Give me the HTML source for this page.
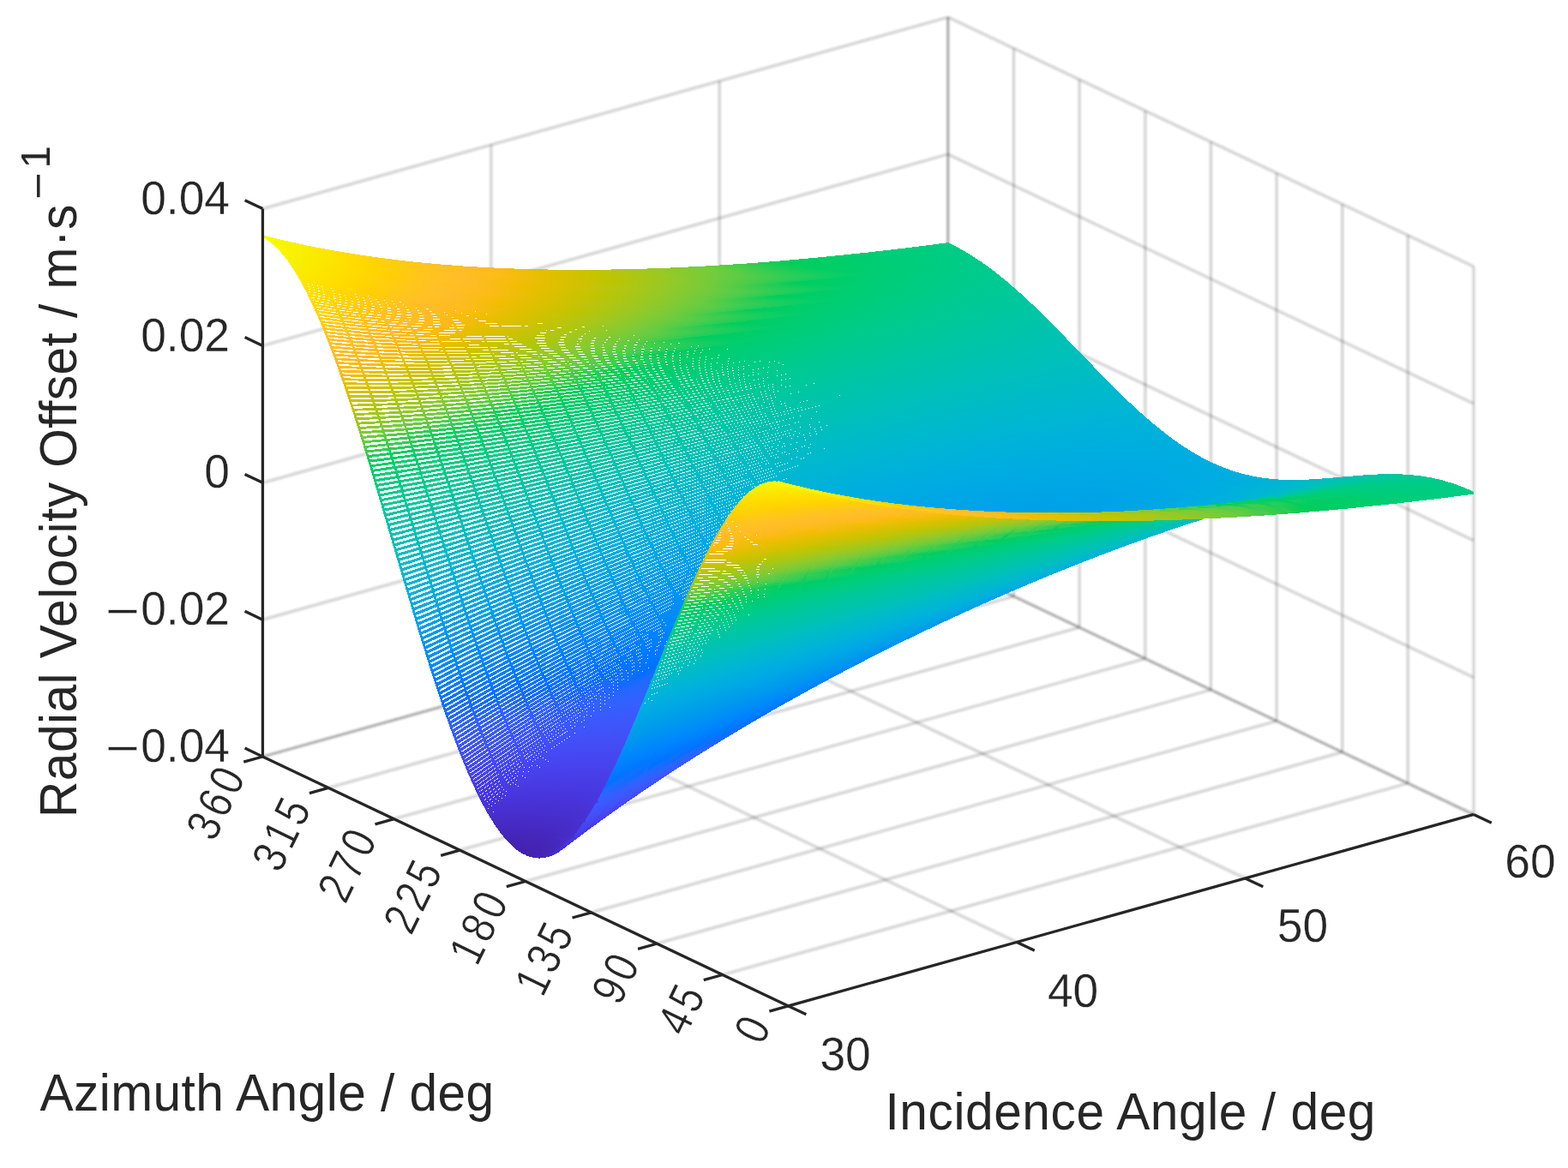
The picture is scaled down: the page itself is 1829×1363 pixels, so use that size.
<!DOCTYPE html>
<html lang="en"><head><meta charset="utf-8"><title>Radial Velocity Offset</title>
<style>
html,body{margin:0;padding:0;background:#fff}
body{width:1829px;height:1363px;overflow:hidden}
svg{display:block}
text{font-family:"Liberation Sans",Arial,Helvetica,sans-serif;fill:#262626}
</style></head><body>
<svg width="1829" height="1363" viewBox="0 0 1829 1363">
<defs>
<filter id="bl" x="0" y="0" width="1829" height="1363" filterUnits="userSpaceOnUse"><feGaussianBlur stdDeviation="0.8"/></filter>
<linearGradient id="a0" gradientUnits="userSpaceOnUse" x1="0" x2="799.4"><stop offset="0" stop-color="#f9fb00"/><stop offset=".043" stop-color="#f8f000"/><stop offset=".09" stop-color="#fce400"/><stop offset=".142" stop-color="#ffd700"/><stop offset=".197" stop-color="#ffca12"/><stop offset=".257" stop-color="#ffbf28"/><stop offset=".322" stop-color="#ffbb1d"/><stop offset=".393" stop-color="#e8be00"/><stop offset=".471" stop-color="#c9c300"/><stop offset=".557" stop-color="#a2c81e"/><stop offset=".653" stop-color="#70cc3e"/><stop offset=".761" stop-color="#00ce5a"/><stop offset=".886" stop-color="#00ce74"/><stop offset="1" stop-color="#00cc86"/></linearGradient>
<linearGradient id="a1" gradientUnits="userSpaceOnUse" x1="0" x2="799.4"><stop offset="0" stop-color="#f9fb00"/><stop offset=".043" stop-color="#f8f000"/><stop offset=".09" stop-color="#fce400"/><stop offset=".142" stop-color="#ffd700"/><stop offset=".197" stop-color="#ffca12"/><stop offset=".257" stop-color="#ffbf28"/><stop offset=".322" stop-color="#ffbb1d"/><stop offset=".393" stop-color="#e8be00"/><stop offset=".471" stop-color="#c9c300"/><stop offset=".557" stop-color="#a2c81e"/><stop offset=".653" stop-color="#70cc3e"/><stop offset=".761" stop-color="#00ce5a"/><stop offset=".886" stop-color="#00ce74"/><stop offset="1" stop-color="#00cc86"/></linearGradient>
<linearGradient id="a2" gradientUnits="userSpaceOnUse" x1="0" x2="799.4"><stop offset="0" stop-color="#f9fb00"/><stop offset=".043" stop-color="#f8f000"/><stop offset=".09" stop-color="#fce300"/><stop offset=".142" stop-color="#ffd700"/><stop offset=".197" stop-color="#ffca12"/><stop offset=".257" stop-color="#ffbf29"/><stop offset=".322" stop-color="#ffbb1d"/><stop offset=".393" stop-color="#e8be00"/><stop offset=".471" stop-color="#c9c300"/><stop offset=".557" stop-color="#a2c81e"/><stop offset=".653" stop-color="#70cc3e"/><stop offset=".761" stop-color="#00ce5a"/><stop offset=".886" stop-color="#00ce74"/><stop offset="1" stop-color="#00cc86"/></linearGradient>
<linearGradient id="a3" gradientUnits="userSpaceOnUse" x1="0" x2="799.4"><stop offset="0" stop-color="#f9fb00"/><stop offset=".043" stop-color="#f8ef00"/><stop offset=".09" stop-color="#fce300"/><stop offset=".142" stop-color="#ffd700"/><stop offset=".197" stop-color="#ffca12"/><stop offset=".257" stop-color="#ffbf29"/><stop offset=".322" stop-color="#ffbb1c"/><stop offset=".393" stop-color="#e8be00"/><stop offset=".471" stop-color="#c8c300"/><stop offset=".557" stop-color="#a1c81e"/><stop offset=".653" stop-color="#6fcc3e"/><stop offset=".761" stop-color="#00ce5a"/><stop offset=".886" stop-color="#00ce74"/><stop offset="1" stop-color="#00cc86"/></linearGradient>
<linearGradient id="a4" gradientUnits="userSpaceOnUse" x1="0" x2="799.4"><stop offset="0" stop-color="#f9fb00"/><stop offset=".043" stop-color="#f8ef00"/><stop offset=".09" stop-color="#fce300"/><stop offset=".142" stop-color="#ffd700"/><stop offset=".197" stop-color="#ffca12"/><stop offset=".257" stop-color="#ffbf29"/><stop offset=".322" stop-color="#ffbb1c"/><stop offset=".393" stop-color="#e8be00"/><stop offset=".471" stop-color="#c8c300"/><stop offset=".557" stop-color="#a1c81e"/><stop offset=".654" stop-color="#6ecc3f"/><stop offset=".764" stop-color="#00ce5b"/><stop offset=".889" stop-color="#00cd75"/><stop offset="1" stop-color="#00cc86"/></linearGradient>
<linearGradient id="a5" gradientUnits="userSpaceOnUse" x1="0" x2="799.4"><stop offset="0" stop-color="#f9fa00"/><stop offset=".044" stop-color="#f8ef00"/><stop offset=".092" stop-color="#fde300"/><stop offset=".143" stop-color="#ffd600"/><stop offset=".199" stop-color="#ffca14"/><stop offset=".258" stop-color="#ffbf29"/><stop offset=".324" stop-color="#ffbb1b"/><stop offset=".396" stop-color="#e6bf00"/><stop offset=".475" stop-color="#c6c300"/><stop offset=".562" stop-color="#9ec821"/><stop offset=".66" stop-color="#6acc41"/><stop offset=".769" stop-color="#00ce5c"/><stop offset=".896" stop-color="#00cd76"/><stop offset="1" stop-color="#00cc86"/></linearGradient>
<linearGradient id="a6" gradientUnits="userSpaceOnUse" x1="0" x2="799.4"><stop offset="0" stop-color="#f9fa00"/><stop offset=".044" stop-color="#f9ee00"/><stop offset=".092" stop-color="#fde200"/><stop offset=".143" stop-color="#ffd600"/><stop offset=".199" stop-color="#ffc914"/><stop offset=".258" stop-color="#ffbe29"/><stop offset=".324" stop-color="#ffbb1a"/><stop offset=".396" stop-color="#e6bf00"/><stop offset=".475" stop-color="#c5c300"/><stop offset=".562" stop-color="#9dc821"/><stop offset=".66" stop-color="#6acc41"/><stop offset=".769" stop-color="#00ce5c"/><stop offset=".896" stop-color="#00cd76"/><stop offset="1" stop-color="#00cc86"/></linearGradient>
<linearGradient id="a7" gradientUnits="userSpaceOnUse" x1="0" x2="799.4"><stop offset="0" stop-color="#f9fa00"/><stop offset=".044" stop-color="#f9ee00"/><stop offset=".092" stop-color="#fde200"/><stop offset=".143" stop-color="#ffd500"/><stop offset=".199" stop-color="#ffc915"/><stop offset=".258" stop-color="#ffbe29"/><stop offset=".324" stop-color="#ffbc1a"/><stop offset=".396" stop-color="#e5bf00"/><stop offset=".475" stop-color="#c5c400"/><stop offset=".562" stop-color="#9dc822"/><stop offset=".66" stop-color="#69cc41"/><stop offset=".771" stop-color="#00ce5d"/><stop offset=".897" stop-color="#00cd77"/><stop offset="1" stop-color="#00cc86"/></linearGradient>
<linearGradient id="a8" gradientUnits="userSpaceOnUse" x1="0" x2="799.4"><stop offset="0" stop-color="#f8f900"/><stop offset=".044" stop-color="#f9ee00"/><stop offset=".092" stop-color="#fde200"/><stop offset=".143" stop-color="#ffd500"/><stop offset=".199" stop-color="#ffc916"/><stop offset=".26" stop-color="#ffbe29"/><stop offset=".326" stop-color="#febc17"/><stop offset=".399" stop-color="#e3bf00"/><stop offset=".478" stop-color="#c3c400"/><stop offset=".565" stop-color="#9bc923"/><stop offset=".664" stop-color="#66cc43"/><stop offset=".775" stop-color="#00ce5e"/><stop offset=".903" stop-color="#00cd78"/><stop offset="1" stop-color="#00cc87"/></linearGradient>
<linearGradient id="a9" gradientUnits="userSpaceOnUse" x1="0" x2="799.4"><stop offset="0" stop-color="#f8f900"/><stop offset=".044" stop-color="#f9ed00"/><stop offset=".092" stop-color="#fee100"/><stop offset=".143" stop-color="#ffd500"/><stop offset=".199" stop-color="#ffc817"/><stop offset=".26" stop-color="#ffbe29"/><stop offset=".326" stop-color="#fdbc16"/><stop offset=".399" stop-color="#e3bf00"/><stop offset=".478" stop-color="#c2c400"/><stop offset=".567" stop-color="#99c924"/><stop offset=".665" stop-color="#64cc44"/><stop offset=".776" stop-color="#00ce5f"/><stop offset=".906" stop-color="#00cd79"/><stop offset="1" stop-color="#00cc87"/></linearGradient>
<linearGradient id="a10" gradientUnits="userSpaceOnUse" x1="0" x2="799.4"><stop offset="0" stop-color="#f8f800"/><stop offset=".044" stop-color="#f9ed00"/><stop offset=".092" stop-color="#fee100"/><stop offset=".143" stop-color="#ffd400"/><stop offset=".199" stop-color="#ffc818"/><stop offset=".26" stop-color="#ffbe29"/><stop offset=".326" stop-color="#fcbc15"/><stop offset=".399" stop-color="#e2bf00"/><stop offset=".479" stop-color="#c1c400"/><stop offset=".568" stop-color="#98c926"/><stop offset=".668" stop-color="#61cc45"/><stop offset=".781" stop-color="#00ce60"/><stop offset=".91" stop-color="#00cd79"/><stop offset="1" stop-color="#00cc87"/></linearGradient>
<linearGradient id="a11" gradientUnits="userSpaceOnUse" x1="0" x2="799.4"><stop offset="0" stop-color="#f8f800"/><stop offset=".044" stop-color="#f9ec00"/><stop offset=".093" stop-color="#ffe000"/><stop offset=".144" stop-color="#ffd300"/><stop offset=".2" stop-color="#ffc719"/><stop offset=".261" stop-color="#ffbd29"/><stop offset=".328" stop-color="#fbbc13"/><stop offset=".401" stop-color="#e0bf00"/><stop offset=".482" stop-color="#bfc400"/><stop offset=".571" stop-color="#95c927"/><stop offset=".671" stop-color="#5ecc46"/><stop offset=".785" stop-color="#00ce62"/><stop offset=".915" stop-color="#00cd7b"/><stop offset="1" stop-color="#00cc87"/></linearGradient>
<linearGradient id="a12" gradientUnits="userSpaceOnUse" x1="0" x2="799.4"><stop offset="0" stop-color="#f8f700"/><stop offset=".044" stop-color="#f9eb00"/><stop offset=".093" stop-color="#ffdf00"/><stop offset=".146" stop-color="#ffd200"/><stop offset=".203" stop-color="#ffc61b"/><stop offset=".264" stop-color="#ffbd2a"/><stop offset=".331" stop-color="#f9bc0f"/><stop offset=".404" stop-color="#dec000"/><stop offset=".485" stop-color="#bcc501"/><stop offset=".575" stop-color="#92c929"/><stop offset=".676" stop-color="#59cd48"/><stop offset=".79" stop-color="#00ce63"/><stop offset=".922" stop-color="#00cd7c"/><stop offset="1" stop-color="#00cc87"/></linearGradient>
<linearGradient id="a13" gradientUnits="userSpaceOnUse" x1="0" x2="799.4"><stop offset="0" stop-color="#f8f600"/><stop offset=".044" stop-color="#f9eb00"/><stop offset=".093" stop-color="#ffde00"/><stop offset=".146" stop-color="#ffd200"/><stop offset=".203" stop-color="#ffc61c"/><stop offset=".265" stop-color="#ffbc2a"/><stop offset=".333" stop-color="#f8bc0b"/><stop offset=".407" stop-color="#dcc000"/><stop offset=".489" stop-color="#bac505"/><stop offset=".579" stop-color="#8fca2c"/><stop offset=".681" stop-color="#55cd4a"/><stop offset=".796" stop-color="#00ce65"/><stop offset=".929" stop-color="#00cd7d"/><stop offset="1" stop-color="#00cc88"/></linearGradient>
<linearGradient id="a14" gradientUnits="userSpaceOnUse" x1="0" x2="799.4"><stop offset="0" stop-color="#f8f600"/><stop offset=".044" stop-color="#f9ea00"/><stop offset=".093" stop-color="#ffde00"/><stop offset=".146" stop-color="#ffd100"/><stop offset=".203" stop-color="#ffc51e"/><stop offset=".265" stop-color="#ffbc2a"/><stop offset=".333" stop-color="#f7bc08"/><stop offset=".408" stop-color="#dac000"/><stop offset=".49" stop-color="#b8c507"/><stop offset=".582" stop-color="#8cca2d"/><stop offset=".685" stop-color="#50cd4c"/><stop offset=".801" stop-color="#00ce67"/><stop offset=".936" stop-color="#00cd7f"/><stop offset="1" stop-color="#00cc88"/></linearGradient>
<linearGradient id="a15" gradientUnits="userSpaceOnUse" x1="0" x2="799.4"><stop offset="0" stop-color="#f8f500"/><stop offset=".046" stop-color="#fae900"/><stop offset=".094" stop-color="#ffdd00"/><stop offset=".147" stop-color="#ffd000"/><stop offset=".204" stop-color="#ffc41f"/><stop offset=".267" stop-color="#ffbc2a"/><stop offset=".335" stop-color="#f5bc05"/><stop offset=".41" stop-color="#d9c100"/><stop offset=".493" stop-color="#b5c60b"/><stop offset=".585" stop-color="#89ca2f"/><stop offset=".689" stop-color="#4bcd4d"/><stop offset=".807" stop-color="#00ce68"/><stop offset=".944" stop-color="#00cd80"/><stop offset="1" stop-color="#00cc88"/></linearGradient>
<linearGradient id="a16" gradientUnits="userSpaceOnUse" x1="0" x2="799.4"><stop offset="0" stop-color="#f8f400"/><stop offset=".046" stop-color="#fae800"/><stop offset=".094" stop-color="#ffdc00"/><stop offset=".147" stop-color="#ffcf02"/><stop offset=".206" stop-color="#ffc421"/><stop offset=".268" stop-color="#ffbc28"/><stop offset=".338" stop-color="#f3bd02"/><stop offset=".414" stop-color="#d6c100"/><stop offset=".497" stop-color="#b2c60f"/><stop offset=".59" stop-color="#85ca32"/><stop offset=".694" stop-color="#44cd50"/><stop offset=".814" stop-color="#00ce6a"/><stop offset=".953" stop-color="#00cc82"/><stop offset="1" stop-color="#00cc88"/></linearGradient>
<linearGradient id="a17" gradientUnits="userSpaceOnUse" x1="0" x2="799.4"><stop offset="0" stop-color="#f8f300"/><stop offset=".046" stop-color="#fae700"/><stop offset=".096" stop-color="#ffdb00"/><stop offset=".15" stop-color="#ffce06"/><stop offset=".208" stop-color="#ffc223"/><stop offset=".272" stop-color="#ffbb25"/><stop offset=".342" stop-color="#f0bd00"/><stop offset=".418" stop-color="#d3c200"/><stop offset=".503" stop-color="#aec713"/><stop offset=".597" stop-color="#80cb35"/><stop offset=".703" stop-color="#3acd52"/><stop offset=".824" stop-color="#00ce6d"/><stop offset=".965" stop-color="#00cc84"/><stop offset="1" stop-color="#00cc89"/></linearGradient>
<linearGradient id="a18" gradientUnits="userSpaceOnUse" x1="0" x2="799.4"><stop offset="0" stop-color="#f8f200"/><stop offset=".046" stop-color="#fbe600"/><stop offset=".096" stop-color="#ffda00"/><stop offset=".15" stop-color="#ffcd09"/><stop offset=".208" stop-color="#ffc224"/><stop offset=".272" stop-color="#ffbb24"/><stop offset=".342" stop-color="#efbd00"/><stop offset=".418" stop-color="#d1c200"/><stop offset=".503" stop-color="#acc715"/><stop offset=".597" stop-color="#7ecb36"/><stop offset=".704" stop-color="#35cd53"/><stop offset=".826" stop-color="#00ce6e"/><stop offset=".969" stop-color="#00cc85"/><stop offset="1" stop-color="#00cc89"/></linearGradient>
<linearGradient id="a19" gradientUnits="userSpaceOnUse" x1="0" x2="799.4"><stop offset="0" stop-color="#f8f100"/><stop offset=".046" stop-color="#fbe500"/><stop offset=".096" stop-color="#ffd900"/><stop offset=".15" stop-color="#ffcc0c"/><stop offset=".208" stop-color="#ffc125"/><stop offset=".272" stop-color="#ffbb22"/><stop offset=".343" stop-color="#edbe00"/><stop offset=".421" stop-color="#cec200"/><stop offset=".507" stop-color="#a9c718"/><stop offset=".603" stop-color="#79cb39"/><stop offset=".711" stop-color="#29ce56"/><stop offset=".835" stop-color="#00ce70"/><stop offset=".981" stop-color="#00cc87"/><stop offset="1" stop-color="#00cc89"/></linearGradient>
<linearGradient id="a20" gradientUnits="userSpaceOnUse" x1="0" x2="799.4"><stop offset="0" stop-color="#f8f000"/><stop offset=".046" stop-color="#fce400"/><stop offset=".096" stop-color="#ffd800"/><stop offset=".15" stop-color="#ffcc0f"/><stop offset=".21" stop-color="#ffc027"/><stop offset=".275" stop-color="#ffbb1f"/><stop offset=".346" stop-color="#eabe00"/><stop offset=".424" stop-color="#ccc300"/><stop offset=".511" stop-color="#a5c81b"/><stop offset=".608" stop-color="#74cb3c"/><stop offset=".718" stop-color="#17ce58"/><stop offset=".844" stop-color="#00ce72"/><stop offset=".993" stop-color="#00cc89"/><stop offset="1" stop-color="#00cb8a"/></linearGradient>
<linearGradient id="a21" gradientUnits="userSpaceOnUse" x1="0" x2="799.4"><stop offset="0" stop-color="#f8ef00"/><stop offset=".047" stop-color="#fce300"/><stop offset=".099" stop-color="#ffd600"/><stop offset=".154" stop-color="#ffca13"/><stop offset=".214" stop-color="#ffbf29"/><stop offset=".279" stop-color="#ffbb1b"/><stop offset=".351" stop-color="#e7be00"/><stop offset=".431" stop-color="#c7c300"/><stop offset=".519" stop-color="#9fc820"/><stop offset=".618" stop-color="#6ccc40"/><stop offset=".731" stop-color="#00ce5c"/><stop offset=".86" stop-color="#00cd76"/><stop offset="1" stop-color="#00cb8a"/></linearGradient>
<linearGradient id="a22" gradientUnits="userSpaceOnUse" x1="0" x2="799.4"><stop offset="0" stop-color="#f9ee00"/><stop offset=".047" stop-color="#fde200"/><stop offset=".099" stop-color="#ffd500"/><stop offset=".154" stop-color="#ffc916"/><stop offset=".215" stop-color="#ffbe29"/><stop offset=".282" stop-color="#febc17"/><stop offset=".354" stop-color="#e4bf00"/><stop offset=".435" stop-color="#c3c400"/><stop offset=".524" stop-color="#9bc923"/><stop offset=".624" stop-color="#66cc43"/><stop offset=".738" stop-color="#00ce5e"/><stop offset=".868" stop-color="#00cd78"/><stop offset="1" stop-color="#00cb8b"/></linearGradient>
<linearGradient id="a23" gradientUnits="userSpaceOnUse" x1="0" x2="799.4"><stop offset="0" stop-color="#f9ed00"/><stop offset=".047" stop-color="#fee000"/><stop offset=".099" stop-color="#ffd400"/><stop offset=".154" stop-color="#ffc818"/><stop offset=".215" stop-color="#ffbd29"/><stop offset=".282" stop-color="#fcbc15"/><stop offset=".356" stop-color="#e1bf00"/><stop offset=".436" stop-color="#c1c400"/><stop offset=".526" stop-color="#97c926"/><stop offset=".628" stop-color="#61cc45"/><stop offset=".743" stop-color="#00ce60"/><stop offset=".876" stop-color="#00cd7a"/><stop offset="1" stop-color="#00cb8b"/></linearGradient>
<linearGradient id="a24" gradientUnits="userSpaceOnUse" x1="0" x2="799.4"><stop offset="0" stop-color="#f9eb00"/><stop offset=".047" stop-color="#ffdf00"/><stop offset=".099" stop-color="#ffd300"/><stop offset=".156" stop-color="#ffc71b"/><stop offset=".217" stop-color="#ffbd2a"/><stop offset=".285" stop-color="#f9bc0f"/><stop offset=".358" stop-color="#dec000"/><stop offset=".44" stop-color="#bdc501"/><stop offset=".532" stop-color="#92c929"/><stop offset=".635" stop-color="#5acd48"/><stop offset=".751" stop-color="#00ce63"/><stop offset=".888" stop-color="#00cd7c"/><stop offset="1" stop-color="#00cb8c"/></linearGradient>
<linearGradient id="a25" gradientUnits="userSpaceOnUse" x1="0" x2="799.4"><stop offset="0" stop-color="#f9ea00"/><stop offset=".049" stop-color="#ffdd00"/><stop offset=".101" stop-color="#ffd100"/><stop offset=".158" stop-color="#ffc51e"/><stop offset=".221" stop-color="#ffbc2a"/><stop offset=".289" stop-color="#f6bc07"/><stop offset=".364" stop-color="#dac000"/><stop offset=".447" stop-color="#b7c508"/><stop offset=".54" stop-color="#8cca2e"/><stop offset=".644" stop-color="#50cd4c"/><stop offset=".764" stop-color="#00ce67"/><stop offset=".903" stop-color="#00cd7f"/><stop offset="1" stop-color="#00cb8c"/></linearGradient>
<linearGradient id="a26" gradientUnits="userSpaceOnUse" x1="0" x2="799.4"><stop offset="0" stop-color="#fae800"/><stop offset=".049" stop-color="#ffdc00"/><stop offset=".101" stop-color="#ffd001"/><stop offset=".158" stop-color="#ffc420"/><stop offset=".221" stop-color="#ffbc29"/><stop offset=".29" stop-color="#f4bd03"/><stop offset=".367" stop-color="#d7c100"/><stop offset=".451" stop-color="#b3c60d"/><stop offset=".546" stop-color="#86ca31"/><stop offset=".653" stop-color="#46cd4f"/><stop offset=".775" stop-color="#00ce6a"/><stop offset=".917" stop-color="#00cd82"/><stop offset="1" stop-color="#00cb8c"/></linearGradient>
<linearGradient id="a27" gradientUnits="userSpaceOnUse" x1="0" x2="799.4"><stop offset="0" stop-color="#fbe700"/><stop offset=".049" stop-color="#ffdb00"/><stop offset=".101" stop-color="#ffce06"/><stop offset=".16" stop-color="#ffc223"/><stop offset=".224" stop-color="#ffbb26"/><stop offset=".293" stop-color="#f1bd00"/><stop offset=".371" stop-color="#d3c200"/><stop offset=".457" stop-color="#aec613"/><stop offset=".553" stop-color="#80cb35"/><stop offset=".661" stop-color="#3acd52"/><stop offset=".785" stop-color="#00ce6d"/><stop offset=".931" stop-color="#00cc84"/><stop offset="1" stop-color="#00cb8d"/></linearGradient>
<linearGradient id="a28" gradientUnits="userSpaceOnUse" x1="0" x2="799.4"><stop offset="0" stop-color="#fbe500"/><stop offset=".05" stop-color="#ffd900"/><stop offset=".104" stop-color="#ffcc0c"/><stop offset=".163" stop-color="#ffc125"/><stop offset=".226" stop-color="#ffbb22"/><stop offset=".297" stop-color="#edbe00"/><stop offset=".375" stop-color="#cfc200"/><stop offset=".463" stop-color="#a9c718"/><stop offset=".56" stop-color="#79cb39"/><stop offset=".669" stop-color="#2bcd55"/><stop offset=".796" stop-color="#00ce70"/><stop offset=".944" stop-color="#00cc87"/><stop offset="1" stop-color="#00cb8d"/></linearGradient>
<linearGradient id="a29" gradientUnits="userSpaceOnUse" x1="0" x2="799.4"><stop offset="0" stop-color="#fce400"/><stop offset=".05" stop-color="#ffd700"/><stop offset=".104" stop-color="#ffcb10"/><stop offset=".164" stop-color="#ffbf28"/><stop offset=".229" stop-color="#ffbb1e"/><stop offset=".301" stop-color="#e9be00"/><stop offset=".381" stop-color="#cac300"/><stop offset=".469" stop-color="#a3c81d"/><stop offset=".569" stop-color="#71cc3e"/><stop offset=".682" stop-color="#06ce59"/><stop offset=".812" stop-color="#00ce74"/><stop offset=".967" stop-color="#00cb8a"/><stop offset="1" stop-color="#00cb8e"/></linearGradient>
<linearGradient id="a30" gradientUnits="userSpaceOnUse" x1="0" x2="799.4"><stop offset="0" stop-color="#fde200"/><stop offset=".05" stop-color="#ffd600"/><stop offset=".106" stop-color="#ffc915"/><stop offset=".165" stop-color="#ffbe29"/><stop offset=".232" stop-color="#ffbb1a"/><stop offset=".304" stop-color="#e6bf00"/><stop offset=".385" stop-color="#c6c300"/><stop offset=".475" stop-color="#9dc821"/><stop offset=".576" stop-color="#6acc41"/><stop offset=".692" stop-color="#00ce5d"/><stop offset=".825" stop-color="#00cd77"/><stop offset=".983" stop-color="#00cb8d"/><stop offset="1" stop-color="#00cb8e"/></linearGradient>
<linearGradient id="a31" gradientUnits="userSpaceOnUse" x1="0" x2="799.4"><stop offset="0" stop-color="#fee000"/><stop offset=".051" stop-color="#ffd400"/><stop offset=".107" stop-color="#ffc819"/><stop offset=".168" stop-color="#ffbd29"/><stop offset=".235" stop-color="#fcbc14"/><stop offset=".308" stop-color="#e1bf00"/><stop offset=".39" stop-color="#c0c400"/><stop offset=".482" stop-color="#97c926"/><stop offset=".585" stop-color="#61cc45"/><stop offset=".703" stop-color="#00ce61"/><stop offset=".839" stop-color="#00cd7a"/><stop offset="1" stop-color="#00cb8f"/></linearGradient>
<linearGradient id="a32" gradientUnits="userSpaceOnUse" x1="0" x2="799.4"><stop offset="0" stop-color="#ffdf00"/><stop offset=".051" stop-color="#ffd200"/><stop offset=".108" stop-color="#ffc61c"/><stop offset=".171" stop-color="#ffbc2a"/><stop offset=".239" stop-color="#f8bc0c"/><stop offset=".314" stop-color="#ddc000"/><stop offset=".397" stop-color="#bac504"/><stop offset=".49" stop-color="#90ca2b"/><stop offset=".596" stop-color="#56cd4a"/><stop offset=".717" stop-color="#00ce65"/><stop offset=".857" stop-color="#00cd7d"/><stop offset="1" stop-color="#00cb90"/></linearGradient>
<linearGradient id="a33" gradientUnits="userSpaceOnUse" x1="0" x2="799.4"><stop offset="0" stop-color="#ffdd00"/><stop offset=".053" stop-color="#ffd000"/><stop offset=".11" stop-color="#ffc41f"/><stop offset=".172" stop-color="#ffbc2a"/><stop offset=".242" stop-color="#f5bc04"/><stop offset=".318" stop-color="#d8c100"/><stop offset=".403" stop-color="#b5c60b"/><stop offset=".499" stop-color="#88ca30"/><stop offset=".607" stop-color="#49cd4e"/><stop offset=".731" stop-color="#00ce69"/><stop offset=".875" stop-color="#00cd81"/><stop offset="1" stop-color="#00ca90"/></linearGradient>
<linearGradient id="a34" gradientUnits="userSpaceOnUse" x1="0" x2="799.4"><stop offset="0" stop-color="#ffdb00"/><stop offset=".053" stop-color="#ffce06"/><stop offset=".111" stop-color="#ffc223"/><stop offset=".175" stop-color="#ffbb26"/><stop offset=".246" stop-color="#f0bd00"/><stop offset=".324" stop-color="#d3c200"/><stop offset=".41" stop-color="#aec613"/><stop offset=".507" stop-color="#80cb35"/><stop offset=".617" stop-color="#3bcd52"/><stop offset=".743" stop-color="#00ce6c"/><stop offset=".892" stop-color="#00cc84"/><stop offset="1" stop-color="#00ca91"/></linearGradient>
<linearGradient id="a35" gradientUnits="userSpaceOnUse" x1="0" x2="799.4"><stop offset="0" stop-color="#ffd900"/><stop offset=".054" stop-color="#ffcc0c"/><stop offset=".113" stop-color="#ffc126"/><stop offset=".176" stop-color="#ffbb22"/><stop offset=".247" stop-color="#edbe00"/><stop offset=".326" stop-color="#cec200"/><stop offset=".414" stop-color="#a9c718"/><stop offset=".513" stop-color="#79cb39"/><stop offset=".625" stop-color="#2ace56"/><stop offset=".754" stop-color="#00ce70"/><stop offset=".907" stop-color="#00cc87"/><stop offset="1" stop-color="#00ca91"/></linearGradient>
<linearGradient id="a36" gradientUnits="userSpaceOnUse" x1="0" x2="799.4"><stop offset="0" stop-color="#ffd700"/><stop offset=".054" stop-color="#ffcb11"/><stop offset=".114" stop-color="#ffbf28"/><stop offset=".179" stop-color="#ffbb1d"/><stop offset=".251" stop-color="#e8be00"/><stop offset=".332" stop-color="#c9c300"/><stop offset=".422" stop-color="#a2c81e"/><stop offset=".524" stop-color="#6fcc3e"/><stop offset=".639" stop-color="#00ce5a"/><stop offset=".772" stop-color="#00ce74"/><stop offset=".931" stop-color="#00cb8a"/><stop offset="1" stop-color="#00ca92"/></linearGradient>
<linearGradient id="a37" gradientUnits="userSpaceOnUse" x1="0" x2="799.4"><stop offset="0" stop-color="#ffd500"/><stop offset=".056" stop-color="#ffc817"/><stop offset=".115" stop-color="#ffbe29"/><stop offset=".182" stop-color="#febc17"/><stop offset=".256" stop-color="#e3bf00"/><stop offset=".338" stop-color="#c3c400"/><stop offset=".429" stop-color="#9ac924"/><stop offset=".533" stop-color="#65cc43"/><stop offset=".651" stop-color="#00ce5e"/><stop offset=".789" stop-color="#00cd78"/><stop offset=".954" stop-color="#00cb8e"/><stop offset="1" stop-color="#00ca92"/></linearGradient>
<linearGradient id="a38" gradientUnits="userSpaceOnUse" x1="0" x2="799.4"><stop offset="0" stop-color="#ffd300"/><stop offset=".056" stop-color="#ffc71b"/><stop offset=".117" stop-color="#ffbd2a"/><stop offset=".185" stop-color="#fabc10"/><stop offset=".26" stop-color="#dec000"/><stop offset=".343" stop-color="#bdc501"/><stop offset=".438" stop-color="#92c929"/><stop offset=".544" stop-color="#59cd48"/><stop offset=".667" stop-color="#00ce63"/><stop offset=".81" stop-color="#00cd7c"/><stop offset=".982" stop-color="#00ca91"/><stop offset="1" stop-color="#00ca93"/></linearGradient>
<linearGradient id="a39" gradientUnits="userSpaceOnUse" x1="0" x2="799.4"><stop offset="0" stop-color="#ffd100"/><stop offset=".057" stop-color="#ffc51f"/><stop offset=".119" stop-color="#ffbc2a"/><stop offset=".189" stop-color="#f5bc05"/><stop offset=".265" stop-color="#d9c100"/><stop offset=".351" stop-color="#b5c60b"/><stop offset=".447" stop-color="#89ca2f"/><stop offset=".557" stop-color="#4bcd4d"/><stop offset=".683" stop-color="#00ce68"/><stop offset=".831" stop-color="#00cd80"/><stop offset="1" stop-color="#00ca94"/></linearGradient>
<linearGradient id="a40" gradientUnits="userSpaceOnUse" x1="0" x2="799.4"><stop offset="0" stop-color="#ffce05"/><stop offset=".057" stop-color="#ffc322"/><stop offset=".121" stop-color="#ffbb26"/><stop offset=".19" stop-color="#f1bd00"/><stop offset=".268" stop-color="#d4c100"/><stop offset=".356" stop-color="#afc612"/><stop offset=".454" stop-color="#81cb34"/><stop offset=".567" stop-color="#3ccd52"/><stop offset=".696" stop-color="#00ce6c"/><stop offset=".849" stop-color="#00cc84"/><stop offset="1" stop-color="#00ca94"/></linearGradient>
<linearGradient id="a41" gradientUnits="userSpaceOnUse" x1="0" x2="799.4"><stop offset="0" stop-color="#ffcc0d"/><stop offset=".058" stop-color="#ffc126"/><stop offset=".122" stop-color="#ffbb21"/><stop offset=".193" stop-color="#ecbe00"/><stop offset=".272" stop-color="#cec200"/><stop offset=".361" stop-color="#a8c718"/><stop offset=".463" stop-color="#78cb3a"/><stop offset=".578" stop-color="#27ce56"/><stop offset=".711" stop-color="#00ce70"/><stop offset=".869" stop-color="#00cc87"/><stop offset="1" stop-color="#00c995"/></linearGradient>
<linearGradient id="a42" gradientUnits="userSpaceOnUse" x1="0" x2="799.4"><stop offset="0" stop-color="#ffca13"/><stop offset=".06" stop-color="#ffbf29"/><stop offset=".125" stop-color="#ffbb1c"/><stop offset=".197" stop-color="#e7be00"/><stop offset=".279" stop-color="#c7c300"/><stop offset=".371" stop-color="#a0c81f"/><stop offset=".475" stop-color="#6ccc40"/><stop offset=".594" stop-color="#00ce5c"/><stop offset=".733" stop-color="#00cd76"/><stop offset=".899" stop-color="#00cb8c"/><stop offset="1" stop-color="#00c996"/></linearGradient>
<linearGradient id="a43" gradientUnits="userSpaceOnUse" x1="0" x2="799.4"><stop offset="0" stop-color="#ffc818"/><stop offset=".06" stop-color="#ffbd29"/><stop offset=".126" stop-color="#fcbc15"/><stop offset=".2" stop-color="#e2bf00"/><stop offset=".283" stop-color="#c1c400"/><stop offset=".376" stop-color="#98c925"/><stop offset=".483" stop-color="#62cc45"/><stop offset=".606" stop-color="#00ce60"/><stop offset=".749" stop-color="#00cd79"/><stop offset=".921" stop-color="#00cb8f"/><stop offset="1" stop-color="#00c996"/></linearGradient>
<linearGradient id="a44" gradientUnits="userSpaceOnUse" x1="0" x2="799.4"><stop offset="0" stop-color="#ffc61d"/><stop offset=".061" stop-color="#ffbc2a"/><stop offset=".129" stop-color="#f8bc0b"/><stop offset=".206" stop-color="#dcc000"/><stop offset=".29" stop-color="#b9c505"/><stop offset=".386" stop-color="#8eca2c"/><stop offset=".496" stop-color="#54cd4a"/><stop offset=".622" stop-color="#00ce65"/><stop offset=".771" stop-color="#00cd7e"/><stop offset=".951" stop-color="#00ca93"/><stop offset="1" stop-color="#00c997"/></linearGradient>
<linearGradient id="a45" gradientUnits="userSpaceOnUse" x1="0" x2="799.4"><stop offset="0" stop-color="#ffc321"/><stop offset=".062" stop-color="#ffbb28"/><stop offset=".132" stop-color="#f3bd01"/><stop offset=".21" stop-color="#d6c100"/><stop offset=".297" stop-color="#b1c610"/><stop offset=".396" stop-color="#84ca32"/><stop offset=".508" stop-color="#43cd50"/><stop offset=".639" stop-color="#00ce6a"/><stop offset=".793" stop-color="#00cc82"/><stop offset=".982" stop-color="#00c996"/><stop offset="1" stop-color="#00c998"/></linearGradient>
<linearGradient id="a46" gradientUnits="userSpaceOnUse" x1="0" x2="799.4"><stop offset="0" stop-color="#ffc125"/><stop offset=".064" stop-color="#ffbb22"/><stop offset=".135" stop-color="#edbe00"/><stop offset=".214" stop-color="#cfc200"/><stop offset=".303" stop-color="#aac717"/><stop offset=".404" stop-color="#7acb38"/><stop offset=".521" stop-color="#2dcd55"/><stop offset=".657" stop-color="#00ce6f"/><stop offset=".818" stop-color="#00cc86"/><stop offset="1" stop-color="#00c999"/></linearGradient>
<linearGradient id="a47" gradientUnits="userSpaceOnUse" x1="0" x2="799.4"><stop offset="0" stop-color="#ffbf28"/><stop offset=".065" stop-color="#ffbb1d"/><stop offset=".138" stop-color="#e8be00"/><stop offset=".219" stop-color="#c8c300"/><stop offset=".311" stop-color="#a1c81e"/><stop offset=".415" stop-color="#6fcc3f"/><stop offset=".536" stop-color="#00ce5b"/><stop offset=".678" stop-color="#00cd75"/><stop offset=".847" stop-color="#00cb8b"/><stop offset="1" stop-color="#00c999"/></linearGradient>
<linearGradient id="a48" gradientUnits="userSpaceOnUse" x1="0" x2="799.4"><stop offset="0" stop-color="#ffbe29"/><stop offset=".067" stop-color="#fcbc15"/><stop offset=".14" stop-color="#e2bf00"/><stop offset=".224" stop-color="#c1c400"/><stop offset=".318" stop-color="#98c926"/><stop offset=".426" stop-color="#61cc45"/><stop offset=".551" stop-color="#00ce60"/><stop offset=".699" stop-color="#00cd79"/><stop offset=".876" stop-color="#00cb8f"/><stop offset="1" stop-color="#00c89a"/></linearGradient>
<linearGradient id="a49" gradientUnits="userSpaceOnUse" x1="0" x2="799.4"><stop offset="0" stop-color="#ffbc2a"/><stop offset=".068" stop-color="#f7bc0a"/><stop offset=".144" stop-color="#dbc000"/><stop offset=".231" stop-color="#b8c507"/><stop offset=".328" stop-color="#8dca2d"/><stop offset=".439" stop-color="#52cd4b"/><stop offset=".568" stop-color="#00ce66"/><stop offset=".721" stop-color="#00cd7e"/><stop offset=".908" stop-color="#00ca93"/><stop offset="1" stop-color="#00c89b"/></linearGradient>
<linearGradient id="a50" gradientUnits="userSpaceOnUse" x1="0" x2="799.4"><stop offset="0" stop-color="#ffbb27"/><stop offset=".069" stop-color="#f2bd01"/><stop offset=".147" stop-color="#d5c100"/><stop offset=".235" stop-color="#b1c610"/><stop offset=".335" stop-color="#83ca33"/><stop offset=".45" stop-color="#41cd50"/><stop offset=".585" stop-color="#00ce6b"/><stop offset=".744" stop-color="#00cc83"/><stop offset=".942" stop-color="#00c997"/><stop offset="1" stop-color="#00c89b"/></linearGradient>
<linearGradient id="a51" gradientUnits="userSpaceOnUse" x1="0" x2="799.4"><stop offset="0" stop-color="#ffbb22"/><stop offset=".071" stop-color="#ecbe00"/><stop offset=".15" stop-color="#cec200"/><stop offset=".24" stop-color="#a8c719"/><stop offset=".343" stop-color="#78cb3a"/><stop offset=".463" stop-color="#27ce56"/><stop offset=".603" stop-color="#00ce70"/><stop offset=".771" stop-color="#00cc87"/><stop offset=".981" stop-color="#00c89b"/><stop offset="1" stop-color="#00c89c"/></linearGradient>
<linearGradient id="a52" gradientUnits="userSpaceOnUse" x1="0" x2="799.4"><stop offset="0" stop-color="#ffbb1b"/><stop offset=".072" stop-color="#e6bf00"/><stop offset=".154" stop-color="#c6c300"/><stop offset=".247" stop-color="#9fc820"/><stop offset=".354" stop-color="#6bcc40"/><stop offset=".478" stop-color="#00ce5c"/><stop offset=".624" stop-color="#00cd76"/><stop offset=".8" stop-color="#00cb8c"/><stop offset="1" stop-color="#00c89d"/></linearGradient>
<linearGradient id="a53" gradientUnits="userSpaceOnUse" x1="0" x2="799.4"><stop offset="0" stop-color="#fbbc12"/><stop offset=".074" stop-color="#e0c000"/><stop offset=".157" stop-color="#bfc400"/><stop offset=".253" stop-color="#95c927"/><stop offset=".362" stop-color="#5ecc46"/><stop offset=".492" stop-color="#00ce62"/><stop offset=".644" stop-color="#00cd7b"/><stop offset=".831" stop-color="#00ca90"/><stop offset="1" stop-color="#00c79e"/></linearGradient>
<linearGradient id="a54" gradientUnits="userSpaceOnUse" x1="0" x2="799.4"><stop offset="0" stop-color="#f6bc06"/><stop offset=".075" stop-color="#dac100"/><stop offset=".161" stop-color="#b6c609"/><stop offset=".26" stop-color="#8bca2e"/><stop offset=".374" stop-color="#4ecd4d"/><stop offset=".507" stop-color="#00ce67"/><stop offset=".667" stop-color="#00cd7f"/><stop offset=".864" stop-color="#00ca94"/><stop offset="1" stop-color="#00c79e"/></linearGradient>
<linearGradient id="a55" gradientUnits="userSpaceOnUse" x1="0" x2="799.4"><stop offset="0" stop-color="#f0bd00"/><stop offset=".078" stop-color="#d2c200"/><stop offset=".167" stop-color="#adc714"/><stop offset=".269" stop-color="#7ecb36"/><stop offset=".389" stop-color="#35cd53"/><stop offset=".529" stop-color="#00ce6e"/><stop offset=".699" stop-color="#00cc85"/><stop offset=".91" stop-color="#00c999"/><stop offset="1" stop-color="#00c79f"/></linearGradient>
<linearGradient id="a56" gradientUnits="userSpaceOnUse" x1="0" x2="799.4"><stop offset="0" stop-color="#eabe00"/><stop offset=".079" stop-color="#cac300"/><stop offset=".171" stop-color="#a4c81c"/><stop offset=".276" stop-color="#72cc3d"/><stop offset=".4" stop-color="#0fce59"/><stop offset=".546" stop-color="#00ce73"/><stop offset=".724" stop-color="#00cc89"/><stop offset=".949" stop-color="#00c89d"/><stop offset="1" stop-color="#00c7a0"/></linearGradient>
<linearGradient id="a57" gradientUnits="userSpaceOnUse" x1="0" x2="799.4"><stop offset="0" stop-color="#e3bf00"/><stop offset=".082" stop-color="#c2c400"/><stop offset=".176" stop-color="#99c924"/><stop offset=".286" stop-color="#64cc44"/><stop offset=".415" stop-color="#00ce5f"/><stop offset=".569" stop-color="#00cd79"/><stop offset=".758" stop-color="#00cb8e"/><stop offset="1" stop-color="#00c7a1"/></linearGradient>
<linearGradient id="a58" gradientUnits="userSpaceOnUse" x1="0" x2="799.4"><stop offset="0" stop-color="#dcc000"/><stop offset=".085" stop-color="#b9c506"/><stop offset=".182" stop-color="#8eca2c"/><stop offset=".296" stop-color="#53cd4a"/><stop offset=".431" stop-color="#00ce65"/><stop offset=".593" stop-color="#00cd7e"/><stop offset=".794" stop-color="#00ca93"/><stop offset="1" stop-color="#00c7a1"/></linearGradient>
<linearGradient id="a59" gradientUnits="userSpaceOnUse" x1="0" x2="799.4"><stop offset="0" stop-color="#d4c100"/><stop offset=".088" stop-color="#b0c611"/><stop offset=".189" stop-color="#82cb34"/><stop offset=".307" stop-color="#3ecd51"/><stop offset=".447" stop-color="#00ce6b"/><stop offset=".618" stop-color="#00cc83"/><stop offset=".832" stop-color="#00c997"/><stop offset="1" stop-color="#00c6a2"/></linearGradient>
<linearGradient id="a60" gradientUnits="userSpaceOnUse" x1="0" x2="799.4"><stop offset="0" stop-color="#ccc300"/><stop offset=".09" stop-color="#a6c71b"/><stop offset=".194" stop-color="#76cb3b"/><stop offset=".318" stop-color="#1ece57"/><stop offset=".465" stop-color="#00ce71"/><stop offset=".646" stop-color="#00cc88"/><stop offset=".876" stop-color="#00c89b"/><stop offset="1" stop-color="#00c6a3"/></linearGradient>
<linearGradient id="a61" gradientUnits="userSpaceOnUse" x1="0" x2="799.4"><stop offset="0" stop-color="#c4c400"/><stop offset=".093" stop-color="#9bc823"/><stop offset=".201" stop-color="#67cc42"/><stop offset=".331" stop-color="#00ce5e"/><stop offset=".486" stop-color="#00cd77"/><stop offset=".679" stop-color="#00cb8d"/><stop offset=".929" stop-color="#00c7a0"/><stop offset="1" stop-color="#00c6a4"/></linearGradient>
<linearGradient id="a62" gradientUnits="userSpaceOnUse" x1="0" x2="799.4"><stop offset="0" stop-color="#bbc504"/><stop offset=".096" stop-color="#90c92b"/><stop offset=".21" stop-color="#56cd49"/><stop offset=".344" stop-color="#00ce64"/><stop offset=".508" stop-color="#00cd7d"/><stop offset=".714" stop-color="#00ca92"/><stop offset=".986" stop-color="#00c6a4"/><stop offset="1" stop-color="#00c6a4"/></linearGradient>
<linearGradient id="a63" gradientUnits="userSpaceOnUse" x1="0" x2="799.4"><stop offset="0" stop-color="#b1c610"/><stop offset=".1" stop-color="#84ca33"/><stop offset=".218" stop-color="#42cd50"/><stop offset=".36" stop-color="#00ce6b"/><stop offset=".533" stop-color="#00cc82"/><stop offset=".754" stop-color="#00c997"/><stop offset="1" stop-color="#00c6a5"/></linearGradient>
<linearGradient id="a64" gradientUnits="userSpaceOnUse" x1="0" x2="799.4"><stop offset="0" stop-color="#a7c71a"/><stop offset=".103" stop-color="#77cb3a"/><stop offset=".226" stop-color="#23ce57"/><stop offset=".376" stop-color="#00ce71"/><stop offset=".562" stop-color="#00cc88"/><stop offset=".801" stop-color="#00c89b"/><stop offset="1" stop-color="#00c5a6"/></linearGradient>
<linearGradient id="a65" gradientUnits="userSpaceOnUse" x1="0" x2="799.4"><stop offset="0" stop-color="#9cc822"/><stop offset=".108" stop-color="#67cc42"/><stop offset=".238" stop-color="#00ce5e"/><stop offset=".396" stop-color="#00cd77"/><stop offset=".594" stop-color="#00cb8d"/><stop offset=".856" stop-color="#00c7a0"/><stop offset="1" stop-color="#00c5a7"/></linearGradient>
<linearGradient id="a66" gradientUnits="userSpaceOnUse" x1="0" x2="799.4"><stop offset="0" stop-color="#90c92b"/><stop offset=".113" stop-color="#56cd49"/><stop offset=".249" stop-color="#00ce64"/><stop offset=".417" stop-color="#00cd7d"/><stop offset=".631" stop-color="#00ca92"/><stop offset=".917" stop-color="#00c6a4"/><stop offset="1" stop-color="#00c5a8"/></linearGradient>
<linearGradient id="a67" gradientUnits="userSpaceOnUse" x1="0" x2="799.4"><stop offset="0" stop-color="#84ca33"/><stop offset=".117" stop-color="#42cd50"/><stop offset=".26" stop-color="#00ce6b"/><stop offset=".439" stop-color="#00cc82"/><stop offset=".669" stop-color="#00c997"/><stop offset=".988" stop-color="#00c5a8"/><stop offset="1" stop-color="#00c5a8"/></linearGradient>
<linearGradient id="a68" gradientUnits="userSpaceOnUse" x1="0" x2="799.4"><stop offset="0" stop-color="#76cb3b"/><stop offset=".122" stop-color="#20ce57"/><stop offset=".274" stop-color="#00ce71"/><stop offset=".465" stop-color="#00cc88"/><stop offset=".717" stop-color="#00c89b"/><stop offset="1" stop-color="#00c4a9"/></linearGradient>
<linearGradient id="a69" gradientUnits="userSpaceOnUse" x1="0" x2="799.4"><stop offset="0" stop-color="#66cc43"/><stop offset=".129" stop-color="#00ce5e"/><stop offset=".29" stop-color="#00cd78"/><stop offset=".496" stop-color="#00cb8d"/><stop offset=".771" stop-color="#00c7a0"/><stop offset="1" stop-color="#00c4aa"/></linearGradient>
<linearGradient id="a70" gradientUnits="userSpaceOnUse" x1="0" x2="799.4"><stop offset="0" stop-color="#54cd4a"/><stop offset=".136" stop-color="#00ce65"/><stop offset=".307" stop-color="#00cd7e"/><stop offset=".529" stop-color="#00ca92"/><stop offset=".835" stop-color="#00c6a4"/><stop offset="1" stop-color="#00c4ab"/></linearGradient>
<linearGradient id="a71" gradientUnits="userSpaceOnUse" x1="0" x2="799.4"><stop offset="0" stop-color="#3dcd51"/><stop offset=".143" stop-color="#00ce6c"/><stop offset=".326" stop-color="#00cc83"/><stop offset=".569" stop-color="#00c997"/><stop offset=".913" stop-color="#00c5a8"/><stop offset="1" stop-color="#00c4ab"/></linearGradient>
<linearGradient id="a72" gradientUnits="userSpaceOnUse" x1="0" x2="799.4"><stop offset="0" stop-color="#15ce58"/><stop offset=".153" stop-color="#00ce73"/><stop offset=".35" stop-color="#00cc89"/><stop offset=".617" stop-color="#00c89c"/><stop offset="1" stop-color="#00c4ac"/></linearGradient>
<linearGradient id="a73" gradientUnits="userSpaceOnUse" x1="0" x2="799.4"><stop offset="0" stop-color="#00ce5f"/><stop offset=".163" stop-color="#00cd79"/><stop offset=".376" stop-color="#00cb8e"/><stop offset=".672" stop-color="#00c7a1"/><stop offset="1" stop-color="#00c3ad"/></linearGradient>
<linearGradient id="a74" gradientUnits="userSpaceOnUse" x1="0" x2="799.4"><stop offset="0" stop-color="#00ce67"/><stop offset=".174" stop-color="#00cd7f"/><stop offset=".407" stop-color="#00ca94"/><stop offset=".739" stop-color="#00c6a5"/><stop offset="1" stop-color="#00c3ae"/></linearGradient>
<linearGradient id="a75" gradientUnits="userSpaceOnUse" x1="0" x2="799.4"><stop offset="0" stop-color="#00ce6d"/><stop offset=".186" stop-color="#00cc85"/><stop offset=".442" stop-color="#00c999"/><stop offset=".821" stop-color="#00c4a9"/><stop offset="1" stop-color="#00c3af"/></linearGradient>
<linearGradient id="a76" gradientUnits="userSpaceOnUse" x1="0" x2="799.4"><stop offset="0" stop-color="#00ce74"/><stop offset=".201" stop-color="#00cb8a"/><stop offset=".486" stop-color="#00c89d"/><stop offset=".928" stop-color="#00c3ae"/><stop offset="1" stop-color="#00c3af"/></linearGradient>
<linearGradient id="a77" gradientUnits="userSpaceOnUse" x1="0" x2="799.4"><stop offset="0" stop-color="#00cd7a"/><stop offset=".219" stop-color="#00ca90"/><stop offset=".539" stop-color="#00c6a2"/><stop offset="1" stop-color="#00c2b0"/></linearGradient>
<linearGradient id="a78" gradientUnits="userSpaceOnUse" x1="0" x2="799.4"><stop offset="0" stop-color="#00cd81"/><stop offset=".24" stop-color="#00c995"/><stop offset=".606" stop-color="#00c5a6"/><stop offset="1" stop-color="#00c2b1"/></linearGradient>
<linearGradient id="a79" gradientUnits="userSpaceOnUse" x1="0" x2="799.4"><stop offset="0" stop-color="#00cc86"/><stop offset=".267" stop-color="#00c89a"/><stop offset=".692" stop-color="#00c4ab"/><stop offset="1" stop-color="#00c2b2"/></linearGradient>
<linearGradient id="a80" gradientUnits="userSpaceOnUse" x1="0" x2="799.4"><stop offset="0" stop-color="#00cb8c"/><stop offset=".3" stop-color="#00c79f"/><stop offset=".81" stop-color="#00c3af"/><stop offset="1" stop-color="#00c2b2"/></linearGradient>
<linearGradient id="a81" gradientUnits="userSpaceOnUse" x1="0" x2="799.4"><stop offset="0" stop-color="#00ca92"/><stop offset=".343" stop-color="#00c6a4"/><stop offset=".982" stop-color="#00c2b3"/><stop offset="1" stop-color="#00c2b3"/></linearGradient>
<linearGradient id="a82" gradientUnits="userSpaceOnUse" x1="0" x2="799.4"><stop offset="0" stop-color="#00c997"/><stop offset=".4" stop-color="#00c5a8"/><stop offset="1" stop-color="#00c1b4"/></linearGradient>
<linearGradient id="a83" gradientUnits="userSpaceOnUse" x1="0" x2="799.4"><stop offset="0" stop-color="#00c89c"/><stop offset=".479" stop-color="#00c4ac"/><stop offset="1" stop-color="#00c1b5"/></linearGradient>
<linearGradient id="a84" gradientUnits="userSpaceOnUse" x1="0" x2="799.4"><stop offset="0" stop-color="#00c7a1"/><stop offset=".6" stop-color="#00c2b0"/><stop offset="1" stop-color="#00c1b6"/></linearGradient>
<linearGradient id="a85" gradientUnits="userSpaceOnUse" x1="0" x2="799.4"><stop offset="0" stop-color="#00c5a5"/><stop offset=".804" stop-color="#00c1b5"/><stop offset="1" stop-color="#00c1b6"/></linearGradient>
<linearGradient id="a86" gradientUnits="userSpaceOnUse" x1="0" x2="799.4"><stop offset="0" stop-color="#00c4aa"/><stop offset="1" stop-color="#00c0b7"/></linearGradient>
<linearGradient id="a87" gradientUnits="userSpaceOnUse" x1="0" x2="799.4"><stop offset="0" stop-color="#00c3ae"/><stop offset="1" stop-color="#00c0b8"/></linearGradient>
<linearGradient id="a88" gradientUnits="userSpaceOnUse" x1="0" x2="799.4"><stop offset="0" stop-color="#00c2b2"/><stop offset="1" stop-color="#00c0b9"/></linearGradient>
<linearGradient id="a89" gradientUnits="userSpaceOnUse" x1="0" x2="799.4"><stop offset="0" stop-color="#00c1b6"/><stop offset="1" stop-color="#00c0ba"/></linearGradient>
<linearGradient id="a90" gradientUnits="userSpaceOnUse" x1="0" x2="799.4"><stop offset="0" stop-color="#00c0ba"/></linearGradient>
<linearGradient id="a91" gradientUnits="userSpaceOnUse" x1="0" x2="799.4"><stop offset="0" stop-color="#00bebe"/><stop offset="1" stop-color="#00bfbb"/></linearGradient>
<linearGradient id="a92" gradientUnits="userSpaceOnUse" x1="0" x2="799.4"><stop offset="0" stop-color="#00bdc2"/><stop offset="1" stop-color="#00bfbc"/></linearGradient>
<linearGradient id="a93" gradientUnits="userSpaceOnUse" x1="0" x2="799.4"><stop offset="0" stop-color="#00bbc6"/><stop offset="1" stop-color="#00bfbd"/></linearGradient>
<linearGradient id="a94" gradientUnits="userSpaceOnUse" x1="0" x2="799.4"><stop offset="0" stop-color="#00baca"/><stop offset="1" stop-color="#00bfbd"/></linearGradient>
<linearGradient id="a95" gradientUnits="userSpaceOnUse" x1="0" x2="799.4"><stop offset="0" stop-color="#00b8cd"/><stop offset=".804" stop-color="#00bec0"/><stop offset="1" stop-color="#00bebe"/></linearGradient>
<linearGradient id="a96" gradientUnits="userSpaceOnUse" x1="0" x2="799.4"><stop offset="0" stop-color="#00b7d1"/><stop offset=".6" stop-color="#00bcc4"/><stop offset="1" stop-color="#00bebf"/></linearGradient>
<linearGradient id="a97" gradientUnits="userSpaceOnUse" x1="0" x2="799.4"><stop offset="0" stop-color="#00b5d4"/><stop offset=".479" stop-color="#00bbc8"/><stop offset="1" stop-color="#00bec0"/></linearGradient>
<linearGradient id="a98" gradientUnits="userSpaceOnUse" x1="0" x2="799.4"><stop offset="0" stop-color="#00b3d8"/><stop offset=".4" stop-color="#00b9cb"/><stop offset="1" stop-color="#00bec0"/></linearGradient>
<linearGradient id="a99" gradientUnits="userSpaceOnUse" x1="0" x2="799.4"><stop offset="0" stop-color="#00b1db"/><stop offset=".343" stop-color="#00b8cf"/><stop offset=".982" stop-color="#00bdc1"/><stop offset="1" stop-color="#00bdc1"/></linearGradient>
<linearGradient id="a100" gradientUnits="userSpaceOnUse" x1="0" x2="799.4"><stop offset="0" stop-color="#00afde"/><stop offset=".3" stop-color="#00b6d2"/><stop offset=".81" stop-color="#00bcc5"/><stop offset="1" stop-color="#00bdc2"/></linearGradient>
<linearGradient id="a101" gradientUnits="userSpaceOnUse" x1="0" x2="799.4"><stop offset="0" stop-color="#00ade0"/><stop offset=".267" stop-color="#00b4d6"/><stop offset=".692" stop-color="#00bac9"/><stop offset="1" stop-color="#00bdc3"/></linearGradient>
<linearGradient id="a102" gradientUnits="userSpaceOnUse" x1="0" x2="799.4"><stop offset="0" stop-color="#00aae2"/><stop offset=".24" stop-color="#00b2d9"/><stop offset=".606" stop-color="#00b9cd"/><stop offset="1" stop-color="#00bdc3"/></linearGradient>
<linearGradient id="a103" gradientUnits="userSpaceOnUse" x1="0" x2="799.4"><stop offset="0" stop-color="#00a8e4"/><stop offset=".219" stop-color="#00b0dc"/><stop offset=".539" stop-color="#00b7d0"/><stop offset="1" stop-color="#00bcc4"/></linearGradient>
<linearGradient id="a104" gradientUnits="userSpaceOnUse" x1="0" x2="799.4"><stop offset="0" stop-color="#00a6e6"/><stop offset=".201" stop-color="#00aedf"/><stop offset=".486" stop-color="#00b5d3"/><stop offset=".928" stop-color="#00bbc6"/><stop offset="1" stop-color="#00bcc5"/></linearGradient>
<linearGradient id="a105" gradientUnits="userSpaceOnUse" x1="0" x2="799.4"><stop offset="0" stop-color="#00a3e7"/><stop offset=".186" stop-color="#00ace1"/><stop offset=".442" stop-color="#00b4d7"/><stop offset=".821" stop-color="#00baca"/><stop offset="1" stop-color="#00bcc6"/></linearGradient>
<linearGradient id="a106" gradientUnits="userSpaceOnUse" x1="0" x2="799.4"><stop offset="0" stop-color="#00a1e8"/><stop offset=".174" stop-color="#00aae3"/><stop offset=".407" stop-color="#00b2da"/><stop offset=".739" stop-color="#00b8ce"/><stop offset="1" stop-color="#00bbc6"/></linearGradient>
<linearGradient id="a107" gradientUnits="userSpaceOnUse" x1="0" x2="799.4"><stop offset="0" stop-color="#009eea"/><stop offset=".163" stop-color="#00a7e5"/><stop offset=".376" stop-color="#00b0dd"/><stop offset=".672" stop-color="#00b7d1"/><stop offset="1" stop-color="#00bbc7"/></linearGradient>
<linearGradient id="a108" gradientUnits="userSpaceOnUse" x1="0" x2="799.4"><stop offset="0" stop-color="#009cec"/><stop offset=".153" stop-color="#00a5e6"/><stop offset=".35" stop-color="#00aedf"/><stop offset=".617" stop-color="#00b5d4"/><stop offset="1" stop-color="#00bbc8"/></linearGradient>
<linearGradient id="a109" gradientUnits="userSpaceOnUse" x1="0" x2="799.4"><stop offset="0" stop-color="#0099ee"/><stop offset=".143" stop-color="#00a3e7"/><stop offset=".326" stop-color="#00ace1"/><stop offset=".569" stop-color="#00b3d7"/><stop offset=".913" stop-color="#00bacb"/><stop offset="1" stop-color="#00bbc8"/></linearGradient>
<linearGradient id="a110" gradientUnits="userSpaceOnUse" x1="0" x2="799.4"><stop offset="0" stop-color="#0097ef"/><stop offset=".136" stop-color="#00a0e9"/><stop offset=".307" stop-color="#00a9e3"/><stop offset=".529" stop-color="#00b1da"/><stop offset=".835" stop-color="#00b8ce"/><stop offset="1" stop-color="#00bac9"/></linearGradient>
<linearGradient id="a111" gradientUnits="userSpaceOnUse" x1="0" x2="799.4"><stop offset="0" stop-color="#0094f1"/><stop offset=".129" stop-color="#009eea"/><stop offset=".29" stop-color="#00a7e5"/><stop offset=".496" stop-color="#00afdd"/><stop offset=".771" stop-color="#00b6d2"/><stop offset="1" stop-color="#00baca"/></linearGradient>
<linearGradient id="a112" gradientUnits="userSpaceOnUse" x1="0" x2="799.4"><stop offset="0" stop-color="#0091f3"/><stop offset=".122" stop-color="#009bec"/><stop offset=".274" stop-color="#00a5e6"/><stop offset=".465" stop-color="#00ade0"/><stop offset=".717" stop-color="#00b5d5"/><stop offset="1" stop-color="#00baca"/></linearGradient>
<linearGradient id="a113" gradientUnits="userSpaceOnUse" x1="0" x2="799.4"><stop offset="0" stop-color="#008ff6"/><stop offset=".117" stop-color="#0099ee"/><stop offset=".26" stop-color="#00a2e8"/><stop offset=".439" stop-color="#00abe2"/><stop offset=".669" stop-color="#00b3d8"/><stop offset=".988" stop-color="#00b9cb"/><stop offset="1" stop-color="#00bacb"/></linearGradient>
<linearGradient id="a114" gradientUnits="userSpaceOnUse" x1="0" x2="799.4"><stop offset="0" stop-color="#008cf8"/><stop offset=".113" stop-color="#0096f0"/><stop offset=".249" stop-color="#00a0e9"/><stop offset=".417" stop-color="#00a9e3"/><stop offset=".631" stop-color="#00b1db"/><stop offset=".917" stop-color="#00b8cf"/><stop offset="1" stop-color="#00b9cc"/></linearGradient>
<linearGradient id="a115" gradientUnits="userSpaceOnUse" x1="0" x2="799.4"><stop offset="0" stop-color="#0089fa"/><stop offset=".108" stop-color="#0094f1"/><stop offset=".238" stop-color="#009eea"/><stop offset=".396" stop-color="#00a7e5"/><stop offset=".594" stop-color="#00afdd"/><stop offset=".856" stop-color="#00b6d2"/><stop offset="1" stop-color="#00b9cc"/></linearGradient>
<linearGradient id="a116" gradientUnits="userSpaceOnUse" x1="0" x2="799.4"><stop offset="0" stop-color="#0086fb"/><stop offset=".103" stop-color="#0091f4"/><stop offset=".226" stop-color="#009bec"/><stop offset=".376" stop-color="#00a4e6"/><stop offset=".562" stop-color="#00ade0"/><stop offset=".801" stop-color="#00b5d5"/><stop offset="1" stop-color="#00b9cd"/></linearGradient>
<linearGradient id="a117" gradientUnits="userSpaceOnUse" x1="0" x2="799.4"><stop offset="0" stop-color="#0084fd"/><stop offset=".1" stop-color="#008ef6"/><stop offset=".218" stop-color="#0099ee"/><stop offset=".36" stop-color="#00a2e8"/><stop offset=".533" stop-color="#00abe2"/><stop offset=".754" stop-color="#00b3d8"/><stop offset="1" stop-color="#00b8ce"/></linearGradient>
<linearGradient id="a118" gradientUnits="userSpaceOnUse" x1="0" x2="799.4"><stop offset="0" stop-color="#0081fe"/><stop offset=".096" stop-color="#008cf8"/><stop offset=".21" stop-color="#0096f0"/><stop offset=".344" stop-color="#00a0e9"/><stop offset=".508" stop-color="#00a9e4"/><stop offset=".714" stop-color="#00b1db"/><stop offset=".986" stop-color="#00b8cf"/><stop offset="1" stop-color="#00b8ce"/></linearGradient>
<linearGradient id="a119" gradientUnits="userSpaceOnUse" x1="0" x2="799.4"><stop offset="0" stop-color="#007eff"/><stop offset=".093" stop-color="#0089fa"/><stop offset=".201" stop-color="#0094f1"/><stop offset=".331" stop-color="#009eea"/><stop offset=".486" stop-color="#00a7e5"/><stop offset=".679" stop-color="#00afdd"/><stop offset=".929" stop-color="#00b6d2"/><stop offset="1" stop-color="#00b8cf"/></linearGradient>
<linearGradient id="a120" gradientUnits="userSpaceOnUse" x1="0" x2="799.4"><stop offset="0" stop-color="#007bff"/><stop offset=".09" stop-color="#0087fb"/><stop offset=".194" stop-color="#0091f3"/><stop offset=".318" stop-color="#009bec"/><stop offset=".465" stop-color="#00a5e6"/><stop offset=".646" stop-color="#00ade0"/><stop offset=".876" stop-color="#00b5d5"/><stop offset="1" stop-color="#00b8cf"/></linearGradient>
<linearGradient id="a121" gradientUnits="userSpaceOnUse" x1="0" x2="799.4"><stop offset="0" stop-color="#0078ff"/><stop offset=".088" stop-color="#0084fd"/><stop offset=".189" stop-color="#008ff5"/><stop offset=".307" stop-color="#0099ee"/><stop offset=".447" stop-color="#00a2e7"/><stop offset=".618" stop-color="#00abe2"/><stop offset=".832" stop-color="#00b3d8"/><stop offset="1" stop-color="#00b7d0"/></linearGradient>
<linearGradient id="a122" gradientUnits="userSpaceOnUse" x1="0" x2="799.4"><stop offset="0" stop-color="#0075ff"/><stop offset=".085" stop-color="#0081fe"/><stop offset=".182" stop-color="#008cf7"/><stop offset=".296" stop-color="#0097ef"/><stop offset=".431" stop-color="#00a0e9"/><stop offset=".593" stop-color="#00a9e3"/><stop offset=".794" stop-color="#00b2da"/><stop offset="1" stop-color="#00b7d1"/></linearGradient>
<linearGradient id="a123" gradientUnits="userSpaceOnUse" x1="0" x2="799.4"><stop offset="0" stop-color="#0072ff"/><stop offset=".082" stop-color="#007eff"/><stop offset=".176" stop-color="#008af9"/><stop offset=".286" stop-color="#0094f1"/><stop offset=".415" stop-color="#009eea"/><stop offset=".569" stop-color="#00a7e5"/><stop offset=".758" stop-color="#00b0dd"/><stop offset="1" stop-color="#00b7d1"/></linearGradient>
<linearGradient id="a124" gradientUnits="userSpaceOnUse" x1="0" x2="799.4"><stop offset="0" stop-color="#026fff"/><stop offset=".079" stop-color="#007cff"/><stop offset=".171" stop-color="#0087fb"/><stop offset=".276" stop-color="#0092f3"/><stop offset=".4" stop-color="#009ceb"/><stop offset=".546" stop-color="#00a5e6"/><stop offset=".724" stop-color="#00aedf"/><stop offset=".949" stop-color="#00b5d4"/><stop offset="1" stop-color="#00b6d2"/></linearGradient>
<linearGradient id="a125" gradientUnits="userSpaceOnUse" x1="0" x2="799.4"><stop offset="0" stop-color="#176cff"/><stop offset=".078" stop-color="#0079ff"/><stop offset=".167" stop-color="#0085fc"/><stop offset=".269" stop-color="#0090f5"/><stop offset=".389" stop-color="#009aed"/><stop offset=".529" stop-color="#00a3e7"/><stop offset=".699" stop-color="#00ace1"/><stop offset=".91" stop-color="#00b4d7"/><stop offset="1" stop-color="#00b6d2"/></linearGradient>
<linearGradient id="a126" gradientUnits="userSpaceOnUse" x1="0" x2="799.4"><stop offset="0" stop-color="#2269ff"/><stop offset=".075" stop-color="#0076ff"/><stop offset=".161" stop-color="#0082fe"/><stop offset=".26" stop-color="#008df7"/><stop offset=".374" stop-color="#0097ef"/><stop offset=".507" stop-color="#00a1e8"/><stop offset=".667" stop-color="#00aae3"/><stop offset=".864" stop-color="#00b2d9"/><stop offset="1" stop-color="#00b6d3"/></linearGradient>
<linearGradient id="a127" gradientUnits="userSpaceOnUse" x1="0" x2="799.4"><stop offset="0" stop-color="#2867ff"/><stop offset=".074" stop-color="#0073ff"/><stop offset=".157" stop-color="#007fff"/><stop offset=".253" stop-color="#008bf9"/><stop offset=".362" stop-color="#0095f0"/><stop offset=".492" stop-color="#009fe9"/><stop offset=".644" stop-color="#00a8e4"/><stop offset=".831" stop-color="#00b0dc"/><stop offset="1" stop-color="#00b6d3"/></linearGradient>
<linearGradient id="a128" gradientUnits="userSpaceOnUse" x1="0" x2="799.4"><stop offset="0" stop-color="#2e64ff"/><stop offset=".072" stop-color="#0070ff"/><stop offset=".154" stop-color="#007dff"/><stop offset=".247" stop-color="#0088fa"/><stop offset=".354" stop-color="#0093f2"/><stop offset=".478" stop-color="#009deb"/><stop offset=".624" stop-color="#00a6e5"/><stop offset=".8" stop-color="#00afde"/><stop offset="1" stop-color="#00b5d4"/></linearGradient>
<linearGradient id="a129" gradientUnits="userSpaceOnUse" x1="0" x2="799.4"><stop offset="0" stop-color="#3261ff"/><stop offset=".071" stop-color="#0d6eff"/><stop offset=".15" stop-color="#007aff"/><stop offset=".24" stop-color="#0086fc"/><stop offset=".343" stop-color="#0091f4"/><stop offset=".463" stop-color="#009bec"/><stop offset=".603" stop-color="#00a4e7"/><stop offset=".771" stop-color="#00ade0"/><stop offset=".981" stop-color="#00b4d5"/><stop offset="1" stop-color="#00b5d4"/></linearGradient>
<linearGradient id="a130" gradientUnits="userSpaceOnUse" x1="0" x2="799.4"><stop offset="0" stop-color="#355fff"/><stop offset=".069" stop-color="#1c6bff"/><stop offset=".147" stop-color="#0078ff"/><stop offset=".235" stop-color="#0084fd"/><stop offset=".335" stop-color="#008ff5"/><stop offset=".45" stop-color="#0099ee"/><stop offset=".585" stop-color="#00a2e8"/><stop offset=".744" stop-color="#00abe2"/><stop offset=".942" stop-color="#00b3d8"/><stop offset="1" stop-color="#00b5d5"/></linearGradient>
<linearGradient id="a131" gradientUnits="userSpaceOnUse" x1="0" x2="799.4"><stop offset="0" stop-color="#385cfe"/><stop offset=".068" stop-color="#2468ff"/><stop offset=".144" stop-color="#0075ff"/><stop offset=".231" stop-color="#0081fe"/><stop offset=".328" stop-color="#008df7"/><stop offset=".439" stop-color="#0097ef"/><stop offset=".568" stop-color="#00a0e9"/><stop offset=".721" stop-color="#00a9e3"/><stop offset=".908" stop-color="#00b2da"/><stop offset="1" stop-color="#00b4d5"/></linearGradient>
<linearGradient id="a132" gradientUnits="userSpaceOnUse" x1="0" x2="799.4"><stop offset="0" stop-color="#3b5afd"/><stop offset=".067" stop-color="#2a66ff"/><stop offset=".14" stop-color="#0072ff"/><stop offset=".224" stop-color="#007fff"/><stop offset=".318" stop-color="#008af9"/><stop offset=".426" stop-color="#0095f1"/><stop offset=".551" stop-color="#009eea"/><stop offset=".699" stop-color="#00a8e4"/><stop offset=".876" stop-color="#00b0dc"/><stop offset="1" stop-color="#00b4d6"/></linearGradient>
<linearGradient id="a133" gradientUnits="userSpaceOnUse" x1="0" x2="799.4"><stop offset="0" stop-color="#3d57fc"/><stop offset=".065" stop-color="#2f63ff"/><stop offset=".138" stop-color="#0070ff"/><stop offset=".219" stop-color="#007dff"/><stop offset=".311" stop-color="#0088fb"/><stop offset=".415" stop-color="#0093f2"/><stop offset=".536" stop-color="#009ceb"/><stop offset=".678" stop-color="#00a6e6"/><stop offset=".847" stop-color="#00aede"/><stop offset="1" stop-color="#00b4d6"/></linearGradient>
<linearGradient id="a134" gradientUnits="userSpaceOnUse" x1="0" x2="799.4"><stop offset="0" stop-color="#3e55fb"/><stop offset=".064" stop-color="#3261ff"/><stop offset=".135" stop-color="#106dff"/><stop offset=".214" stop-color="#007aff"/><stop offset=".303" stop-color="#0086fc"/><stop offset=".404" stop-color="#0090f4"/><stop offset=".521" stop-color="#009aed"/><stop offset=".657" stop-color="#00a4e7"/><stop offset=".818" stop-color="#00ade0"/><stop offset="1" stop-color="#00b4d7"/></linearGradient>
<linearGradient id="a135" gradientUnits="userSpaceOnUse" x1="0" x2="799.4"><stop offset="0" stop-color="#4053fa"/><stop offset=".062" stop-color="#365fff"/><stop offset=".132" stop-color="#1d6bff"/><stop offset=".21" stop-color="#0077ff"/><stop offset=".297" stop-color="#0084fd"/><stop offset=".396" stop-color="#008ef6"/><stop offset=".508" stop-color="#0099ee"/><stop offset=".639" stop-color="#00a2e8"/><stop offset=".793" stop-color="#00abe2"/><stop offset=".982" stop-color="#00b3d8"/><stop offset="1" stop-color="#00b3d7"/></linearGradient>
<linearGradient id="a136" gradientUnits="userSpaceOnUse" x1="0" x2="799.4"><stop offset="0" stop-color="#4150f8"/><stop offset=".061" stop-color="#385cfe"/><stop offset=".129" stop-color="#2468ff"/><stop offset=".206" stop-color="#0075ff"/><stop offset=".29" stop-color="#0081fe"/><stop offset=".386" stop-color="#008cf7"/><stop offset=".496" stop-color="#0097ef"/><stop offset=".622" stop-color="#00a0e9"/><stop offset=".771" stop-color="#00a9e3"/><stop offset=".951" stop-color="#00b1da"/><stop offset="1" stop-color="#00b3d8"/></linearGradient>
<linearGradient id="a137" gradientUnits="userSpaceOnUse" x1="0" x2="799.4"><stop offset="0" stop-color="#434ef7"/><stop offset=".06" stop-color="#3b5afd"/><stop offset=".126" stop-color="#2a66ff"/><stop offset=".2" stop-color="#0072ff"/><stop offset=".283" stop-color="#007fff"/><stop offset=".376" stop-color="#008af9"/><stop offset=".483" stop-color="#0095f1"/><stop offset=".606" stop-color="#009eea"/><stop offset=".749" stop-color="#00a8e5"/><stop offset=".921" stop-color="#00b0dc"/><stop offset="1" stop-color="#00b3d8"/></linearGradient>
<linearGradient id="a138" gradientUnits="userSpaceOnUse" x1="0" x2="799.4"><stop offset="0" stop-color="#444cf5"/><stop offset=".06" stop-color="#3c58fc"/><stop offset=".125" stop-color="#2e64ff"/><stop offset=".197" stop-color="#0070ff"/><stop offset=".279" stop-color="#007dff"/><stop offset=".371" stop-color="#0088fa"/><stop offset=".475" stop-color="#0093f2"/><stop offset=".594" stop-color="#009deb"/><stop offset=".733" stop-color="#00a6e6"/><stop offset=".899" stop-color="#00afde"/><stop offset="1" stop-color="#00b3d9"/></linearGradient>
<linearGradient id="a139" gradientUnits="userSpaceOnUse" x1="0" x2="799.4"><stop offset="0" stop-color="#454af3"/><stop offset=".058" stop-color="#3e56fb"/><stop offset=".122" stop-color="#3261ff"/><stop offset=".193" stop-color="#0e6eff"/><stop offset=".272" stop-color="#007aff"/><stop offset=".361" stop-color="#0086fc"/><stop offset=".463" stop-color="#0091f4"/><stop offset=".578" stop-color="#009bec"/><stop offset=".711" stop-color="#00a4e7"/><stop offset=".869" stop-color="#00ade0"/><stop offset="1" stop-color="#00b2d9"/></linearGradient>
<linearGradient id="a140" gradientUnits="userSpaceOnUse" x1="0" x2="799.4"><stop offset="0" stop-color="#4548f2"/><stop offset=".057" stop-color="#4053fa"/><stop offset=".121" stop-color="#355fff"/><stop offset=".19" stop-color="#1a6bff"/><stop offset=".268" stop-color="#0078ff"/><stop offset=".356" stop-color="#0084fd"/><stop offset=".454" stop-color="#008ff5"/><stop offset=".567" stop-color="#0099ed"/><stop offset=".696" stop-color="#00a3e7"/><stop offset=".849" stop-color="#00ace1"/><stop offset="1" stop-color="#00b2d9"/></linearGradient>
<linearGradient id="a141" gradientUnits="userSpaceOnUse" x1="0" x2="799.4"><stop offset="0" stop-color="#4645f0"/><stop offset=".057" stop-color="#4152f9"/><stop offset=".119" stop-color="#375dff"/><stop offset=".189" stop-color="#216aff"/><stop offset=".265" stop-color="#0076ff"/><stop offset=".351" stop-color="#0082fe"/><stop offset=".447" stop-color="#008df6"/><stop offset=".557" stop-color="#0098ef"/><stop offset=".683" stop-color="#00a1e8"/><stop offset=".831" stop-color="#00aae3"/><stop offset="1" stop-color="#00b2da"/></linearGradient>
<linearGradient id="a142" gradientUnits="userSpaceOnUse" x1="0" x2="799.4"><stop offset="0" stop-color="#4743ee"/><stop offset=".056" stop-color="#424ff7"/><stop offset=".117" stop-color="#395bfe"/><stop offset=".185" stop-color="#2767ff"/><stop offset=".26" stop-color="#0074ff"/><stop offset=".343" stop-color="#0080ff"/><stop offset=".438" stop-color="#008bf8"/><stop offset=".544" stop-color="#0096f0"/><stop offset=".667" stop-color="#00a0e9"/><stop offset=".81" stop-color="#00a9e4"/><stop offset=".982" stop-color="#00b1db"/><stop offset="1" stop-color="#00b2da"/></linearGradient>
<linearGradient id="a143" gradientUnits="userSpaceOnUse" x1="0" x2="799.4"><stop offset="0" stop-color="#4741ec"/><stop offset=".056" stop-color="#434ef6"/><stop offset=".115" stop-color="#3b59fd"/><stop offset=".182" stop-color="#2b65ff"/><stop offset=".256" stop-color="#0072ff"/><stop offset=".338" stop-color="#007eff"/><stop offset=".429" stop-color="#0089f9"/><stop offset=".533" stop-color="#0094f1"/><stop offset=".651" stop-color="#009eea"/><stop offset=".789" stop-color="#00a7e5"/><stop offset=".954" stop-color="#00b0dd"/><stop offset="1" stop-color="#00b1da"/></linearGradient>
<linearGradient id="a144" gradientUnits="userSpaceOnUse" x1="0" x2="799.4"><stop offset="0" stop-color="#483fea"/><stop offset=".054" stop-color="#444bf5"/><stop offset=".114" stop-color="#3d57fc"/><stop offset=".179" stop-color="#2f63ff"/><stop offset=".251" stop-color="#006fff"/><stop offset=".332" stop-color="#007cff"/><stop offset=".422" stop-color="#0088fb"/><stop offset=".524" stop-color="#0092f2"/><stop offset=".639" stop-color="#009ceb"/><stop offset=".772" stop-color="#00a6e6"/><stop offset=".931" stop-color="#00aedf"/><stop offset="1" stop-color="#00b1db"/></linearGradient>
<linearGradient id="a145" gradientUnits="userSpaceOnUse" x1="0" x2="799.4"><stop offset="0" stop-color="#483de8"/><stop offset=".054" stop-color="#454af3"/><stop offset=".113" stop-color="#3e56fb"/><stop offset=".176" stop-color="#3261ff"/><stop offset=".247" stop-color="#0f6dff"/><stop offset=".326" stop-color="#007aff"/><stop offset=".414" stop-color="#0086fc"/><stop offset=".513" stop-color="#0091f4"/><stop offset=".625" stop-color="#009bec"/><stop offset=".754" stop-color="#00a4e7"/><stop offset=".907" stop-color="#00ade0"/><stop offset="1" stop-color="#00b1db"/></linearGradient>
<linearGradient id="a146" gradientUnits="userSpaceOnUse" x1="0" x2="799.4"><stop offset="0" stop-color="#483be6"/><stop offset=".053" stop-color="#4548f2"/><stop offset=".111" stop-color="#3f54fa"/><stop offset=".175" stop-color="#3460ff"/><stop offset=".246" stop-color="#186cff"/><stop offset=".324" stop-color="#0078ff"/><stop offset=".41" stop-color="#0084fd"/><stop offset=".507" stop-color="#008ff5"/><stop offset=".617" stop-color="#0099ed"/><stop offset=".743" stop-color="#00a3e7"/><stop offset=".892" stop-color="#00ace1"/><stop offset="1" stop-color="#00b1db"/></linearGradient>
<linearGradient id="a147" gradientUnits="userSpaceOnUse" x1="0" x2="799.4"><stop offset="0" stop-color="#483ae4"/><stop offset=".053" stop-color="#4646f0"/><stop offset=".11" stop-color="#4152f9"/><stop offset=".172" stop-color="#375eff"/><stop offset=".242" stop-color="#206aff"/><stop offset=".318" stop-color="#0076ff"/><stop offset=".403" stop-color="#0083fe"/><stop offset=".499" stop-color="#008ef6"/><stop offset=".607" stop-color="#0098ee"/><stop offset=".731" stop-color="#00a1e8"/><stop offset=".875" stop-color="#00abe2"/><stop offset="1" stop-color="#00b0dc"/></linearGradient>
<linearGradient id="a148" gradientUnits="userSpaceOnUse" x1="0" x2="799.4"><stop offset="0" stop-color="#4838e1"/><stop offset=".051" stop-color="#4644ef"/><stop offset=".108" stop-color="#4250f8"/><stop offset=".171" stop-color="#385cfe"/><stop offset=".239" stop-color="#2568ff"/><stop offset=".314" stop-color="#0075ff"/><stop offset=".397" stop-color="#0081fe"/><stop offset=".49" stop-color="#008cf8"/><stop offset=".596" stop-color="#0096f0"/><stop offset=".717" stop-color="#00a0e9"/><stop offset=".857" stop-color="#00a9e3"/><stop offset="1" stop-color="#00b0dc"/></linearGradient>
<linearGradient id="a149" gradientUnits="userSpaceOnUse" x1="0" x2="799.4"><stop offset="0" stop-color="#4836df"/><stop offset=".051" stop-color="#4742ed"/><stop offset=".107" stop-color="#424ef7"/><stop offset=".168" stop-color="#3a5afe"/><stop offset=".235" stop-color="#2966ff"/><stop offset=".308" stop-color="#0072ff"/><stop offset=".39" stop-color="#007fff"/><stop offset=".482" stop-color="#008af9"/><stop offset=".585" stop-color="#0095f1"/><stop offset=".703" stop-color="#009fea"/><stop offset=".839" stop-color="#00a8e4"/><stop offset="1" stop-color="#00b0dc"/></linearGradient>
<linearGradient id="a150" gradientUnits="userSpaceOnUse" x1="0" x2="799.4"><stop offset="0" stop-color="#4835dc"/><stop offset=".05" stop-color="#4740eb"/><stop offset=".106" stop-color="#434df6"/><stop offset=".165" stop-color="#3c58fd"/><stop offset=".232" stop-color="#2d64ff"/><stop offset=".304" stop-color="#0071ff"/><stop offset=".385" stop-color="#007dff"/><stop offset=".475" stop-color="#0089fa"/><stop offset=".576" stop-color="#0093f2"/><stop offset=".692" stop-color="#009dea"/><stop offset=".825" stop-color="#00a7e5"/><stop offset=".983" stop-color="#00afde"/><stop offset="1" stop-color="#00b0dd"/></linearGradient>
<linearGradient id="a151" gradientUnits="userSpaceOnUse" x1="0" x2="799.4"><stop offset="0" stop-color="#4833da"/><stop offset=".05" stop-color="#483fea"/><stop offset=".104" stop-color="#444bf4"/><stop offset=".164" stop-color="#3d57fc"/><stop offset=".229" stop-color="#3063ff"/><stop offset=".301" stop-color="#016fff"/><stop offset=".381" stop-color="#007cff"/><stop offset=".469" stop-color="#0087fb"/><stop offset=".569" stop-color="#0092f3"/><stop offset=".682" stop-color="#009ceb"/><stop offset=".812" stop-color="#00a5e6"/><stop offset=".967" stop-color="#00aedf"/><stop offset="1" stop-color="#00b0dd"/></linearGradient>
<linearGradient id="a152" gradientUnits="userSpaceOnUse" x1="0" x2="799.4"><stop offset="0" stop-color="#4832d7"/><stop offset=".05" stop-color="#483de8"/><stop offset=".104" stop-color="#454af3"/><stop offset=".163" stop-color="#3e55fb"/><stop offset=".226" stop-color="#3261ff"/><stop offset=".297" stop-color="#0f6dff"/><stop offset=".375" stop-color="#007aff"/><stop offset=".463" stop-color="#0086fc"/><stop offset=".56" stop-color="#0091f4"/><stop offset=".669" stop-color="#009bec"/><stop offset=".796" stop-color="#00a4e7"/><stop offset=".944" stop-color="#00ade0"/><stop offset="1" stop-color="#00afdd"/></linearGradient>
<linearGradient id="a153" gradientUnits="userSpaceOnUse" x1="0" x2="799.4"><stop offset="0" stop-color="#4831d4"/><stop offset=".049" stop-color="#483ce6"/><stop offset=".101" stop-color="#4548f2"/><stop offset=".16" stop-color="#3f54fa"/><stop offset=".224" stop-color="#3460ff"/><stop offset=".293" stop-color="#196cff"/><stop offset=".371" stop-color="#0078ff"/><stop offset=".457" stop-color="#0084fd"/><stop offset=".553" stop-color="#008ff5"/><stop offset=".661" stop-color="#0099ed"/><stop offset=".785" stop-color="#00a3e7"/><stop offset=".931" stop-color="#00ace1"/><stop offset="1" stop-color="#00afdd"/></linearGradient>
<linearGradient id="a154" gradientUnits="userSpaceOnUse" x1="0" x2="799.4"><stop offset="0" stop-color="#4830d2"/><stop offset=".049" stop-color="#483ae4"/><stop offset=".101" stop-color="#4646f1"/><stop offset=".158" stop-color="#4052f9"/><stop offset=".221" stop-color="#365eff"/><stop offset=".29" stop-color="#1f6aff"/><stop offset=".367" stop-color="#0077ff"/><stop offset=".451" stop-color="#0083fd"/><stop offset=".546" stop-color="#008ef6"/><stop offset=".653" stop-color="#0098ee"/><stop offset=".775" stop-color="#00a2e8"/><stop offset=".917" stop-color="#00abe2"/><stop offset="1" stop-color="#00afde"/></linearGradient>
<linearGradient id="a155" gradientUnits="userSpaceOnUse" x1="0" x2="799.4"><stop offset="0" stop-color="#472fcf"/><stop offset=".049" stop-color="#4839e3"/><stop offset=".101" stop-color="#4645f0"/><stop offset=".158" stop-color="#4151f9"/><stop offset=".221" stop-color="#385dff"/><stop offset=".289" stop-color="#2369ff"/><stop offset=".364" stop-color="#0076ff"/><stop offset=".447" stop-color="#0082fe"/><stop offset=".54" stop-color="#008df7"/><stop offset=".644" stop-color="#0097ef"/><stop offset=".764" stop-color="#00a1e8"/><stop offset=".903" stop-color="#00aae3"/><stop offset="1" stop-color="#00afde"/></linearGradient>
<linearGradient id="a156" gradientUnits="userSpaceOnUse" x1="0" x2="799.4"><stop offset="0" stop-color="#472ecd"/><stop offset=".047" stop-color="#4837e0"/><stop offset=".099" stop-color="#4743ee"/><stop offset=".156" stop-color="#4250f7"/><stop offset=".217" stop-color="#395bfe"/><stop offset=".285" stop-color="#2767ff"/><stop offset=".358" stop-color="#0074ff"/><stop offset=".44" stop-color="#0080ff"/><stop offset=".532" stop-color="#008bf8"/><stop offset=".635" stop-color="#0096f0"/><stop offset=".751" stop-color="#009fe9"/><stop offset=".888" stop-color="#00a9e4"/><stop offset="1" stop-color="#00afde"/></linearGradient>
<linearGradient id="a157" gradientUnits="userSpaceOnUse" x1="0" x2="799.4"><stop offset="0" stop-color="#472dca"/><stop offset=".047" stop-color="#4836df"/><stop offset=".099" stop-color="#4742ed"/><stop offset=".154" stop-color="#434ef7"/><stop offset=".215" stop-color="#3a5afd"/><stop offset=".282" stop-color="#2a66ff"/><stop offset=".356" stop-color="#0072ff"/><stop offset=".436" stop-color="#007fff"/><stop offset=".526" stop-color="#008af9"/><stop offset=".628" stop-color="#0095f1"/><stop offset=".743" stop-color="#009eea"/><stop offset=".876" stop-color="#00a8e4"/><stop offset="1" stop-color="#00afde"/></linearGradient>
<linearGradient id="a158" gradientUnits="userSpaceOnUse" x1="0" x2="799.4"><stop offset="0" stop-color="#472cc8"/><stop offset=".047" stop-color="#4835dd"/><stop offset=".099" stop-color="#4741ec"/><stop offset=".154" stop-color="#434df6"/><stop offset=".215" stop-color="#3b59fd"/><stop offset=".282" stop-color="#2b65ff"/><stop offset=".354" stop-color="#0071ff"/><stop offset=".435" stop-color="#007eff"/><stop offset=".524" stop-color="#0089fa"/><stop offset=".624" stop-color="#0094f1"/><stop offset=".738" stop-color="#009eea"/><stop offset=".868" stop-color="#00a7e5"/><stop offset="1" stop-color="#00aede"/></linearGradient>
<linearGradient id="a159" gradientUnits="userSpaceOnUse" x1="0" x2="799.4"><stop offset="0" stop-color="#462bc5"/><stop offset=".047" stop-color="#4834db"/><stop offset=".099" stop-color="#4740eb"/><stop offset=".154" stop-color="#434cf5"/><stop offset=".214" stop-color="#3c58fc"/><stop offset=".279" stop-color="#2e64ff"/><stop offset=".351" stop-color="#0070ff"/><stop offset=".431" stop-color="#007dff"/><stop offset=".519" stop-color="#0088fa"/><stop offset=".618" stop-color="#0093f2"/><stop offset=".731" stop-color="#009deb"/><stop offset=".86" stop-color="#00a6e5"/><stop offset="1" stop-color="#00aedf"/></linearGradient>
<linearGradient id="a160" gradientUnits="userSpaceOnUse" x1="0" x2="799.4"><stop offset="0" stop-color="#462ac3"/><stop offset=".046" stop-color="#4833d9"/><stop offset=".096" stop-color="#483ee9"/><stop offset=".15" stop-color="#444af4"/><stop offset=".21" stop-color="#3e56fc"/><stop offset=".275" stop-color="#3062ff"/><stop offset=".346" stop-color="#066fff"/><stop offset=".424" stop-color="#007bff"/><stop offset=".511" stop-color="#0087fb"/><stop offset=".608" stop-color="#0092f3"/><stop offset=".718" stop-color="#009cec"/><stop offset=".844" stop-color="#00a5e6"/><stop offset=".993" stop-color="#00aedf"/><stop offset="1" stop-color="#00aedf"/></linearGradient>
<linearGradient id="a161" gradientUnits="userSpaceOnUse" x1="0" x2="799.4"><stop offset="0" stop-color="#4629c1"/><stop offset=".046" stop-color="#4832d7"/><stop offset=".096" stop-color="#483de8"/><stop offset=".15" stop-color="#454af3"/><stop offset=".208" stop-color="#3e55fb"/><stop offset=".272" stop-color="#3261ff"/><stop offset=".343" stop-color="#0f6dff"/><stop offset=".421" stop-color="#007aff"/><stop offset=".507" stop-color="#0086fc"/><stop offset=".603" stop-color="#0091f4"/><stop offset=".711" stop-color="#009bec"/><stop offset=".835" stop-color="#00a4e7"/><stop offset=".981" stop-color="#00ade0"/><stop offset="1" stop-color="#00aedf"/></linearGradient>
<linearGradient id="a162" gradientUnits="userSpaceOnUse" x1="0" x2="799.4"><stop offset="0" stop-color="#4628bf"/><stop offset=".046" stop-color="#4831d5"/><stop offset=".096" stop-color="#483ce7"/><stop offset=".15" stop-color="#4549f2"/><stop offset=".208" stop-color="#3f55fb"/><stop offset=".272" stop-color="#3360ff"/><stop offset=".342" stop-color="#156dff"/><stop offset=".418" stop-color="#0079ff"/><stop offset=".503" stop-color="#0085fc"/><stop offset=".597" stop-color="#0090f5"/><stop offset=".704" stop-color="#009aed"/><stop offset=".826" stop-color="#00a3e7"/><stop offset=".969" stop-color="#00ace1"/><stop offset="1" stop-color="#00aedf"/></linearGradient>
<linearGradient id="a163" gradientUnits="userSpaceOnUse" x1="0" x2="799.4"><stop offset="0" stop-color="#4527bd"/><stop offset=".046" stop-color="#4831d4"/><stop offset=".096" stop-color="#483ce6"/><stop offset=".15" stop-color="#4548f2"/><stop offset=".208" stop-color="#3f54fa"/><stop offset=".272" stop-color="#3460ff"/><stop offset=".342" stop-color="#186cff"/><stop offset=".418" stop-color="#0079ff"/><stop offset=".503" stop-color="#0084fc"/><stop offset=".597" stop-color="#008ff5"/><stop offset=".703" stop-color="#0099ed"/><stop offset=".824" stop-color="#00a3e7"/><stop offset=".965" stop-color="#00ace1"/><stop offset="1" stop-color="#00aedf"/></linearGradient>
<linearGradient id="a164" gradientUnits="userSpaceOnUse" x1="0" x2="799.4"><stop offset="0" stop-color="#4527bc"/><stop offset=".046" stop-color="#4830d2"/><stop offset=".094" stop-color="#483ae4"/><stop offset=".147" stop-color="#4646f1"/><stop offset=".206" stop-color="#4053f9"/><stop offset=".268" stop-color="#365eff"/><stop offset=".338" stop-color="#1d6bff"/><stop offset=".414" stop-color="#0077ff"/><stop offset=".497" stop-color="#0083fd"/><stop offset=".59" stop-color="#008ef6"/><stop offset=".694" stop-color="#0098ee"/><stop offset=".814" stop-color="#00a2e8"/><stop offset=".953" stop-color="#00abe2"/><stop offset="1" stop-color="#00aedf"/></linearGradient>
<linearGradient id="a165" gradientUnits="userSpaceOnUse" x1="0" x2="799.4"><stop offset="0" stop-color="#4526ba"/><stop offset=".046" stop-color="#482fd1"/><stop offset=".094" stop-color="#483ae4"/><stop offset=".147" stop-color="#4646f0"/><stop offset=".204" stop-color="#4152f9"/><stop offset=".267" stop-color="#375eff"/><stop offset=".335" stop-color="#216aff"/><stop offset=".41" stop-color="#0076ff"/><stop offset=".493" stop-color="#0082fe"/><stop offset=".585" stop-color="#008df6"/><stop offset=".689" stop-color="#0098ef"/><stop offset=".807" stop-color="#00a1e8"/><stop offset=".944" stop-color="#00aae3"/><stop offset="1" stop-color="#00addf"/></linearGradient>
<linearGradient id="a166" gradientUnits="userSpaceOnUse" x1="0" x2="799.4"><stop offset="0" stop-color="#4525b8"/><stop offset=".044" stop-color="#472fcf"/><stop offset=".093" stop-color="#4839e2"/><stop offset=".146" stop-color="#4645ef"/><stop offset=".203" stop-color="#4151f8"/><stop offset=".265" stop-color="#385dff"/><stop offset=".333" stop-color="#2369ff"/><stop offset=".408" stop-color="#0075ff"/><stop offset=".49" stop-color="#0082fe"/><stop offset=".582" stop-color="#008df7"/><stop offset=".685" stop-color="#0097ef"/><stop offset=".801" stop-color="#00a1e8"/><stop offset=".936" stop-color="#00aae3"/><stop offset="1" stop-color="#00ade0"/></linearGradient>
<linearGradient id="a167" gradientUnits="userSpaceOnUse" x1="0" x2="799.4"><stop offset="0" stop-color="#4425b7"/><stop offset=".044" stop-color="#472ecd"/><stop offset=".093" stop-color="#4838e1"/><stop offset=".146" stop-color="#4644ef"/><stop offset=".203" stop-color="#4150f8"/><stop offset=".265" stop-color="#385cfe"/><stop offset=".333" stop-color="#2468ff"/><stop offset=".407" stop-color="#0075ff"/><stop offset=".489" stop-color="#0081fe"/><stop offset=".579" stop-color="#008cf7"/><stop offset=".681" stop-color="#0096ef"/><stop offset=".796" stop-color="#00a0e9"/><stop offset=".929" stop-color="#00a9e3"/><stop offset="1" stop-color="#00ade0"/></linearGradient>
<linearGradient id="a168" gradientUnits="userSpaceOnUse" x1="0" x2="799.4"><stop offset="0" stop-color="#4424b5"/><stop offset=".044" stop-color="#472dcc"/><stop offset=".093" stop-color="#4837e0"/><stop offset=".146" stop-color="#4744ee"/><stop offset=".203" stop-color="#4250f8"/><stop offset=".264" stop-color="#395bfe"/><stop offset=".331" stop-color="#2767ff"/><stop offset=".404" stop-color="#0074ff"/><stop offset=".485" stop-color="#0080ff"/><stop offset=".575" stop-color="#008bf8"/><stop offset=".676" stop-color="#0096f0"/><stop offset=".79" stop-color="#009fe9"/><stop offset=".922" stop-color="#00a9e4"/><stop offset="1" stop-color="#00ade0"/></linearGradient>
<linearGradient id="a169" gradientUnits="userSpaceOnUse" x1="0" x2="799.4"><stop offset="0" stop-color="#4424b4"/><stop offset=".044" stop-color="#472dcb"/><stop offset=".093" stop-color="#4837df"/><stop offset=".144" stop-color="#4743ed"/><stop offset=".2" stop-color="#424ff7"/><stop offset=".261" stop-color="#3a5bfe"/><stop offset=".328" stop-color="#2966ff"/><stop offset=".401" stop-color="#0073ff"/><stop offset=".482" stop-color="#0080ff"/><stop offset=".571" stop-color="#008bf9"/><stop offset=".671" stop-color="#0095f0"/><stop offset=".785" stop-color="#009fe9"/><stop offset=".915" stop-color="#00a8e4"/><stop offset="1" stop-color="#00ade0"/></linearGradient>
<linearGradient id="a170" gradientUnits="userSpaceOnUse" x1="0" x2="799.4"><stop offset="0" stop-color="#4423b3"/><stop offset=".044" stop-color="#472dca"/><stop offset=".092" stop-color="#4836de"/><stop offset=".143" stop-color="#4742ed"/><stop offset=".199" stop-color="#434ef6"/><stop offset=".26" stop-color="#3b5afd"/><stop offset=".326" stop-color="#2a66ff"/><stop offset=".399" stop-color="#0072ff"/><stop offset=".479" stop-color="#007fff"/><stop offset=".568" stop-color="#008af9"/><stop offset=".668" stop-color="#0095f1"/><stop offset=".781" stop-color="#009eea"/><stop offset=".91" stop-color="#00a8e4"/><stop offset="1" stop-color="#00ade0"/></linearGradient>
<linearGradient id="a171" gradientUnits="userSpaceOnUse" x1="0" x2="799.4"><stop offset="0" stop-color="#4323b2"/><stop offset=".044" stop-color="#472cc9"/><stop offset=".092" stop-color="#4836de"/><stop offset=".143" stop-color="#4741ec"/><stop offset=".199" stop-color="#434ef6"/><stop offset=".26" stop-color="#3b59fd"/><stop offset=".326" stop-color="#2b66ff"/><stop offset=".399" stop-color="#0072ff"/><stop offset=".478" stop-color="#007eff"/><stop offset=".567" stop-color="#008af9"/><stop offset=".665" stop-color="#0094f1"/><stop offset=".776" stop-color="#009eea"/><stop offset=".906" stop-color="#00a7e5"/><stop offset="1" stop-color="#00ade0"/></linearGradient>
<linearGradient id="a172" gradientUnits="userSpaceOnUse" x1="0" x2="799.4"><stop offset="0" stop-color="#4323b1"/><stop offset=".044" stop-color="#472cc8"/><stop offset=".092" stop-color="#4835dd"/><stop offset=".143" stop-color="#4741ec"/><stop offset=".199" stop-color="#434df6"/><stop offset=".26" stop-color="#3b59fd"/><stop offset=".326" stop-color="#2b65ff"/><stop offset=".399" stop-color="#0072ff"/><stop offset=".478" stop-color="#007eff"/><stop offset=".565" stop-color="#0089fa"/><stop offset=".664" stop-color="#0094f1"/><stop offset=".775" stop-color="#009eea"/><stop offset=".903" stop-color="#00a7e5"/><stop offset="1" stop-color="#00ade0"/></linearGradient>
<linearGradient id="a173" gradientUnits="userSpaceOnUse" x1="0" x2="799.4"><stop offset="0" stop-color="#4322b0"/><stop offset=".044" stop-color="#472cc7"/><stop offset=".092" stop-color="#4835dc"/><stop offset=".143" stop-color="#4741eb"/><stop offset=".199" stop-color="#434df6"/><stop offset=".258" stop-color="#3c59fd"/><stop offset=".324" stop-color="#2d64ff"/><stop offset=".396" stop-color="#0071ff"/><stop offset=".475" stop-color="#007eff"/><stop offset=".562" stop-color="#0089fa"/><stop offset=".66" stop-color="#0093f2"/><stop offset=".771" stop-color="#009dea"/><stop offset=".897" stop-color="#00a7e5"/><stop offset="1" stop-color="#00ade0"/></linearGradient>
<linearGradient id="a174" gradientUnits="userSpaceOnUse" x1="0" x2="799.4"><stop offset="0" stop-color="#4322af"/><stop offset=".044" stop-color="#462bc7"/><stop offset=".092" stop-color="#4835dc"/><stop offset=".143" stop-color="#4740eb"/><stop offset=".199" stop-color="#434df5"/><stop offset=".258" stop-color="#3c58fd"/><stop offset=".324" stop-color="#2d64ff"/><stop offset=".396" stop-color="#0071ff"/><stop offset=".475" stop-color="#007dff"/><stop offset=".562" stop-color="#0089fa"/><stop offset=".66" stop-color="#0093f2"/><stop offset=".769" stop-color="#009deb"/><stop offset=".896" stop-color="#00a6e5"/><stop offset="1" stop-color="#00ade0"/></linearGradient>
<linearGradient id="a175" gradientUnits="userSpaceOnUse" x1="0" x2="799.4"><stop offset="0" stop-color="#4322ae"/><stop offset=".044" stop-color="#462bc6"/><stop offset=".092" stop-color="#4834db"/><stop offset=".143" stop-color="#4740eb"/><stop offset=".199" stop-color="#434cf5"/><stop offset=".258" stop-color="#3c58fd"/><stop offset=".324" stop-color="#2e64ff"/><stop offset=".396" stop-color="#0070ff"/><stop offset=".475" stop-color="#007dff"/><stop offset=".562" stop-color="#0089fa"/><stop offset=".66" stop-color="#0093f2"/><stop offset=".769" stop-color="#009deb"/><stop offset=".896" stop-color="#00a6e5"/><stop offset="1" stop-color="#00ade0"/></linearGradient>
<linearGradient id="a176" gradientUnits="userSpaceOnUse" x1="0" x2="799.4"><stop offset="0" stop-color="#4322ae"/><stop offset=".043" stop-color="#462bc5"/><stop offset=".09" stop-color="#4834db"/><stop offset=".142" stop-color="#4740ea"/><stop offset=".197" stop-color="#444cf5"/><stop offset=".257" stop-color="#3d58fc"/><stop offset=".322" stop-color="#2e64ff"/><stop offset=".393" stop-color="#0070ff"/><stop offset=".471" stop-color="#007cff"/><stop offset=".557" stop-color="#0088fb"/><stop offset=".654" stop-color="#0093f2"/><stop offset=".764" stop-color="#009deb"/><stop offset=".889" stop-color="#00a6e6"/><stop offset="1" stop-color="#00ade0"/></linearGradient>
<linearGradient id="a177" gradientUnits="userSpaceOnUse" x1="0" x2="799.4"><stop offset="0" stop-color="#4322ae"/><stop offset=".043" stop-color="#462ac5"/><stop offset=".09" stop-color="#4834da"/><stop offset=".142" stop-color="#483fea"/><stop offset=".197" stop-color="#444cf5"/><stop offset=".257" stop-color="#3d58fc"/><stop offset=".322" stop-color="#2f63ff"/><stop offset=".393" stop-color="#0070ff"/><stop offset=".471" stop-color="#007cff"/><stop offset=".557" stop-color="#0088fb"/><stop offset=".653" stop-color="#0092f2"/><stop offset=".761" stop-color="#009ceb"/><stop offset=".886" stop-color="#00a6e6"/><stop offset="1" stop-color="#00ade0"/></linearGradient>
<linearGradient id="a178" gradientUnits="userSpaceOnUse" x1="0" x2="799.4"><stop offset="0" stop-color="#4321ad"/><stop offset=".043" stop-color="#462ac4"/><stop offset=".09" stop-color="#4834da"/><stop offset=".142" stop-color="#483fea"/><stop offset=".197" stop-color="#444cf5"/><stop offset=".257" stop-color="#3d57fc"/><stop offset=".322" stop-color="#2f63ff"/><stop offset=".393" stop-color="#0070ff"/><stop offset=".471" stop-color="#007cff"/><stop offset=".557" stop-color="#0088fb"/><stop offset=".653" stop-color="#0092f3"/><stop offset=".761" stop-color="#009ceb"/><stop offset=".886" stop-color="#00a6e6"/><stop offset="1" stop-color="#00ade0"/></linearGradient>
<linearGradient id="a179" gradientUnits="userSpaceOnUse" x1="0" x2="799.4"><stop offset="0" stop-color="#4321ad"/><stop offset=".043" stop-color="#462ac4"/><stop offset=".09" stop-color="#4834da"/><stop offset=".142" stop-color="#483fea"/><stop offset=".197" stop-color="#444cf5"/><stop offset=".257" stop-color="#3d57fc"/><stop offset=".322" stop-color="#2f63ff"/><stop offset=".393" stop-color="#0070ff"/><stop offset=".471" stop-color="#007cff"/><stop offset=".557" stop-color="#0088fb"/><stop offset=".653" stop-color="#0092f3"/><stop offset=".761" stop-color="#009ceb"/><stop offset=".886" stop-color="#00a6e6"/><stop offset="1" stop-color="#00ade0"/></linearGradient>
<linearGradient id="a180" gradientUnits="userSpaceOnUse" x1="0" x2="799.4"><stop offset="0" stop-color="#4321ad"/><stop offset=".043" stop-color="#462ac4"/><stop offset=".09" stop-color="#4834da"/><stop offset=".142" stop-color="#483fea"/><stop offset=".197" stop-color="#444cf5"/><stop offset=".257" stop-color="#3d57fc"/><stop offset=".322" stop-color="#2f63ff"/><stop offset=".393" stop-color="#0070ff"/><stop offset=".471" stop-color="#007cff"/><stop offset=".557" stop-color="#0088fb"/><stop offset=".653" stop-color="#0092f3"/><stop offset=".761" stop-color="#009ceb"/><stop offset=".886" stop-color="#00a6e6"/><stop offset="1" stop-color="#00ade0"/></linearGradient>
<linearGradient id="i30" gradientUnits="userSpaceOnUse" x1="613" x2="919.6" spreadMethod="reflect"><stop offset="0" stop-color="#4321ad"/><stop offset=".114" stop-color="#462ac4"/><stop offset=".163" stop-color="#4834da"/><stop offset=".2" stop-color="#483fea"/><stop offset=".232" stop-color="#444bf5"/><stop offset=".261" stop-color="#3d57fc"/><stop offset=".288" stop-color="#2f63ff"/><stop offset=".312" stop-color="#0070ff"/><stop offset=".336" stop-color="#007cff"/><stop offset=".36" stop-color="#0088fa"/><stop offset=".382" stop-color="#0093f2"/><stop offset=".404" stop-color="#009eea"/><stop offset=".425" stop-color="#00a7e5"/><stop offset=".446" stop-color="#00afdd"/><stop offset=".467" stop-color="#00b7d1"/><stop offset=".488" stop-color="#00bdc3"/><stop offset=".508" stop-color="#00c1b4"/><stop offset=".529" stop-color="#00c6a4"/><stop offset=".55" stop-color="#00ca92"/><stop offset=".571" stop-color="#00cd7c"/><stop offset=".592" stop-color="#00ce63"/><stop offset=".614" stop-color="#5ecc46"/><stop offset=".636" stop-color="#96c927"/><stop offset=".66" stop-color="#c2c400"/><stop offset=".683" stop-color="#e3bf00"/><stop offset=".708" stop-color="#fdbc17"/><stop offset=".735" stop-color="#ffbe29"/><stop offset=".764" stop-color="#ffc916"/><stop offset=".796" stop-color="#ffd500"/><stop offset=".832" stop-color="#fde200"/><stop offset=".878" stop-color="#f9ee00"/><stop offset=".956" stop-color="#f8f900"/><stop offset="1" stop-color="#f9fb00"/></linearGradient>
<linearGradient id="i31" gradientUnits="userSpaceOnUse" x1="639.6" x2="946.2" spreadMethod="reflect"><stop offset="0" stop-color="#4628bf"/><stop offset=".117" stop-color="#4831d5"/><stop offset=".167" stop-color="#483ce7"/><stop offset=".206" stop-color="#4549f3"/><stop offset=".239" stop-color="#3f55fb"/><stop offset=".269" stop-color="#3261ff"/><stop offset=".297" stop-color="#0d6eff"/><stop offset=".324" stop-color="#007bff"/><stop offset=".349" stop-color="#0087fb"/><stop offset=".372" stop-color="#0092f3"/><stop offset=".396" stop-color="#009ceb"/><stop offset=".418" stop-color="#00a6e6"/><stop offset=".44" stop-color="#00aede"/><stop offset=".463" stop-color="#00b6d3"/><stop offset=".485" stop-color="#00bcc5"/><stop offset=".507" stop-color="#00c1b5"/><stop offset=".529" stop-color="#00c5a5"/><stop offset=".551" stop-color="#00ca93"/><stop offset=".574" stop-color="#00cd7d"/><stop offset=".596" stop-color="#00ce64"/><stop offset=".618" stop-color="#58cd49"/><stop offset=".642" stop-color="#92c929"/><stop offset=".667" stop-color="#bec400"/><stop offset=".692" stop-color="#e0c000"/><stop offset=".718" stop-color="#fbbc12"/><stop offset=".747" stop-color="#ffbd29"/><stop offset=".779" stop-color="#ffc818"/><stop offset=".815" stop-color="#ffd400"/><stop offset=".858" stop-color="#fee100"/><stop offset=".921" stop-color="#f9ed00"/><stop offset="1" stop-color="#f8f200"/></linearGradient>
<linearGradient id="i32" gradientUnits="userSpaceOnUse" x1="666.3" x2="972.9" spreadMethod="reflect"><stop offset="0" stop-color="#472fd0"/><stop offset=".119" stop-color="#4839e3"/><stop offset=".171" stop-color="#4645f0"/><stop offset=".211" stop-color="#4152f9"/><stop offset=".246" stop-color="#375eff"/><stop offset=".276" stop-color="#206aff"/><stop offset=".306" stop-color="#0077ff"/><stop offset=".332" stop-color="#0083fd"/><stop offset=".357" stop-color="#008ef6"/><stop offset=".382" stop-color="#0099ee"/><stop offset=".406" stop-color="#00a2e8"/><stop offset=".429" stop-color="#00ace1"/><stop offset=".453" stop-color="#00b4d7"/><stop offset=".475" stop-color="#00baca"/><stop offset=".497" stop-color="#00bfbc"/><stop offset=".519" stop-color="#00c3ad"/><stop offset=".542" stop-color="#00c89d"/><stop offset=".565" stop-color="#00cc89"/><stop offset=".589" stop-color="#00ce71"/><stop offset=".613" stop-color="#24ce57"/><stop offset=".638" stop-color="#7acb39"/><stop offset=".662" stop-color="#a9c718"/><stop offset=".689" stop-color="#cfc200"/><stop offset=".717" stop-color="#eebd00"/><stop offset=".747" stop-color="#ffbb24"/><stop offset=".781" stop-color="#ffc224"/><stop offset=".818" stop-color="#ffcd09"/><stop offset=".865" stop-color="#ffda00"/><stop offset=".939" stop-color="#fbe600"/><stop offset="1" stop-color="#f9ea00"/></linearGradient>
<linearGradient id="i33" gradientUnits="userSpaceOnUse" x1="692.9" x2="999.5" spreadMethod="reflect"><stop offset="0" stop-color="#4836de"/><stop offset=".122" stop-color="#4741ec"/><stop offset=".175" stop-color="#434ef6"/><stop offset=".215" stop-color="#3b59fd"/><stop offset=".25" stop-color="#2b65ff"/><stop offset=".282" stop-color="#0072ff"/><stop offset=".311" stop-color="#007fff"/><stop offset=".339" stop-color="#008af9"/><stop offset=".365" stop-color="#0095f1"/><stop offset=".39" stop-color="#009eea"/><stop offset=".415" stop-color="#00a8e4"/><stop offset=".44" stop-color="#00b1dc"/><stop offset=".464" stop-color="#00b7d0"/><stop offset=".488" stop-color="#00bdc2"/><stop offset=".511" stop-color="#00c2b3"/><stop offset=".535" stop-color="#00c6a4"/><stop offset=".558" stop-color="#00ca91"/><stop offset=".583" stop-color="#00cd7b"/><stop offset=".608" stop-color="#00ce62"/><stop offset=".633" stop-color="#5ecc46"/><stop offset=".66" stop-color="#96c927"/><stop offset=".688" stop-color="#c0c400"/><stop offset=".717" stop-color="#e1bf00"/><stop offset=".749" stop-color="#fcbc15"/><stop offset=".783" stop-color="#ffbe29"/><stop offset=".824" stop-color="#ffc818"/><stop offset=".875" stop-color="#ffd400"/><stop offset=".974" stop-color="#fee100"/><stop offset="1" stop-color="#fee100"/></linearGradient>
<linearGradient id="i34" gradientUnits="userSpaceOnUse" x1="719.6" x2="1026.2" spreadMethod="reflect"><stop offset="0" stop-color="#483de8"/><stop offset=".126" stop-color="#454af3"/><stop offset=".179" stop-color="#3e55fb"/><stop offset=".221" stop-color="#3261ff"/><stop offset=".257" stop-color="#0f6dff"/><stop offset=".29" stop-color="#007bff"/><stop offset=".321" stop-color="#0087fb"/><stop offset=".35" stop-color="#0092f3"/><stop offset=".378" stop-color="#009ceb"/><stop offset=".404" stop-color="#00a5e6"/><stop offset=".431" stop-color="#00afde"/><stop offset=".456" stop-color="#00b6d3"/><stop offset=".481" stop-color="#00bcc6"/><stop offset=".506" stop-color="#00c1b7"/><stop offset=".531" stop-color="#00c5a7"/><stop offset=".556" stop-color="#00c996"/><stop offset=".581" stop-color="#00cd82"/><stop offset=".607" stop-color="#00ce69"/><stop offset=".633" stop-color="#49cd4e"/><stop offset=".661" stop-color="#89ca2f"/><stop offset=".69" stop-color="#b6c60a"/><stop offset=".721" stop-color="#d9c100"/><stop offset=".754" stop-color="#f5bc05"/><stop offset=".792" stop-color="#ffbc2a"/><stop offset=".836" stop-color="#ffc41f"/><stop offset=".896" stop-color="#ffd000"/><stop offset="1" stop-color="#ffd900"/></linearGradient>
<linearGradient id="i35" gradientUnits="userSpaceOnUse" x1="746.2" x2="1052.8" spreadMethod="reflect"><stop offset="0" stop-color="#4645ef"/><stop offset=".129" stop-color="#4151f8"/><stop offset=".185" stop-color="#385dff"/><stop offset=".228" stop-color="#2269ff"/><stop offset=".265" stop-color="#0076ff"/><stop offset=".299" stop-color="#0082fe"/><stop offset=".331" stop-color="#008ef6"/><stop offset=".36" stop-color="#0098ee"/><stop offset=".388" stop-color="#00a2e8"/><stop offset=".415" stop-color="#00abe2"/><stop offset=".442" stop-color="#00b3d8"/><stop offset=".468" stop-color="#00b9cc"/><stop offset=".494" stop-color="#00bfbd"/><stop offset=".521" stop-color="#00c3ae"/><stop offset=".547" stop-color="#00c79e"/><stop offset=".574" stop-color="#00cb8b"/><stop offset=".601" stop-color="#00ce73"/><stop offset=".629" stop-color="#10ce59"/><stop offset=".658" stop-color="#74cb3c"/><stop offset=".689" stop-color="#a5c71b"/><stop offset=".721" stop-color="#ccc300"/><stop offset=".757" stop-color="#ebbe00"/><stop offset=".797" stop-color="#ffbb21"/><stop offset=".846" stop-color="#ffc026"/><stop offset=".917" stop-color="#ffcc0d"/><stop offset="1" stop-color="#ffd100"/></linearGradient>
<linearGradient id="i36" gradientUnits="userSpaceOnUse" x1="772.9" x2="1079.5" spreadMethod="reflect"><stop offset="0" stop-color="#444cf5"/><stop offset=".132" stop-color="#3c58fc"/><stop offset=".189" stop-color="#2e64ff"/><stop offset=".233" stop-color="#0070ff"/><stop offset=".272" stop-color="#007dff"/><stop offset=".307" stop-color="#0089fa"/><stop offset=".339" stop-color="#0094f2"/><stop offset=".369" stop-color="#009eea"/><stop offset=".399" stop-color="#00a7e5"/><stop offset=".428" stop-color="#00b0dd"/><stop offset=".456" stop-color="#00b7d1"/><stop offset=".483" stop-color="#00bdc3"/><stop offset=".511" stop-color="#00c1b4"/><stop offset=".539" stop-color="#00c6a4"/><stop offset=".567" stop-color="#00ca92"/><stop offset=".594" stop-color="#00cd7d"/><stop offset=".624" stop-color="#00ce64"/><stop offset=".654" stop-color="#59cd48"/><stop offset=".686" stop-color="#93c929"/><stop offset=".721" stop-color="#bec500"/><stop offset=".758" stop-color="#e0c000"/><stop offset=".801" stop-color="#fbbc13"/><stop offset=".854" stop-color="#ffbd29"/><stop offset=".939" stop-color="#ffc719"/><stop offset="1" stop-color="#ffca13"/></linearGradient>
<linearGradient id="i37" gradientUnits="userSpaceOnUse" x1="799.5" x2="1106.1" spreadMethod="reflect"><stop offset="0" stop-color="#4053fa"/><stop offset=".136" stop-color="#355fff"/><stop offset=".194" stop-color="#1b6bff"/><stop offset=".24" stop-color="#0078ff"/><stop offset=".279" stop-color="#0084fd"/><stop offset=".315" stop-color="#008ff5"/><stop offset=".349" stop-color="#0099ed"/><stop offset=".381" stop-color="#00a3e7"/><stop offset=".411" stop-color="#00ace1"/><stop offset=".44" stop-color="#00b4d6"/><stop offset=".469" stop-color="#00bac9"/><stop offset=".499" stop-color="#00bfbb"/><stop offset=".528" stop-color="#00c4ac"/><stop offset=".557" stop-color="#00c89b"/><stop offset=".586" stop-color="#00cc87"/><stop offset=".617" stop-color="#00ce70"/><stop offset=".649" stop-color="#2fcd55"/><stop offset=".682" stop-color="#7dcb37"/><stop offset=".718" stop-color="#adc715"/><stop offset=".757" stop-color="#d2c200"/><stop offset=".801" stop-color="#f0bd00"/><stop offset=".857" stop-color="#ffbb25"/><stop offset=".954" stop-color="#ffc224"/><stop offset="1" stop-color="#ffc321"/></linearGradient>
<linearGradient id="i38" gradientUnits="userSpaceOnUse" x1="826.2" x2="1132.8" spreadMethod="reflect"><stop offset="0" stop-color="#3b59fd"/><stop offset=".139" stop-color="#2b65ff"/><stop offset=".199" stop-color="#0072ff"/><stop offset=".246" stop-color="#007eff"/><stop offset=".286" stop-color="#008af9"/><stop offset=".324" stop-color="#0095f1"/><stop offset=".358" stop-color="#009fea"/><stop offset=".392" stop-color="#00a8e4"/><stop offset=".424" stop-color="#00b1db"/><stop offset=".454" stop-color="#00b7cf"/><stop offset=".485" stop-color="#00bdc2"/><stop offset=".515" stop-color="#00c2b3"/><stop offset=".546" stop-color="#00c6a3"/><stop offset=".576" stop-color="#00ca91"/><stop offset=".608" stop-color="#00cd7b"/><stop offset=".642" stop-color="#00ce61"/><stop offset=".676" stop-color="#62cc45"/><stop offset=".714" stop-color="#99c925"/><stop offset=".754" stop-color="#c2c400"/><stop offset=".801" stop-color="#e3bf00"/><stop offset=".861" stop-color="#febc17"/><stop offset=".989" stop-color="#ffbe29"/><stop offset="1" stop-color="#ffbe29"/></linearGradient>
<linearGradient id="i39" gradientUnits="userSpaceOnUse" x1="852.8" x2="1159.4" spreadMethod="reflect"><stop offset="0" stop-color="#355fff"/><stop offset=".143" stop-color="#196cff"/><stop offset=".204" stop-color="#0078ff"/><stop offset=".253" stop-color="#0085fc"/><stop offset=".294" stop-color="#008ff5"/><stop offset=".332" stop-color="#009aed"/><stop offset=".368" stop-color="#00a3e7"/><stop offset=".401" stop-color="#00ace1"/><stop offset=".435" stop-color="#00b4d6"/><stop offset=".467" stop-color="#00bac9"/><stop offset=".499" stop-color="#00bfbb"/><stop offset=".531" stop-color="#00c4ac"/><stop offset=".562" stop-color="#00c89b"/><stop offset=".596" stop-color="#00cc87"/><stop offset=".629" stop-color="#00ce70"/><stop offset=".665" stop-color="#2ecd55"/><stop offset=".703" stop-color="#7bcb38"/><stop offset=".744" stop-color="#abc716"/><stop offset=".792" stop-color="#d0c200"/><stop offset=".851" stop-color="#efbd00"/><stop offset=".957" stop-color="#ffbb24"/><stop offset="1" stop-color="#ffbb26"/></linearGradient>
<linearGradient id="i40" gradientUnits="userSpaceOnUse" x1="879.5" x2="1186.1" spreadMethod="reflect"><stop offset="0" stop-color="#2b65ff"/><stop offset=".146" stop-color="#0072ff"/><stop offset=".208" stop-color="#007eff"/><stop offset=".258" stop-color="#008af9"/><stop offset=".301" stop-color="#0094f1"/><stop offset=".34" stop-color="#009eea"/><stop offset=".378" stop-color="#00a8e4"/><stop offset=".413" stop-color="#00b0dc"/><stop offset=".447" stop-color="#00b7d0"/><stop offset=".481" stop-color="#00bdc3"/><stop offset=".514" stop-color="#00c1b4"/><stop offset=".547" stop-color="#00c6a5"/><stop offset=".582" stop-color="#00ca92"/><stop offset=".617" stop-color="#00cd7d"/><stop offset=".653" stop-color="#00ce64"/><stop offset=".692" stop-color="#58cd49"/><stop offset=".733" stop-color="#91c92a"/><stop offset=".782" stop-color="#bcc502"/><stop offset=".842" stop-color="#dec000"/><stop offset=".939" stop-color="#f9bc0f"/><stop offset="1" stop-color="#fdbc17"/></linearGradient>
<linearGradient id="i41" gradientUnits="userSpaceOnUse" x1="906.1" x2="1212.7" spreadMethod="reflect"><stop offset="0" stop-color="#1b6bff"/><stop offset=".15" stop-color="#0078ff"/><stop offset=".214" stop-color="#0084fd"/><stop offset=".265" stop-color="#008ff5"/><stop offset=".31" stop-color="#0099ee"/><stop offset=".35" stop-color="#00a3e7"/><stop offset=".389" stop-color="#00ace1"/><stop offset=".425" stop-color="#00b4d7"/><stop offset=".461" stop-color="#00baca"/><stop offset=".496" stop-color="#00bfbc"/><stop offset=".531" stop-color="#00c3ad"/><stop offset=".567" stop-color="#00c89c"/><stop offset=".603" stop-color="#00cc89"/><stop offset=".64" stop-color="#00ce72"/><stop offset=".681" stop-color="#1dce58"/><stop offset=".724" stop-color="#75cb3b"/><stop offset=".772" stop-color="#a6c71b"/><stop offset=".832" stop-color="#ccc300"/><stop offset=".925" stop-color="#ebbe00"/><stop offset="1" stop-color="#f2bd00"/></linearGradient>
<linearGradient id="i42" gradientUnits="userSpaceOnUse" x1="932.8" x2="1239.4" spreadMethod="reflect"><stop offset="0" stop-color="#0071ff"/><stop offset=".154" stop-color="#007dff"/><stop offset=".221" stop-color="#0089fa"/><stop offset=".274" stop-color="#0094f1"/><stop offset=".319" stop-color="#009eea"/><stop offset=".361" stop-color="#00a7e5"/><stop offset=".4" stop-color="#00afdd"/><stop offset=".438" stop-color="#00b6d2"/><stop offset=".475" stop-color="#00bcc4"/><stop offset=".513" stop-color="#00c1b5"/><stop offset=".55" stop-color="#00c5a6"/><stop offset=".588" stop-color="#00ca94"/><stop offset=".626" stop-color="#00cd7f"/><stop offset=".668" stop-color="#00ce66"/><stop offset=".713" stop-color="#53cd4b"/><stop offset=".763" stop-color="#8eca2c"/><stop offset=".822" stop-color="#b9c506"/><stop offset=".913" stop-color="#dcc000"/><stop offset="1" stop-color="#e5bf00"/></linearGradient>
<linearGradient id="i43" gradientUnits="userSpaceOnUse" x1="959.4" x2="1266" spreadMethod="reflect"><stop offset="0" stop-color="#0076ff"/><stop offset=".158" stop-color="#0083fe"/><stop offset=".226" stop-color="#008ef6"/><stop offset=".281" stop-color="#0098ee"/><stop offset=".328" stop-color="#00a2e8"/><stop offset=".371" stop-color="#00abe2"/><stop offset=".413" stop-color="#00b3d8"/><stop offset=".453" stop-color="#00b9cb"/><stop offset=".492" stop-color="#00bfbd"/><stop offset=".531" stop-color="#00c3af"/><stop offset=".569" stop-color="#00c79e"/><stop offset=".61" stop-color="#00cb8b"/><stop offset=".651" stop-color="#00cd75"/><stop offset=".697" stop-color="#00ce5b"/><stop offset=".747" stop-color="#6ecc3f"/><stop offset=".807" stop-color="#a1c81e"/><stop offset=".892" stop-color="#c8c300"/><stop offset="1" stop-color="#d8c100"/></linearGradient>
<linearGradient id="i44" gradientUnits="userSpaceOnUse" x1="986.1" x2="1292.7" spreadMethod="reflect"><stop offset="0" stop-color="#007cff"/><stop offset=".163" stop-color="#0087fb"/><stop offset=".232" stop-color="#0092f3"/><stop offset=".288" stop-color="#009ceb"/><stop offset=".336" stop-color="#00a5e6"/><stop offset=".381" stop-color="#00aedf"/><stop offset=".424" stop-color="#00b5d4"/><stop offset=".465" stop-color="#00bbc6"/><stop offset=".506" stop-color="#00c0b8"/><stop offset=".546" stop-color="#00c4a9"/><stop offset=".588" stop-color="#00c998"/><stop offset=".631" stop-color="#00cc84"/><stop offset=".676" stop-color="#00ce6c"/><stop offset=".726" stop-color="#3bcd52"/><stop offset=".785" stop-color="#81cb35"/><stop offset=".861" stop-color="#afc613"/><stop offset="1" stop-color="#cac300"/></linearGradient>
<linearGradient id="i45" gradientUnits="userSpaceOnUse" x1="1012.7" x2="1319.3" spreadMethod="reflect"><stop offset="0" stop-color="#0080fe"/><stop offset=".167" stop-color="#008cf8"/><stop offset=".239" stop-color="#0096f0"/><stop offset=".296" stop-color="#00a0e9"/><stop offset=".346" stop-color="#00a9e4"/><stop offset=".393" stop-color="#00b1db"/><stop offset=".438" stop-color="#00b8ce"/><stop offset=".481" stop-color="#00bdc1"/><stop offset=".524" stop-color="#00c2b2"/><stop offset=".567" stop-color="#00c6a2"/><stop offset=".611" stop-color="#00ca90"/><stop offset=".658" stop-color="#00cd7b"/><stop offset=".71" stop-color="#00ce61"/><stop offset=".768" stop-color="#5fcc46"/><stop offset=".842" stop-color="#96c927"/><stop offset="1" stop-color="#bcc502"/></linearGradient>
<linearGradient id="i46" gradientUnits="userSpaceOnUse" x1="1039.3" x2="1345.9" spreadMethod="reflect"><stop offset="0" stop-color="#0085fc"/><stop offset=".171" stop-color="#0090f5"/><stop offset=".244" stop-color="#009aed"/><stop offset=".304" stop-color="#00a3e7"/><stop offset=".357" stop-color="#00ace1"/><stop offset=".406" stop-color="#00b4d6"/><stop offset=".451" stop-color="#00bac9"/><stop offset=".497" stop-color="#00bfbb"/><stop offset=".543" stop-color="#00c4ac"/><stop offset=".589" stop-color="#00c89c"/><stop offset=".638" stop-color="#00cc88"/><stop offset=".689" stop-color="#00ce71"/><stop offset=".747" stop-color="#25ce56"/><stop offset=".818" stop-color="#77cb3a"/><stop offset=".939" stop-color="#a7c719"/><stop offset="1" stop-color="#adc714"/></linearGradient>
<linearGradient id="i47" gradientUnits="userSpaceOnUse" x1="1066" x2="1372.6" spreadMethod="reflect"><stop offset="0" stop-color="#0089fa"/><stop offset=".176" stop-color="#0094f2"/><stop offset=".253" stop-color="#009dea"/><stop offset=".314" stop-color="#00a7e5"/><stop offset=".368" stop-color="#00afdd"/><stop offset=".418" stop-color="#00b6d2"/><stop offset=".467" stop-color="#00bcc4"/><stop offset=".514" stop-color="#00c1b6"/><stop offset=".562" stop-color="#00c5a6"/><stop offset=".613" stop-color="#00ca95"/><stop offset=".665" stop-color="#00cd80"/><stop offset=".724" stop-color="#00ce67"/><stop offset=".793" stop-color="#4fcd4c"/><stop offset=".893" stop-color="#8bca2e"/><stop offset="1" stop-color="#9dc821"/></linearGradient>
<linearGradient id="i48" gradientUnits="userSpaceOnUse" x1="1092.6" x2="1399.2" spreadMethod="reflect"><stop offset="0" stop-color="#008df7"/><stop offset=".181" stop-color="#0097ef"/><stop offset=".26" stop-color="#00a1e8"/><stop offset=".324" stop-color="#00aae3"/><stop offset=".379" stop-color="#00b2da"/><stop offset=".432" stop-color="#00b9cd"/><stop offset=".483" stop-color="#00bebf"/><stop offset=".533" stop-color="#00c2b0"/><stop offset=".585" stop-color="#00c7a0"/><stop offset=".638" stop-color="#00cb8e"/><stop offset=".696" stop-color="#00cd78"/><stop offset=".763" stop-color="#00ce5e"/><stop offset=".85" stop-color="#66cc43"/><stop offset="1" stop-color="#8cca2d"/></linearGradient>
<linearGradient id="i49" gradientUnits="userSpaceOnUse" x1="1119.3" x2="1425.9" spreadMethod="reflect"><stop offset="0" stop-color="#0090f4"/><stop offset=".186" stop-color="#009aed"/><stop offset=".267" stop-color="#00a4e7"/><stop offset=".332" stop-color="#00ade0"/><stop offset=".39" stop-color="#00b4d6"/><stop offset=".446" stop-color="#00bac9"/><stop offset=".499" stop-color="#00bfbb"/><stop offset=".551" stop-color="#00c4ac"/><stop offset=".606" stop-color="#00c89b"/><stop offset=".664" stop-color="#00cc88"/><stop offset=".729" stop-color="#00ce71"/><stop offset=".808" stop-color="#24ce57"/><stop offset=".953" stop-color="#77cb3a"/><stop offset="1" stop-color="#7bcb38"/></linearGradient>
<linearGradient id="i50" gradientUnits="userSpaceOnUse" x1="1145.9" x2="1452.5" spreadMethod="reflect"><stop offset="0" stop-color="#0094f1"/><stop offset=".192" stop-color="#009eea"/><stop offset=".275" stop-color="#00a7e5"/><stop offset=".343" stop-color="#00afdd"/><stop offset=".404" stop-color="#00b7d1"/><stop offset=".461" stop-color="#00bcc4"/><stop offset=".517" stop-color="#00c1b6"/><stop offset=".574" stop-color="#00c5a6"/><stop offset=".633" stop-color="#00ca95"/><stop offset=".697" stop-color="#00cd80"/><stop offset=".772" stop-color="#00ce68"/><stop offset=".879" stop-color="#4acd4e"/><stop offset="1" stop-color="#68cc42"/></linearGradient>
<linearGradient id="i51" gradientUnits="userSpaceOnUse" x1="1172.6" x2="1479.2" spreadMethod="reflect"><stop offset="0" stop-color="#0097ef"/><stop offset=".197" stop-color="#00a1e9"/><stop offset=".283" stop-color="#00aae3"/><stop offset=".354" stop-color="#00b2da"/><stop offset=".418" stop-color="#00b8cd"/><stop offset=".478" stop-color="#00bec0"/><stop offset=".537" stop-color="#00c2b1"/><stop offset=".599" stop-color="#00c7a1"/><stop offset=".664" stop-color="#00cb8e"/><stop offset=".738" stop-color="#00cd78"/><stop offset=".832" stop-color="#00ce5f"/><stop offset="1" stop-color="#52cd4b"/></linearGradient>
<linearGradient id="i52" gradientUnits="userSpaceOnUse" x1="1199.2" x2="1505.8" spreadMethod="reflect"><stop offset="0" stop-color="#009aed"/><stop offset=".203" stop-color="#00a3e7"/><stop offset=".292" stop-color="#00ace1"/><stop offset=".365" stop-color="#00b4d6"/><stop offset=".432" stop-color="#00bac9"/><stop offset=".496" stop-color="#00bfbb"/><stop offset=".558" stop-color="#00c4ac"/><stop offset=".624" stop-color="#00c89c"/><stop offset=".694" stop-color="#00cc89"/><stop offset=".779" stop-color="#00ce72"/><stop offset=".915" stop-color="#17ce58"/><stop offset="1" stop-color="#35cd53"/></linearGradient>
<linearGradient id="i53" gradientUnits="userSpaceOnUse" x1="1225.9" x2="1532.5" spreadMethod="reflect"><stop offset="0" stop-color="#009deb"/><stop offset=".21" stop-color="#00a6e6"/><stop offset=".303" stop-color="#00afde"/><stop offset=".379" stop-color="#00b6d3"/><stop offset=".449" stop-color="#00bcc5"/><stop offset=".515" stop-color="#00c1b7"/><stop offset=".583" stop-color="#00c5a8"/><stop offset=".654" stop-color="#00c996"/><stop offset=".735" stop-color="#00cc82"/><stop offset=".843" stop-color="#00ce6a"/><stop offset="1" stop-color="#00ce5b"/></linearGradient>
<linearGradient id="i54" gradientUnits="userSpaceOnUse" x1="1252.5" x2="1559.1" spreadMethod="reflect"><stop offset="0" stop-color="#009fe9"/><stop offset=".215" stop-color="#00a8e4"/><stop offset=".311" stop-color="#00b1db"/><stop offset=".39" stop-color="#00b8cf"/><stop offset=".463" stop-color="#00bdc2"/><stop offset=".533" stop-color="#00c2b3"/><stop offset=".606" stop-color="#00c6a4"/><stop offset=".685" stop-color="#00ca92"/><stop offset=".779" stop-color="#00cd7d"/><stop offset=".953" stop-color="#00ce64"/><stop offset="1" stop-color="#00ce63"/></linearGradient>
<linearGradient id="i55" gradientUnits="userSpaceOnUse" x1="1279.2" x2="1585.8" spreadMethod="reflect"><stop offset="0" stop-color="#00a2e8"/><stop offset=".222" stop-color="#00abe2"/><stop offset=".322" stop-color="#00b3d8"/><stop offset=".406" stop-color="#00b9cc"/><stop offset=".482" stop-color="#00bebe"/><stop offset=".557" stop-color="#00c3af"/><stop offset=".636" stop-color="#00c79f"/><stop offset=".725" stop-color="#00cb8c"/><stop offset=".844" stop-color="#00cd76"/><stop offset="1" stop-color="#00ce6a"/></linearGradient>
<linearGradient id="i56" gradientUnits="userSpaceOnUse" x1="1305.8" x2="1612.4" spreadMethod="reflect"><stop offset="0" stop-color="#00a4e7"/><stop offset=".231" stop-color="#00ade0"/><stop offset=".333" stop-color="#00b5d5"/><stop offset=".419" stop-color="#00bbc8"/><stop offset=".5" stop-color="#00c0ba"/><stop offset=".581" stop-color="#00c4ab"/><stop offset=".667" stop-color="#00c89b"/><stop offset=".769" stop-color="#00cc87"/><stop offset=".978" stop-color="#00ce71"/><stop offset="1" stop-color="#00ce70"/></linearGradient>
<linearGradient id="i57" gradientUnits="userSpaceOnUse" x1="1332.5" x2="1639.1" spreadMethod="reflect"><stop offset="0" stop-color="#00a7e5"/><stop offset=".238" stop-color="#00afde"/><stop offset=".346" stop-color="#00b6d2"/><stop offset=".436" stop-color="#00bcc5"/><stop offset=".522" stop-color="#00c1b6"/><stop offset=".61" stop-color="#00c5a7"/><stop offset=".707" stop-color="#00c996"/><stop offset=".836" stop-color="#00cd82"/><stop offset="1" stop-color="#00cd77"/></linearGradient>
<linearGradient id="i58" gradientUnits="userSpaceOnUse" x1="1359.1" x2="1665.7" spreadMethod="reflect"><stop offset="0" stop-color="#00a9e4"/><stop offset=".246" stop-color="#00b1db"/><stop offset=".358" stop-color="#00b8cf"/><stop offset=".454" stop-color="#00bdc2"/><stop offset=".546" stop-color="#00c2b3"/><stop offset=".642" stop-color="#00c6a3"/><stop offset=".754" stop-color="#00ca91"/><stop offset=".99" stop-color="#00cd7c"/><stop offset="1" stop-color="#00cd7c"/></linearGradient>
<linearGradient id="i59" gradientUnits="userSpaceOnUse" x1="1385.8" x2="1692.4" spreadMethod="reflect"><stop offset="0" stop-color="#00abe2"/><stop offset=".256" stop-color="#00b3d9"/><stop offset=".372" stop-color="#00b9cc"/><stop offset=".472" stop-color="#00bebe"/><stop offset=".569" stop-color="#00c3b0"/><stop offset=".675" stop-color="#00c7a0"/><stop offset=".81" stop-color="#00cb8d"/><stop offset="1" stop-color="#00cd81"/></linearGradient>
<linearGradient id="i60" gradientUnits="userSpaceOnUse" x1="1412.4" x2="1719" spreadMethod="reflect"><stop offset="0" stop-color="#00ade0"/><stop offset=".265" stop-color="#00b4d6"/><stop offset=".388" stop-color="#00bac9"/><stop offset=".494" stop-color="#00bfbb"/><stop offset=".6" stop-color="#00c4ac"/><stop offset=".719" stop-color="#00c89c"/><stop offset=".911" stop-color="#00cc88"/><stop offset="1" stop-color="#00cc86"/></linearGradient>
</defs>
<rect width="1829" height="1363" fill="#fff"/>
<g fill="none" stroke="#262626" stroke-opacity="0.2" stroke-width="3.3" stroke-linecap="butt" filter="url(#bl)"><path d="M1719 950.4L1719 311"/><path d="M843 1137.5L1642.3 914"/><path d="M1642.3 914L1642.3 274.6"/><path d="M766.3 1101.2L1565.7 877.7"/><path d="M1565.7 877.7L1565.7 238.3"/><path d="M689.7 1064.8L1489.1 841.3"/><path d="M1489.1 841.3L1489.1 201.9"/><path d="M613 1028.5L1412.4 805"/><path d="M1412.4 805L1412.4 165.6"/><path d="M536.4 992.1L1335.8 768.6"/><path d="M1335.8 768.6L1335.8 129.2"/><path d="M459.7 955.7L1259.1 732.2"/><path d="M1259.1 732.2L1259.1 92.8"/><path d="M383.1 919.4L1182.5 695.9"/><path d="M1182.5 695.9L1182.5 56.5"/><path d="M306.4 883L1105.8 659.5"/><path d="M1105.8 659.5L1105.8 20.1"/><path d="M1186.1 1099.4L572.9 808.5"/><path d="M572.9 808.5L572.9 169.1"/><path d="M1452.5 1024.9L839.3 734"/><path d="M839.3 734L839.3 94.6"/><path d="M1719 950.4L1105.8 659.5"/><path d="M1105.8 659.5L1105.8 20.1"/><path d="M306.4 883L1105.8 659.5"/><path d="M1105.8 659.5L1719 950.4"/><path d="M306.4 723.2L1105.8 499.7"/><path d="M1105.8 499.7L1719 790.6"/><path d="M306.4 563.3L1105.8 339.8"/><path d="M1105.8 339.8L1719 630.7"/><path d="M306.4 403.5L1105.8 180"/><path d="M1105.8 180L1719 470.9"/><path d="M306.4 243.6L1105.8 20.1"/><path d="M1105.8 20.1L1719 311"/></g>
<path d="M919.6 566.5l-5.1-2.1 133.2 26zM919.6 566.5l128.1 23.9 5.1 2.1zM1052.8 592.5l-5.1-2.1 133.3 12zM1052.8 592.5l128.2 9.9 5.1 2.2zM1186.1 604.6l-5.1-2.2 133.2 2.2zM1186.1 604.6l128.1 0 5.1 2.2zM1319.3 606.8l-5.1-2.2 133.2-5.1zM1319.3 606.8l128.1-7.3 5.1 2.2zM1452.5 601.7l-5.1-2.2 133.3-10.9zM1452.5 601.7l128.2-13.1 5.1 2.3zM1585.8 590.9l-5.1-2.3 133.2-15.6zM1585.8 590.9l128.1-17.9 5.1 2.3zM914.5 564.4l-5.1-1.2 133.2 25.7zM914.5 564.4l128.1 24.5 5.1 1.5zM1047.7 590.4l-5.1-1.5 133.2 11.8zM1047.7 590.4l128.1 10.3 5.2 1.7zM1181 602.4l-5.2-1.7 133.3 2zM1181 602.4l128.1 .3 5.1 1.9zM1314.2 604.6l-5.1-1.9 133.2-5.2zM1314.2 604.6l128.1-7.1 5.1 2zM1447.4 599.5l-5.1-2 133.2-11zM1447.4 599.5l128.1-13 5.2 2.1zM1580.7 588.6l-5.2-2.1 133.3-15.7zM1580.7 588.6l128.1-17.8 5.1 2.2zM1037.5 588l-133.2-25.3 5.1 .5zM1042.6 588.9l-5.1-.9-128.1-24.8zM1042.6 588.9l-5.1-.9 133.2 11.5zM1042.6 588.9l128.1 10.6 5.1 1.2zM1175.8 600.7l-5.1-1.2 133.3 1.7zM1175.8 600.7l128.2 .5 5.1 1.5zM1309.1 602.7l-5.1-1.5 133.2-5.5zM1309.1 602.7l128.1-7 5.1 1.8zM1442.3 597.5l-5.1-1.8 133.2-11.1zM1442.3 597.5l128.1-12.9 5.1 1.9zM1575.5 586.5l-5.1-1.9 133.3-15.9zM1575.5 586.5l128.2-17.8 5.1 2.1zM1032.4 587.8l-133.2-24.7 5.1-.4zM1037.5 588l-5.1-.2-128.1-25.1zM1165.6 598.7l-133.2-10.9 5.1 .2zM1037.5 588l128.1 10.7 5.1 .8zM1170.7 599.5l-5.1-.8 133.3 1.4zM1170.7 599.5l128.2 .6 5.1 1.1zM1304 601.2l-5.1-1.1 133.2-5.8zM1304 601.2l128.1-6.9 5.1 1.4zM1437.2 595.7l-5.1-1.4 133.2-11.4zM1437.2 595.7l128.1-12.8 5.1 1.7zM1570.4 584.6l-5.1-1.7 133.3-16.1zM1570.4 584.6l128.2-17.8 5.1 1.9zM1027.3 588.1l-133.3-23.9 5.2-1.1zM1032.4 587.8l-5.1 .3-128.1-25zM1160.5 598.4l-133.2-10.3 5.1-.3zM1165.6 598.7l-5.1-.3-128.1-10.6zM1165.6 598.7l-5.1-.3 133.3 .9zM1165.6 598.7l128.2 .6 5.1 .8zM1298.9 600.1l-5.1-.8 133.2-6.2zM1298.9 600.1l128.1-7 5.1 1.2zM1432.1 594.3l-5.1-1.2 133.2-11.7zM1432.1 594.3l128.1-12.9 5.1 1.5zM1565.3 582.9l-5.1-1.5 133.2-16.3zM1565.3 582.9l128.1-17.8 5.2 1.7zM1022.2 589l-133.3-23 5.1-1.8zM1027.3 588.1l-5.1 .9-128.2-24.8zM1155.4 598.6l-133.2-9.6 5.1-.9zM1160.5 598.4l-5.1 .2-128.1-10.5zM1288.6 598.9l-133.2-.3 5.1-.2zM1160.5 598.4l128.1 .5 5.2 .4zM1293.8 599.3l-5.2-.4 133.3-6.6zM1293.8 599.3l128.1-7 5.1 .8zM1427 593.1l-5.1-.8 133.2-12.2zM1427 593.1l128.1-13 5.1 1.3zM1560.2 581.4l-5.1-1.3 133.2-16.6zM1560.2 581.4l128.1-17.9 5.1 1.6zM1017.1 590.5l-133.3-21.9 5.1-2.6zM1022.2 589l-5.1 1.5-128.2-24.5zM1150.3 599.2l-133.2-8.7 5.1-1.5zM1155.4 598.6l-5.1 .6-128.1-10.2zM1283.5 598.9l-133.2 .3 5.1-.6zM1155.4 598.6l128.1 .3 5.1 0zM1288.6 598.9l-5.1 0 133.3-7.3zM1288.6 598.9l128.2-7.3 5.1 .7zM1421.9 592.3l-5.1-.7 133.2-12.5zM1421.9 592.3l128.1-13.2 5.1 1zM1555.1 580.1l-5.1-1 133.2-17.1zM1555.1 580.1l128.1-18.1 5.1 1.5zM1012 592.6l-133.3-20.6 5.1-3.4zM1017.1 590.5l-5.1 2.1-128.2-24zM1145.2 600.3l-133.2-7.7 5.1-2.1zM1150.3 599.2l-5.1 1.1-128.1-9.8zM1278.4 599.1l-133.2 1.2 5.1-1.1zM1283.5 598.9l-5.1 .2-128.1 .1zM1283.5 598.9l-5.1 .2 133.3-7.8zM1283.5 598.9l128.2-7.6 5.1 .3zM1416.8 591.6l-5.1-.3 133.2-13.1zM1416.8 591.6l128.1-13.4 5.1 .9zM1550 579.1l-5.1-.9 133.2-17.5zM1550 579.1l128.1-18.4 5.1 1.3zM1006.8 595.2l-133.2-19.2 5.1-4zM1012 592.6l-5.2 2.6-128.1-23.2zM1140.1 601.8l-133.3-6.6 5.2-2.6zM1145.2 600.3l-5.1 1.5-128.1-9.2zM1273.3 599.8l-133.2 2 5.1-1.5zM1278.4 599.1l-5.1 .7-128.1 .5zM1406.5 591.2l-133.2 8.6 5.1-.7zM1278.4 599.1l128.1-7.9 5.2 .1zM1411.7 591.3l-5.2-.1 133.3-13.7zM1411.7 591.3l128.1-13.8 5.1 .7zM1544.9 578.2l-5.1-.7 133.2-18zM1544.9 578.2l128.1-18.7 5.1 1.2zM1001.7 598.4l-133.2-17.6 5.1-4.8zM1006.8 595.2l-5.1 3.2-128.1-22.4zM1135 603.8l-133.3-5.4 5.1-3.2zM1140.1 601.8l-5.1 2-128.2-8.6zM1268.2 600.7l-133.2 3.1 5.1-2zM1273.3 599.8l-5.1 .9-128.1 1.1zM1401.4 591.4l-133.2 9.3 5.1-.9zM1273.3 599.8l128.1-8.4 5.1-.2zM1406.5 591.2l-5.1 .2 133.3-14.4zM1406.5 591.2l128.2-14.2 5.1 .5zM1539.8 577.5l-5.1-.5 133.2-18.5zM1539.8 577.5l128.1-19 5.1 1zM996.6 602.1l-133.2-15.9 5.1-5.4zM1001.7 598.4l-5.1 3.7-128.1-21.3zM1129.9 606.2l-133.3-4.1 5.1-3.7zM1135 603.8l-5.1 2.4-128.2-7.8zM1263.1 602l-133.2 4.2 5.1-2.4zM1268.2 600.7l-5.1 1.3-128.1 1.8zM1396.3 591.8l-133.2 10.2 5.1-1.3zM1401.4 591.4l-5.1 .4-128.1 8.9zM1401.4 591.4l-5.1 .4 133.3-15.1zM1401.4 591.4l128.2-14.7 5.1 .3zM1534.7 577l-5.1-.3 133.2-19.1zM1534.7 577l128.1-19.4 5.1 .9zM991.5 606.3l-133.2-14 5.1-6.1zM996.6 602.1l-5.1 4.2-128.1-20.1zM1124.7 608.9l-133.2-2.6 5.1-4.2zM1129.9 606.2l-5.2 2.7-128.1-6.8zM1258 603.6l-133.3 5.3 5.2-2.7zM1263.1 602l-5.1 1.6-128.1 2.6zM1391.2 592.4l-133.2 11.2 5.1-1.6zM1396.3 591.8l-5.1 .6-128.1 9.6zM1524.4 576.5l-133.2 15.9 5.1-.6zM1396.3 591.8l128.1-15.3 5.2 .2zM1529.6 576.7l-5.2-.2 133.3-19.7zM1529.6 576.7l128.1-19.9 5.1 .8zM986.4 611l-133.2-11.9 5.1-6.8zM991.5 606.3l-5.1 4.7-128.1-18.7zM1119.6 612.1l-133.2-1.1 5.1-4.7zM1124.7 608.9l-5.1 3.2-128.1-5.8zM1252.9 605.5l-133.3 6.6 5.1-3.2zM1258 603.6l-5.1 1.9-128.2 3.4zM1386.1 593.3l-133.2 12.2 5.1-1.9zM1391.2 592.4l-5.1 .9-128.1 10.3zM1519.3 576.6l-133.2 16.7 5.1-.9zM1391.2 592.4l128.1-15.8 5.1-.1zM1524.4 576.5l-5.1 .1 133.3-20.4zM1524.4 576.5l128.2-20.3 5.1 .6zM981.3 616.2l-133.2-9.8 5.1-7.3zM986.4 611l-5.1 5.2-128.1-17.1zM1114.5 615.6l-133.2 .6 5.1-5.2zM1119.6 612.1l-5.1 3.5-128.1-4.6zM1247.8 607.7l-133.3 7.9 5.1-3.5zM1252.9 605.5l-5.1 2.2-128.2 4.4zM1381 594.4l-133.2 13.3 5.1-2.2zM1386.1 593.3l-5.1 1.1-128.1 11.1zM1514.2 576.8l-133.2 17.6 5.1-1.1zM1386.1 593.3l128.1-16.5 5.1-.2zM1519.3 576.6l-5.1 .2 133.3-21.2zM1519.3 576.6l128.2-21 5.1 .6zM976.2 621.9l-133.2-7.5 5.1-8zM981.3 616.2l-5.1 5.7-128.1-15.5zM1109.4 619.5l-133.2 2.4 5.1-5.7zM1114.5 615.6l-5.1 3.9-128.1-3.3zM1242.6 610.2l-133.2 9.3 5.1-3.9zM1247.8 607.7l-5.2 2.5-128.1 5.4zM1375.9 595.7l-133.3 14.5 5.2-2.5zM1381 594.4l-5.1 1.3-128.1 12zM1509.1 577.1l-133.2 18.6 5.1-1.3zM1381 594.4l128.1-17.3 5.1-.3zM1514.2 576.8l-5.1 .3 133.3-21.9zM1514.2 576.8l128.2-21.6 5.1 .4zM971.1 628l-133.3-5.1 5.2-8.5zM976.2 621.9l-5.1 6.1-128.1-13.6zM1104.3 623.7l-133.2 4.3 5.1-6.1zM1109.4 619.5l-5.1 4.2-128.1-1.8zM1237.5 612.9l-133.2 10.8 5.1-4.2zM1242.6 610.2l-5.1 2.7-128.1 6.6zM1370.8 597.2l-133.3 15.7 5.1-2.7zM1375.9 595.7l-5.1 1.5-128.2 13zM1504 577.6l-133.2 19.6 5.1-1.5zM1375.9 595.7l128.1-18.1 5.1-.5zM1509.1 577.1l-5.1 .5 133.2-22.7zM1509.1 577.1l128.1-22.2 5.2 .3zM966 634.5l-133.3-2.6 5.1-9zM971.1 628l-5.1 6.5-128.2-11.6zM1099.2 628.3l-133.2 6.2 5.1-6.5zM1104.3 623.7l-5.1 4.6-128.1-.3zM1232.4 615.9l-133.2 12.4 5.1-4.6zM1237.5 612.9l-5.1 3-128.1 7.8zM1365.7 598.9l-133.3 17 5.1-3zM1370.8 597.2l-5.1 1.7-128.2 14zM1498.9 578.3l-133.2 20.6 5.1-1.7zM1370.8 597.2l128.1-18.9 5.1-.7zM1504 577.6l-5.1 .7 133.2-23.7zM1504 577.6l128.1-23 5.1 .3zM960.9 641.4l-133.3 0 5.1-9.5zM966 634.5l-5.1 6.9-128.2-9.5zM1094.1 633.1l-133.2 8.3 5.1-6.9zM1099.2 628.3l-5.1 4.8-128.1 1.4zM1227.3 619.1l-133.2 14 5.1-4.8zM1232.4 615.9l-5.1 3.2-128.1 9.2zM1360.6 600.8l-133.3 18.3 5.1-3.2zM1365.7 598.9l-5.1 1.9-128.2 15.1zM1493.8 579l-133.2 21.8 5.1-1.9zM1365.7 598.9l128.1-19.9 5.1-.7zM1498.9 578.3l-5.1 .7 133.2-24.5zM1498.9 578.3l128.1-23.8 5.1 .1zM955.7 648.7l-133.2 2.7 5.1-10zM960.9 641.4l-5.2 7.3-128.1-7.3zM1089 638.3l-133.3 10.4 5.2-7.3zM1094.1 633.1l-5.1 5.2-128.1 3.1zM1222.2 622.5l-133.2 15.8 5.1-5.2zM1227.3 619.1l-5.1 3.4-128.1 10.6zM1355.4 602.8l-133.2 19.7 5.1-3.4zM1360.6 600.8l-5.2 2-128.1 16.3zM1488.7 579.9l-133.3 22.9 5.2-2zM1493.8 579l-5.1 .9-128.1 20.9zM1493.8 579l-5.1 .9 133.2-25.4zM1493.8 579l128.1-24.5 5.1 0zM950.6 656.3l-133.2 5.6 5.1-10.5zM955.7 648.7l-5.1 7.6-128.1-4.9zM1083.9 643.7l-133.3 12.6 5.1-7.6zM1089 638.3l-5.1 5.4-128.2 5zM1217.1 626.1l-133.2 17.6 5.1-5.4zM1222.2 622.5l-5.1 3.6-128.1 12.2zM1350.3 605l-133.2 21.1 5.1-3.6zM1355.4 602.8l-5.1 2.2-128.1 17.5zM1483.6 580.9l-133.3 24.1 5.1-2.2zM1488.7 579.9l-5.1 1-128.2 21.9zM1616.8 554.5l-133.2 26.4 5.1-1zM1488.7 579.9l128.1-25.4 5.1 0zM945.5 664.2l-133.2 8.5 5.1-10.8zM950.6 656.3l-5.1 7.9-128.1-2.3zM1078.8 649.3l-133.3 14.9 5.1-7.9zM1083.9 643.7l-5.1 5.6-128.2 7zM1212 630l-133.2 19.3 5.1-5.6zM1217.1 626.1l-5.1 3.9-128.1 13.7zM1345.2 607.3l-133.2 22.7 5.1-3.9zM1350.3 605l-5.1 2.3-128.1 18.8zM1478.5 582.1l-133.3 25.2 5.1-2.3zM1483.6 580.9l-5.1 1.2-128.2 22.9zM1611.7 554.7l-133.2 27.4 5.1-1.2zM1483.6 580.9l128.1-26.2 5.1-.2zM940.4 672.3l-133.2 11.5 5.1-11.1zM945.5 664.2l-5.1 8.1-128.1 .4zM1073.6 655.1l-133.2 17.2 5.1-8.1zM1078.8 649.3l-5.2 5.8-128.1 9.1zM1206.9 633.9l-133.3 21.2 5.2-5.8zM1212 630l-5.1 3.9-128.1 15.4zM1340.1 609.8l-133.2 24.1 5.1-3.9zM1345.2 607.3l-5.1 2.5-128.1 20.2zM1473.3 583.3l-133.2 26.5 5.1-2.5zM1478.5 582.1l-5.2 1.2-128.1 24zM1606.6 554.8l-133.3 28.5 5.2-1.2zM1478.5 582.1l128.1-27.3 5.1-.1zM935.3 680.8l-133.2 14.5 5.1-11.5zM940.4 672.3l-5.1 8.5-128.1 3zM1068.5 661.2l-133.2 19.6 5.1-8.5zM1073.6 655.1l-5.1 6.1-128.1 11.1zM1201.8 638.1l-133.3 23.1 5.1-6.1zM1206.9 633.9l-5.1 4.2-128.2 17zM1335 612.4l-133.2 25.7 5.1-4.2zM1340.1 609.8l-5.1 2.6-128.1 21.5zM1468.2 584.6l-133.2 27.8 5.1-2.6zM1473.3 583.3l-5.1 1.3-128.1 25.2zM1601.5 555.1l-133.3 29.5 5.1-1.3zM1473.3 583.3l128.2-28.2 5.1-.3zM930.2 689.4l-133.2 17.7 5.1-11.8zM935.3 680.8l-5.1 8.6-128.1 5.9zM1063.4 667.4l-133.2 22 5.1-8.6zM1068.5 661.2l-5.1 6.2-128.1 13.4zM1196.7 642.4l-133.3 25 5.1-6.2zM1201.8 638.1l-5.1 4.3-128.2 18.8zM1329.9 615l-133.2 27.4 5.1-4.3zM1335 612.4l-5.1 2.6-128.1 23.1zM1463.1 586l-133.2 29 5.1-2.6zM1468.2 584.6l-5.1 1.4-128.1 26.4zM1596.4 555.4l-133.3 30.6 5.1-1.4zM1468.2 584.6l128.2-29.2 5.1-.3zM925.1 698.3l-133.3 20.8 5.2-12zM930.2 689.4l-5.1 8.9-128.1 8.8zM1058.3 673.8l-133.2 24.5 5.1-8.9zM1063.4 667.4l-5.1 6.4-128.1 15.6zM1191.6 646.7l-133.3 27.1 5.1-6.4zM1196.7 642.4l-5.1 4.3-128.2 20.7zM1324.8 617.8l-133.2 28.9 5.1-4.3zM1329.9 615l-5.1 2.8-128.1 24.6zM1458 587.4l-133.2 30.4 5.1-2.8zM1463.1 586l-5.1 1.4-128.1 27.6zM1591.2 555.8l-133.2 31.6 5.1-1.4zM1463.1 586l128.1-30.2 5.2-.4zM920 707.3l-133.3 24 5.1-12.2zM925.1 698.3l-5.1 9-128.2 11.8zM1053.2 680.3l-133.2 27 5.1-9zM1058.3 673.8l-5.1 6.5-128.1 18zM1186.4 651.2l-133.2 29.1 5.1-6.5zM1191.6 646.7l-5.2 4.5-128.1 22.6zM1319.7 620.7l-133.3 30.5 5.2-4.5zM1324.8 617.8l-5.1 2.9-128.1 26zM1452.9 588.9l-133.2 31.8 5.1-2.9zM1458 587.4l-5.1 1.5-128.1 28.9zM1586.1 556.2l-133.2 32.7 5.1-1.5zM1458 587.4l128.1-31.2 5.1-.4zM914.9 716.4l-133.3 27.3 5.1-12.4zM920 707.3l-5.1 9.1-128.2 14.9zM1048.1 686.9l-133.2 29.5 5.1-9.1zM1053.2 680.3l-5.1 6.6-128.1 20.4zM1181.3 655.8l-133.2 31.1 5.1-6.6zM1186.4 651.2l-5.1 4.6-128.1 24.5zM1314.6 623.6l-133.3 32.2 5.1-4.6zM1319.7 620.7l-5.1 2.9-128.2 27.6zM1447.8 590.4l-133.2 33.2 5.1-2.9zM1452.9 588.9l-5.1 1.5-128.1 30.3zM1581 556.6l-133.2 33.8 5.1-1.5zM1452.9 588.9l128.1-32.3 5.1-.4zM909.8 725.6l-133.3 30.6 5.1-12.5zM914.9 716.4l-5.1 9.2-128.2 18.1zM1043 693.5l-133.2 32.1 5.1-9.2zM1048.1 686.9l-5.1 6.6-128.1 22.9zM1176.2 660.4l-133.2 33.1 5.1-6.6zM1181.3 655.8l-5.1 4.6-128.1 26.5zM1309.5 626.5l-133.3 33.9 5.1-4.6zM1314.6 623.6l-5.1 2.9-128.2 29.3zM1442.7 592l-133.2 34.5 5.1-2.9zM1447.8 590.4l-5.1 1.6-128.1 31.6zM1575.9 557l-133.2 35 5.1-1.6zM1447.8 590.4l128.1-33.4 5.1-.4zM904.6 734.9l-133.2 33.9 5.1-12.6zM909.8 725.6l-5.2 9.3-128.1 21.3zM1037.9 700.2l-133.3 34.7 5.2-9.3zM1043 693.5l-5.1 6.7-128.1 25.4zM1171.1 665.1l-133.2 35.1 5.1-6.7zM1176.2 660.4l-5.1 4.7-128.1 28.4zM1304.3 629.5l-133.2 35.6 5.1-4.7zM1309.5 626.5l-5.2 3-128.1 30.9zM1437.6 593.6l-133.3 35.9 5.2-3zM1442.7 592l-5.1 1.6-128.1 32.9zM1570.8 557.5l-133.2 36.1 5.1-1.6zM1442.7 592l128.1-34.5 5.1-.5zM899.5 744.2l-133.2 37.3 5.1-12.7zM904.6 734.9l-5.1 9.3-128.1 24.6zM1032.8 707l-133.3 37.2 5.1-9.3zM1037.9 700.2l-5.1 6.8-128.2 27.9zM1166 669.7l-133.2 37.3 5.1-6.8zM1171.1 665.1l-5.1 4.6-128.1 30.5zM1299.2 632.5l-133.2 37.2 5.1-4.6zM1304.3 629.5l-5.1 3-128.1 32.6zM1432.5 595.2l-133.3 37.3 5.1-3zM1437.6 593.6l-5.1 1.6-128.2 34.3zM1565.7 558l-133.2 37.2 5.1-1.6zM1437.6 593.6l128.1-35.6 5.1-.5zM894.4 753.5l-133.2 40.6 5.1-12.6zM899.5 744.2l-5.1 9.3-128.1 28zM1027.7 713.7l-133.3 39.8 5.1-9.3zM1032.8 707l-5.1 6.7-128.2 30.5zM1160.9 674.4l-133.2 39.3 5.1-6.7zM1166 669.7l-5.1 4.7-128.1 32.6zM1294.1 635.5l-133.2 38.9 5.1-4.7zM1299.2 632.5l-5.1 3-128.1 34.2zM1427.4 596.8l-133.3 38.7 5.1-3zM1432.5 595.2l-5.1 1.6-128.2 35.7zM1560.6 558.4l-133.2 38.4 5.1-1.6zM1432.5 595.2l128.1-36.8 5.1-.4zM889.3 762.8l-133.2 43.9 5.1-12.6zM894.4 753.5l-5.1 9.3-128.1 31.3zM1022.5 720.4l-133.2 42.4 5.1-9.3zM1027.7 713.7l-5.2 6.7-128.1 33.1zM1155.8 679.1l-133.3 41.3 5.2-6.7zM1160.9 674.4l-5.1 4.7-128.1 34.6zM1289 638.4l-133.2 40.7 5.1-4.7zM1294.1 635.5l-5.1 2.9-128.1 36zM1422.2 598.4l-133.2 40 5.1-2.9zM1427.4 596.8l-5.2 1.6-128.1 37.1zM1555.5 558.9l-133.3 39.5 5.2-1.6zM1427.4 596.8l128.1-37.9 5.1-.5zM884.2 772.1l-133.2 47.1 5.1-12.5zM889.3 762.8l-5.1 9.3-128.1 34.6zM1017.4 727.1l-133.2 45 5.1-9.3zM1022.5 720.4l-5.1 6.7-128.1 35.7zM1150.7 683.7l-133.3 43.4 5.1-6.7zM1155.8 679.1l-5.1 4.6-128.2 36.7zM1283.9 641.4l-133.2 42.3 5.1-4.6zM1289 638.4l-5.1 3-128.1 37.7zM1417.1 600l-133.2 41.4 5.1-3zM1422.2 598.4l-5.1 1.6-128.1 38.4zM1550.4 559.4l-133.3 40.6 5.1-1.6zM1422.2 598.4l128.2-39 5.1-.5zM879.1 781.2l-133.2 50.4 5.1-12.4zM884.2 772.1l-5.1 9.1-128.1 38zM1012.3 733.7l-133.2 47.5 5.1-9.1zM1017.4 727.1l-5.1 6.6-128.1 38.4zM1145.6 688.2l-133.3 45.5 5.1-6.6zM1150.7 683.7l-5.1 4.5-128.2 38.9zM1278.8 644.3l-133.2 43.9 5.1-4.5zM1283.9 641.4l-5.1 2.9-128.1 39.4zM1412 601.5l-133.2 42.8 5.1-2.9zM1283.9 641.4l128.1-39.9 5.1-1.5zM1417.1 600l-5.1 1.5 133.3-41.7zM1417.1 600l128.2-40.2 5.1-.4zM874 790.2l-133.2 53.6 5.1-12.2zM879.1 781.2l-5.1 9-128.1 41.4zM1007.2 740.2l-133.2 50 5.1-9zM1012.3 733.7l-5.1 6.5-128.1 41zM1140.4 692.7l-133.2 47.5 5.1-6.5zM1145.6 688.2l-5.2 4.5-128.1 41zM1273.7 647.1l-133.3 45.6 5.2-4.5zM1278.8 644.3l-5.1 2.8-128.1 41.1zM1406.9 603l-133.2 44.1 5.1-2.8zM1278.8 644.3l128.1-41.3 5.1-1.5zM1412 601.5l-5.1 1.5 133.3-42.8zM1412 601.5l128.2-41.3 5.1-.4zM868.9 799l-133.3 56.8 5.2-12zM874 790.2l-5.1 8.8-128.1 44.8zM1002.1 746.5l-133.2 52.5 5.1-8.8zM1007.2 740.2l-5.1 6.3-128.1 43.7zM1135.3 697.1l-133.2 49.4 5.1-6.3zM1140.4 692.7l-5.1 4.4-128.1 43.1zM1268.6 649.9l-133.3 47.2 5.1-4.4zM1273.7 647.1l-5.1 2.8-128.2 42.8zM1401.8 604.5l-133.2 45.4 5.1-2.8zM1273.7 647.1l128.1-42.6 5.1-1.5zM1406.9 603l-5.1 1.5 133.2-44zM1406.9 603l128.1-42.5 5.2-.3zM863.8 807.7l-133.3 59.9 5.1-11.8zM868.9 799l-5.1 8.7-128.2 48.1zM997 752.8l-133.2 54.9 5.1-8.7zM1002.1 746.5l-5.1 6.3-128.1 46.2zM1130.2 701.4l-133.2 51.4 5.1-6.3zM1135.3 697.1l-5.1 4.3-128.1 45.1zM1263.5 652.6l-133.3 48.8 5.1-4.3zM1268.6 649.9l-5.1 2.7-128.2 44.5zM1396.7 605.9l-133.2 46.7 5.1-2.7zM1268.6 649.9l128.1-44 5.1-1.4zM1401.8 604.5l-5.1 1.4 133.2-45.1zM1401.8 604.5l128.1-43.7 5.1-.3zM858.7 816.1l-133.3 63 5.1-11.5zM863.8 807.7l-5.1 8.4-128.2 51.5zM991.9 758.8l-133.2 57.3 5.1-8.4zM997 752.8l-5.1 6-128.1 48.9zM1125.1 705.5l-133.2 53.3 5.1-6zM1130.2 701.4l-5.1 4.1-128.1 47.3zM1258.4 655.2l-133.3 50.3 5.1-4.1zM1263.5 652.6l-5.1 2.6-128.2 46.2zM1391.6 607.2l-133.2 48 5.1-2.6zM1263.5 652.6l128.1-45.4 5.1-1.3zM1396.7 605.9l-5.1 1.3 133.2-46.1zM1396.7 605.9l128.1-44.8 5.1-.3zM853.5 824.3l-133.2 66 5.1-11.2zM858.7 816.1l-5.2 8.2-128.1 54.8zM986.8 764.7l-133.3 59.6 5.2-8.2zM991.9 758.8l-5.1 5.9-128.1 51.4zM1120 709.5l-133.2 55.2 5.1-5.9zM1125.1 705.5l-5.1 4-128.1 49.3zM1253.2 657.6l-133.2 51.9 5.1-4zM1258.4 655.2l-5.2 2.4-128.1 47.9zM1386.5 608.4l-133.3 49.2 5.2-2.4zM1258.4 655.2l128.1-46.8 5.1-1.2zM1391.6 607.2l-5.1 1.2 133.2-47.1zM1391.6 607.2l128.1-45.9 5.1-.2zM848.4 832.2l-133.2 68.9 5.1-10.8zM853.5 824.3l-5.1 7.9-128.1 58.1zM981.7 770.3l-133.3 61.9 5.1-7.9zM986.8 764.7l-5.1 5.6-128.2 54zM1114.9 713.3l-133.2 57 5.1-5.6zM1120 709.5l-5.1 3.8-128.1 51.4zM1248.1 660l-133.2 53.3 5.1-3.8zM1253.2 657.6l-5.1 2.4-128.1 49.5zM1381.4 609.5l-133.3 50.5 5.1-2.4zM1253.2 657.6l128.2-48.1 5.1-1.1zM1386.5 608.4l-5.1 1.1 133.2-48.1zM1386.5 608.4l128.1-47 5.1-.1zM843.3 839.8l-133.2 71.7 5.1-10.4zM848.4 832.2l-5.1 7.6-128.1 61.3zM976.6 775.7l-133.3 64.1 5.1-7.6zM981.7 770.3l-5.1 5.4-128.2 56.5zM1109.8 716.9l-133.2 58.8 5.1-5.4zM1114.9 713.3l-5.1 3.6-128.1 53.4zM1243 662.2l-133.2 54.7 5.1-3.6zM1248.1 660l-5.1 2.2-128.1 51.1zM1376.3 610.5l-133.3 51.7 5.1-2.2zM1248.1 660l128.2-49.5 5.1-1zM1381.4 609.5l-5.1 1 133.2-49zM1381.4 609.5l128.1-48 5.1-.1zM838.2 847l-133.2 74.5 5.1-10zM843.3 839.8l-5.1 7.2-128.1 64.5zM971.4 780.8l-133.2 66.2 5.1-7.2zM976.6 775.7l-5.2 5.1-128.1 59zM1104.7 720.4l-133.3 60.4 5.2-5.1zM1109.8 716.9l-5.1 3.5-128.1 55.3zM1237.9 664.2l-133.2 56.2 5.1-3.5zM1109.8 716.9l128.1-52.7 5.1-2zM1371.1 611.4l-133.2 52.8 5.1-2zM1243 662.2l128.1-50.8 5.2-.9zM1376.3 610.5l-5.2 .9 133.3-50zM1376.3 610.5l128.1-49.1 5.1 .1zM833.1 853.9l-133.2 77.1 5.1-9.5zM838.2 847l-5.1 6.9-128.1 67.6zM966.3 785.7l-133.2 68.2 5.1-6.9zM971.4 780.8l-5.1 4.9-128.1 61.3zM1099.6 723.6l-133.3 62.1 5.1-4.9zM1104.7 720.4l-5.1 3.2-128.2 57.2zM1232.8 666.1l-133.2 57.5 5.1-3.2zM1104.7 720.4l128.1-54.3 5.1-1.9zM1237.9 664.2l-5.1 1.9 133.2-53.9zM1237.9 664.2l128.1-52 5.1-.8zM1371.1 611.4l-5.1 .8 133.3-50.9zM1371.1 611.4l128.2-50.1 5.1 .1zM828 860.4l-133.2 79.7 5.1-9.1zM833.1 853.9l-5.1 6.5-128.1 70.6zM961.2 790.2l-133.2 70.2 5.1-6.5zM966.3 785.7l-5.1 4.5-128.1 63.7zM1094.5 726.5l-133.3 63.7 5.1-4.5zM1099.6 723.6l-5.1 2.9-128.2 59.2zM1227.7 667.8l-133.2 58.7 5.1-2.9zM1099.6 723.6l128.1-55.8 5.1-1.7zM1232.8 666.1l-5.1 1.7 133.2-55zM1232.8 666.1l128.1-53.3 5.1-.6zM1366 612.2l-5.1 .6 133.3-51.7zM1366 612.2l128.2-51.1 5.1 .2zM822.9 866.5l-133.2 82.1 5.1-8.5zM828 860.4l-5.1 6.1-128.1 73.6zM956.1 794.4l-133.2 72.1 5.1-6.1zM961.2 790.2l-5.1 4.2-128.1 66zM1089.4 729.3l-133.3 65.1 5.1-4.2zM1094.5 726.5l-5.1 2.8-128.2 60.9zM1222.6 669.3l-133.2 60 5.1-2.8zM1094.5 726.5l128.1-57.2 5.1-1.5zM1227.7 667.8l-5.1 1.5 133.2-56zM1227.7 667.8l128.1-54.5 5.1-.5zM1360.9 612.8l-5.1 .5 133.3-52.5zM1360.9 612.8l128.2-52 5.1 .3zM817.8 872.2l-133.3 84.3 5.2-7.9zM822.9 866.5l-5.1 5.7-128.1 76.4zM951 798.3l-133.2 73.9 5.1-5.7zM956.1 794.4l-5.1 3.9-128.1 68.2zM1084.2 731.7l-133.2 66.6 5.1-3.9zM956.1 794.4l128.1-62.7 5.2-2.4zM1217.5 670.6l-133.3 61.1 5.2-2.4zM1089.4 729.3l128.1-58.7 5.1-1.3zM1222.6 669.3l-5.1 1.3 133.2-56.9zM1222.6 669.3l128.1-55.6 5.1-.4zM1355.8 613.3l-5.1 .4 133.2-53.4zM1355.8 613.3l128.1-53 5.2 .5zM812.7 877.4l-133.3 86.5 5.1-7.4zM817.8 872.2l-5.1 5.2-128.2 79.1zM945.9 801.9l-133.2 75.5 5.1-5.2zM951 798.3l-5.1 3.6-128.1 70.3zM1079.1 733.9l-133.2 68 5.1-3.6zM951 798.3l128.1-64.4 5.1-2.2zM1084.2 731.7l-5.1 2.2 133.3-62.2zM1084.2 731.7l128.2-60 5.1-1.1zM1217.5 670.6l-5.1 1.1 133.2-57.8zM1217.5 670.6l128.1-56.7 5.1-.2zM1350.7 613.7l-5.1 .2 133.2-54.1zM1350.7 613.7l128.1-53.9 5.1 .5zM807.6 882.1l-133.3 88.5 5.1-6.7zM812.7 877.4l-5.1 4.7-128.2 81.8zM940.8 805l-133.2 77.1 5.1-4.7zM945.9 801.9l-5.1 3.1-128.1 72.4zM1074 735.8l-133.2 69.2 5.1-3.1zM945.9 801.9l128.1-66.1 5.1-1.9zM1079.1 733.9l-5.1 1.9 133.3-63.3zM1079.1 733.9l128.2-61.4 5.1-.8zM1212.4 671.7l-5.1 .8 133.2-58.6zM1212.4 671.7l128.1-57.8 5.1 0zM1345.6 613.9l-5.1 0 133.2-54.8zM1345.6 613.9l128.1-54.8 5.1 .7zM802.4 886.4l-133.2 90.3 5.1-6.1zM807.6 882.1l-5.2 4.3-128.1 84.2zM935.7 807.8l-133.3 78.6 5.2-4.3zM807.6 882.1l128.1-74.3 5.1-2.8zM1068.9 737.4l-133.2 70.4 5.1-2.8zM940.8 805l128.1-67.6 5.1-1.6zM1074 735.8l-5.1 1.6 133.2-64.2zM1074 735.8l128.1-62.6 5.2-.7zM1207.3 672.5l-5.2 .7 133.3-59.4zM1207.3 672.5l128.1-58.7 5.1 .1zM1340.5 613.9l-5.1-.1 133.2-55.4zM1340.5 613.9l128.1-55.5 5.1 .7zM797.3 890.1l-133.2 92.1 5.1-5.5zM802.4 886.4l-5.1 3.7-128.1 86.6zM930.6 810.1l-133.3 80 5.1-3.7zM802.4 886.4l128.2-76.3 5.1-2.3zM935.7 807.8l-5.1 2.3 133.2-71.4zM935.7 807.8l128.1-69.1 5.1-1.3zM1068.9 737.4l-5.1 1.3 133.2-65.1zM1068.9 737.4l128.1-63.8 5.1-.4zM1202.1 673.2l-5.1 .4 133.3-60.1zM1202.1 673.2l128.2-59.7 5.1 .3zM1335.4 613.8l-5.1-.3 133.2-56.1zM1335.4 613.8l128.1-56.4 5.1 1zM792.2 893.3l-133.2 93.6 5.1-4.7zM664.1 982.2l128.1-88.9 5.1-3.2zM925.5 812.1l-133.3 81.2 5.1-3.2zM797.3 890.1l128.2-78 5.1-2zM930.6 810.1l-5.1 2 133.2-72.4zM930.6 810.1l128.1-70.4 5.1-1zM1063.8 738.7l-5.1 1 133.2-65.9zM1063.8 738.7l128.1-64.9 5.1-.2zM1197 673.6l-5.1 .2 133.3-60.8zM1197 673.6l128.2-60.6 5.1 .5zM1330.3 613.5l-5.1-.5 133.2-56.6zM1330.3 613.5l128.1-57.1 5.1 1zM787.1 895.9l-133.2 95.1 5.1-4.1zM659 986.9l128.1-91 5.1-2.6zM792.2 893.3l-5.1 2.6 133.2-82.3zM792.2 893.3l128.1-79.7 5.2-1.5zM925.5 812.1l-5.2 1.5 133.3-73.3zM925.5 812.1l128.1-71.8 5.1-.6zM1058.7 739.7l-5.1 .6 133.2-66.6zM1058.7 739.7l128.1-66 5.1 .1zM1191.9 673.8l-5.1-.1 133.2-61.4zM1191.9 673.8l128.1-61.5 5.2 .7zM1325.2 613l-5.2-.7 133.3-57.1zM1325.2 613l128.1-57.8 5.1 1.2zM653.9 991l-5.1 3.3 133.2-96.3zM653.9 991l128.1-93 5.1-2.1zM787.1 895.9l-5.1 2.1 133.2-83.3zM787.1 895.9l128.1-81.2 5.1-1.1zM920.3 813.6l-5.1 1.1 133.3-74.1zM920.3 813.6l128.2-73 5.1-.3zM1053.6 740.3l-5.1 .3 133.2-67.3zM1053.6 740.3l128.1-67 5.1 .4zM1186.8 673.7l-5.1-.4 133.2-61.9zM1186.8 673.7l128.1-62.3 5.1 .9zM1320 612.3l-5.1-.9 133.3-57.5zM1320 612.3l128.2-58.4 5.1 1.3zM648.8 994.3l-5.1 2.6 133.2-97.4zM648.8 994.3l128.1-94.8 5.1-1.5zM782 898l-5.1 1.5 133.2-84.2zM782 898l128.1-82.7 5.1-.6zM915.2 814.7l-5.1 .6 133.3-74.8zM915.2 814.7l128.2-74.2 5.1 .1zM1048.5 740.6l-5.1-.1 133.2-67.8zM1048.5 740.6l128.1-67.9 5.1 .6zM1181.7 673.3l-5.1-.6 133.2-62.4zM1181.7 673.3l128.1-63 5.1 1.1zM1314.9 611.4l-5.1-1.1 133.3-57.8zM1314.9 611.4l128.2-58.9 5.1 1.4zM643.7 996.9l-5.1 1.9 133.2-98.4zM643.7 996.9l128.1-96.5 5.1-.9zM776.9 899.5l-5.1 .9 133.2-84.9zM776.9 899.5l128.1-84 5.1-.2zM910.1 815.3l-5.1 .2 133.2-75.4zM910.1 815.3l128.1-75.2 5.2 .4zM1043.4 740.5l-5.2-.4 133.3-68.3zM1043.4 740.5l128.1-68.7 5.1 .9zM1176.6 672.7l-5.1-.9 133.2-62.8zM1176.6 672.7l128.1-63.7 5.1 1.3zM1309.8 610.3l-5.1-1.3 133.2-58.1zM1309.8 610.3l128.1-59.4 5.2 1.6zM638.6 998.8l-5.2 1.1 133.3-99.2zM638.6 998.8l128.1-98.1 5.1-.3zM771.8 900.4l-5.1 .3 133.2-85.5zM771.8 900.4l128.1-85.2 5.1 .3zM905 815.5l-5.1-.3 133.2-75.8zM905 815.5l128.1-76.1 5.1 .7zM1038.2 740.1l-5.1-.7 133.3-68.8zM1038.2 740.1l128.2-69.5 5.1 1.2zM1171.5 671.8l-5.1-1.2 133.2-63zM1171.5 671.8l128.1-64.2 5.1 1.4zM1304.7 609l-5.1-1.4 133.2-58.5zM1304.7 609l128.1-59.9 5.1 1.8zM633.4 999.9l-5.1 .3 133.3-99.8zM633.4 999.9l128.2-99.5 5.1 .3zM766.7 900.7l-5.1-.3 133.2-85.9zM766.7 900.7l128.1-86.2 5.1 .7zM899.9 815.2l-5.1-.7 133.2-76.3zM899.9 815.2l128.1-77 5.1 1.2zM1033.1 739.4l-5.1-1.2 133.3-69zM1033.1 739.4l128.2-70.2 5.1 1.4zM1166.4 670.6l-5.1-1.4 133.2-63.3zM1166.4 670.6l128.1-64.7 5.1 1.7zM1299.6 607.6l-5.1-1.7 133.2-58.7zM1299.6 607.6l128.1-60.4 5.1 1.9zM628.3 1000.2l-5.1-.4 133.3-100.3zM628.3 1000.2l128.2-100.7 5.1 .9zM761.6 900.4l-5.1-.9 133.2-86.2zM761.6 900.4l128.1-87.1 5.1 1.2zM894.8 814.5l-5.1-1.2 133.2-76.6zM894.8 814.5l128.1-77.8 5.1 1.5zM1028 738.2l-5.1-1.5 133.3-69.2zM1028 738.2l128.2-70.7 5.1 1.7zM1161.3 669.2l-5.1-1.7 133.2-63.5zM1161.3 669.2l128.1-65.2 5.1 1.9zM1294.5 605.9l-5.1-1.9 133.2-58.8zM1294.5 605.9l128.1-60.7 5.1 2zM623.2 999.8l-5.1-1.3 133.2-100.5zM623.2 999.8l128.1-101.8 5.2 1.5zM756.5 899.5l-5.2-1.5 133.3-86.4zM756.5 899.5l128.1-87.9 5.1 1.7zM889.7 813.3l-5.1-1.7 133.2-76.7zM889.7 813.3l128.1-78.4 5.1 1.8zM1022.9 736.7l-5.1-1.8 133.2-69.4zM1022.9 736.7l128.1-71.2 5.2 2zM1156.2 667.5l-5.2-2 133.3-63.6zM1156.2 667.5l128.1-65.6 5.1 2.1zM1289.4 604l-5.1-2.1 133.2-58.9zM1289.4 604l128.1-61 5.1 2.2zM618.1 998.5l-5.1-2 133.2-100.6zM618.1 998.5l128.1-102.6 5.1 2.1zM751.3 898l-5.1-2.1 133.3-86.5zM751.3 898l128.2-88.6 5.1 2.2zM884.6 811.6l-5.1-2.2 133.2-76.8zM884.6 811.6l128.1-79 5.1 2.3zM1017.8 734.9l-5.1-2.3 133.2-69.4zM1017.8 734.9l128.1-71.7 5.1 2.3zM1151 665.5l-5.1-2.3 133.3-63.7zM1151 665.5l128.2-66 5.1 2.4zM1284.3 601.9l-5.1-2.4 133.2-58.9zM1284.3 601.9l128.1-61.3 5.1 2.4zM613 996.5l-5.1-2.8 133.2-100.5zM613 996.5l128.1-103.3 5.1 2.7zM746.2 895.9l-5.1-2.7 133.3-86.5zM746.2 895.9l128.2-89.2 5.1 2.7zM879.5 809.4l-5.1-2.7 133.2-76.7zM879.5 809.4l128.1-79.4 5.1 2.6zM1012.7 732.6l-5.1-2.6 133.2-69.4zM1012.7 732.6l128.1-72 5.1 2.6zM1145.9 663.2l-5.1-2.6 133.3-63.6zM1145.9 663.2l128.2-66.2 5.1 2.5zM1279.2 599.5l-5.1-2.5 133.2-58.9zM1279.2 599.5l128.1-61.4 5.1 2.5zM607.9 993.7l-5.1-3.6 133.2-100.3zM607.9 993.7l128.1-103.9 5.1 3.4zM741.1 893.2l-5.1-3.4 133.2-86.2zM741.1 893.2l128.1-89.6 5.2 3.1zM874.4 806.7l-5.2-3.1 133.3-76.6zM874.4 806.7l128.1-79.7 5.1 3zM1007.6 730l-5.1-3 133.2-69.2zM1007.6 730l128.1-72.2 5.1 2.8zM1140.8 660.6l-5.1-2.8 133.2-63.5zM1140.8 660.6l128.1-66.3 5.2 2.7zM1274.1 597l-5.2-2.7 133.3-58.8zM1274.1 597l128.1-61.5 5.1 2.6zM602.8 990.1l-5.1-4.4 133.2-99.8zM602.8 990.1l128.1-104.2 5.1 3.9zM736 889.8l-5.1-3.9 133.2-86zM736 889.8l128.1-89.9 5.1 3.7zM869.2 803.6l-5.1-3.7 133.3-76.2zM869.2 803.6l128.2-79.9 5.1 3.3zM1002.5 727l-5.1-3.3 133.2-69zM1002.5 727l128.1-72.3 5.1 3.1zM1135.7 657.8l-5.1-3.1 133.2-63.4zM1135.7 657.8l128.1-66.5 5.1 3zM1268.9 594.3l-5.1-3 133.3-58.6zM1268.9 594.3l128.2-61.6 5.1 2.8zM597.7 985.7l-5.1-5.2 133.2-99.2zM597.7 985.7l128.1-104.4 5.1 4.6zM730.9 885.9l-5.1-4.6 133.2-85.5zM730.9 885.9l128.1-90.1 5.1 4.1zM864.1 799.9l-5.1-4.1 133.3-75.8zM864.1 799.9l128.2-79.9 5.1 3.7zM997.4 723.7l-5.1-3.7 133.2-68.7zM997.4 723.7l128.1-72.4 5.1 3.4zM1130.6 654.7l-5.1-3.4 133.2-63.1zM1130.6 654.7l128.1-66.5 5.1 3.1zM1263.8 591.3l-5.1-3.1 133.3-58.5zM1263.8 591.3l128.2-61.6 5.1 3zM592.6 980.5l-5.2-5.9 133.3-98.5zM592.6 980.5l128.1-104.4 5.1 5.2zM725.8 881.3l-5.1-5.2 133.2-84.8zM725.8 881.3l128.1-90 5.1 4.5zM859 795.8l-5.1-4.5 133.3-75.4zM859 795.8l128.2-79.9 5.1 4.1zM992.3 720l-5.1-4.1 133.2-68.3zM992.3 720l128.1-72.4 5.1 3.7zM1125.5 651.3l-5.1-3.7 133.2-62.8zM1125.5 651.3l128.1-66.5 5.1 3.4zM1258.7 588.2l-5.1-3.4 133.2-58.2zM1258.7 588.2l128.1-61.6 5.2 3.1zM587.4 974.6l-5.1-6.7 133.3-97.5zM587.4 974.6l128.2-104.2 5.1 5.7zM720.7 876.1l-5.1-5.7 133.2-84.1zM720.7 876.1l128.1-89.8 5.1 5zM853.9 791.3l-5.1-5 133.2-74.8zM853.9 791.3l128.1-79.8 5.2 4.4zM987.2 715.9l-5.2-4.4 133.3-67.9zM987.2 715.9l128.1-72.3 5.1 4zM1120.4 647.6l-5.1-4 133.2-62.4zM1120.4 647.6l128.1-66.4 5.1 3.6zM1253.6 584.8l-5.1-3.6 133.2-57.8zM1253.6 584.8l128.1-61.4 5.1 3.2zM582.3 967.9l-5.1-7.5 133.3-96.4zM582.3 967.9l128.2-103.9 5.1 6.4zM715.6 870.4l-5.1-6.4 133.2-83.2zM715.6 870.4l128.1-89.6 5.1 5.5zM848.8 786.3l-5.1-5.5 133.2-74.1zM848.8 786.3l128.1-79.6 5.1 4.8zM982 711.5l-5.1-4.8 133.3-67.3zM982 711.5l128.2-72.1 5.1 4.2zM1115.3 643.6l-5.1-4.2 133.2-61.9zM1115.3 643.6l128.1-66.1 5.1 3.7zM1248.5 581.2l-5.1-3.7 133.2-57.5zM1248.5 581.2l128.1-61.2 5.1 3.4zM577.2 960.4l-5.1-8.2 133.3-95.1zM577.2 960.4l128.2-103.3 5.1 6.9zM710.5 864l-5.1-6.9 133.2-82.3zM710.5 864l128.1-89.2 5.1 6zM843.7 780.8l-5.1-6 133.2-73.3zM843.7 780.8l128.1-79.3 5.1 5.2zM976.9 706.7l-5.1-5.2 133.3-66.6zM976.9 706.7l128.2-71.8 5.1 4.5zM1110.2 639.4l-5.1-4.5 133.2-61.4zM1110.2 639.4l128.1-65.9 5.1 4zM1243.4 577.5l-5.1-4 133.2-57.1zM1243.4 577.5l128.1-61.1 5.1 3.6zM572.1 952.2l-5.1-8.9 133.2-93.7zM572.1 952.2l128.1-102.6 5.2 7.5zM705.4 857.1l-5.2-7.5 133.3-81.1zM705.4 857.1l128.1-88.6 5.1 6.3zM838.6 774.8l-5.1-6.3 133.2-72.5zM838.6 774.8l128.1-78.8 5.1 5.5zM971.8 701.5l-5.1-5.5 133.2-65.9zM971.8 701.5l128.1-71.4 5.2 4.8zM1105.1 634.9l-5.2-4.8 133.3-60.8zM1105.1 634.9l128.1-65.6 5.1 4.2zM1238.3 573.5l-5.1-4.2 133.2-56.5zM1238.3 573.5l128.1-60.7 5.1 3.6zM567 943.3l-5.1-9.6 133.2-92.1zM567 943.3l128.1-101.7 5.1 8zM700.2 849.6l-5.1-8 133.3-79.9zM700.2 849.6l128.2-87.9 5.1 6.8zM833.5 768.5l-5.1-6.8 133.2-71.5zM833.5 768.5l128.1-78.3 5.1 5.8zM966.7 696l-5.1-5.8 133.2-65.1zM966.7 696l128.1-70.9 5.1 5zM1099.9 630.1l-5.1-5 133.3-60.1zM1099.9 630.1l128.2-65.1 5.1 4.3zM1233.2 569.3l-5.1-4.3 133.2-56zM1233.2 569.3l128.1-60.3 5.1 3.8zM561.9 933.7l-5.1-10.3 133.2-90.4zM561.9 933.7l128.1-100.7 5.1 8.6zM695.1 841.6l-5.1-8.6 133.3-78.5zM695.1 841.6l128.2-87.1 5.1 7.2zM828.4 761.7l-5.1-7.2 133.2-70.4zM828.4 761.7l128.1-77.6 5.1 6.1zM961.6 690.2l-5.1-6.1 133.2-64.2zM961.6 690.2l128.1-70.3 5.1 5.2zM1094.8 625.1l-5.1-5.2 133.3-59.5zM1094.8 625.1l128.2-64.7 5.1 4.6zM1228.1 565l-5.1-4.6 133.2-55.4zM1228.1 565l128.1-60 5.1 4zM556.8 923.4l-5.1-11 133.2-88.4zM556.8 923.4l128.1-99.4 5.1 9zM690 833l-5.1-9 133.2-77.2zM690 833l128.1-86.2 5.2 7.7zM823.3 754.5l-5.2-7.7 133.3-69.2zM823.3 754.5l128.1-76.9 5.1 6.5zM956.5 684.1l-5.1-6.5 133.2-63.2zM956.5 684.1l128.1-69.7 5.1 5.5zM1089.7 619.9l-5.1-5.5 133.2-58.7zM1089.7 619.9l128.1-64.2 5.2 4.7zM1223 560.4l-5.2-4.7 133.3-54.7zM1223 560.4l128.1-59.4 5.1 4zM551.7 912.4l-5.1-11.6 133.2-86.4zM551.7 912.4l128.1-98 5.1 9.6zM684.9 824l-5.1-9.6 133.2-75.6zM684.9 824l128.1-85.2 5.1 8zM818.1 746.8l-5.1-8 133.3-67.9zM818.1 746.8l128.2-75.9 5.1 6.7zM951.4 677.6l-5.1-6.7 133.2-62.3zM951.4 677.6l128.1-69 5.1 5.8zM1084.6 614.4l-5.1-5.8 133.2-57.7zM1084.6 614.4l128.1-63.5 5.1 4.8zM1217.8 555.7l-5.1-4.8 133.3-54.1zM1217.8 555.7l128.2-58.9 5.1 4.2zM546.6 900.8l-5.1-12.2 133.2-84.3zM546.6 900.8l128.1-96.5 5.1 10.1zM679.8 814.4l-5.1-10.1 133.2-73.8zM679.8 814.4l128.1-83.9 5.1 8.3zM813 738.8l-5.1-8.3 133.3-66.6zM813 738.8l128.2-74.9 5.1 7zM946.3 670.9l-5.1-7 133.2-61.2zM946.3 670.9l128.1-68.2 5.1 5.9zM1079.5 608.6l-5.1-5.9 133.2-56.9zM1079.5 608.6l128.1-62.8 5.1 5.1zM1212.7 550.9l-5.1-5.1 133.3-53.3zM1212.7 550.9l128.2-58.4 5.1 4.3zM541.5 888.6l-5.1-12.8 133.2-82zM541.5 888.6l128.1-94.8 5.1 10.5zM674.7 804.3l-5.1-10.5 133.2-72.1zM674.7 804.3l128.1-82.6 5.1 8.8zM807.9 730.5l-5.1-8.8 133.2-65.2zM807.9 730.5l128.1-74 5.2 7.4zM941.2 663.9l-5.2-7.4 133.3-60zM941.2 663.9l128.1-67.4 5.1 6.2zM1074.4 602.7l-5.1-6.2 133.2-55.9zM1074.4 602.7l128.1-62.1 5.1 5.2zM1207.6 545.8l-5.1-5.2 133.3-52.6zM1207.6 545.8l128.2-57.8 5.1 4.5zM536.4 875.8l-5.2-13.3 133.3-79.6zM536.4 875.8l128.1-92.9 5.1 10.9zM669.6 793.8l-5.1-10.9 133.2-70.3zM669.6 793.8l128.1-81.2 5.1 9.1zM802.8 721.7l-5.1-9.1 133.2-63.6zM802.8 721.7l128.1-72.7 5.1 7.5zM936 656.5l-5.1-7.5 133.3-58.8zM936 656.5l128.2-66.3 5.1 6.3zM1069.3 596.5l-5.1-6.3 133.2-54.9zM1069.3 596.5l128.1-61.2 5.1 5.3zM1202.5 540.6l-5.1-5.3 133.2-51.8zM1202.5 540.6l128.1-57.1 5.2 4.5zM531.2 862.5l-5.1-13.9 133.3-77.1zM531.2 862.5l128.2-91 5.1 11.4zM664.5 782.9l-5.1-11.4 133.2-68.3zM664.5 782.9l128.1-79.7 5.1 9.4zM797.7 712.6l-5.1-9.4 133.2-62.1zM797.7 712.6l128.1-71.5 5.1 7.9zM930.9 649l-5.1-7.9 133.3-57.5zM930.9 649l128.2-65.4 5.1 6.6zM1064.2 590.2l-5.1-6.6 133.2-53.8zM1064.2 590.2l128.1-60.4 5.1 5.5zM1197.4 535.3l-5.1-5.5 133.2-50.9zM1197.4 535.3l128.1-56.4 5.1 4.6zM526.1 848.6l-5.1-14.4 133.3-74.4zM526.1 848.6l128.2-88.8 5.1 11.7zM659.4 771.5l-5.1-11.7 133.2-66.3zM659.4 771.5l128.1-78 5.1 9.7zM792.6 703.2l-5.1-9.7 133.2-60.4zM792.6 703.2l128.1-70.1 5.1 8zM925.8 641.1l-5.1-8 133.3-56.2zM925.8 641.1l128.2-64.2 5.1 6.7zM1059.1 583.6l-5.1-6.7 133.2-52.8zM1059.1 583.6l128.1-59.5 5.1 5.7zM1192.3 529.8l-5.1-5.7 133.2-49.9zM1192.3 529.8l128.1-55.6 5.1 4.7zM521 834.2l-5.1-14.8 133.2-71.7zM521 834.2l128.1-86.5 5.2 12.1zM654.3 759.8l-5.2-12.1 133.3-64.1zM654.3 759.8l128.1-76.2 5.1 9.9zM787.5 693.5l-5.1-9.9 133.2-58.8zM787.5 693.5l128.1-68.7 5.1 8.3zM920.7 633.1l-5.1-8.3 133.2-54.8zM920.7 633.1l128.1-63.1 5.2 6.9zM1054 576.9l-5.2-6.9 133.3-51.6zM1054 576.9l128.1-58.5 5.1 5.7zM1187.2 524.1l-5.1-5.7 133.2-49.1zM1187.2 524.1l128.1-54.8 5.1 4.9zM515.9 819.4l-5.1-15.3 133.2-68.9zM515.9 819.4l128.1-84.2 5.1 12.5zM649.1 747.7l-5.1-12.5 133.3-61.9zM649.1 747.7l128.2-74.4 5.1 10.3zM782.4 683.6l-5.1-10.3 133.2-57zM782.4 683.6l128.1-67.3 5.1 8.5zM915.6 624.8l-5.1-8.5 133.2-53.3zM915.6 624.8l128.1-61.8 5.1 7zM1048.8 570l-5.1-7 133.3-50.5zM1048.8 570l128.2-57.5 5.1 5.9zM1182.1 518.4l-5.1-5.9 133.2-48zM1182.1 518.4l128.1-53.9 5.1 4.8zM510.8 804.1l-5.1-15.6 133.2-66zM510.8 804.1l128.1-81.6 5.1 12.7zM644 735.2l-5.1-12.7 133.3-59.7zM644 735.2l128.2-72.4 5.1 10.5zM777.3 673.3l-5.1-10.5 133.2-55.1zM777.3 673.3l128.1-65.6 5.1 8.6zM910.5 616.3l-5.1-8.6 133.2-51.9zM910.5 616.3l128.1-60.5 5.1 7.2zM1043.7 563l-5.1-7.2 133.3-49.2zM1043.7 563l128.2-56.4 5.1 5.9zM1177 512.5l-5.1-5.9 133.2-47.1zM1177 512.5l128.1-53 5.1 5zM505.7 788.5l-5.1-16.1 133.2-63zM505.7 788.5l128.1-79.1 5.1 13.1zM638.9 722.5l-5.1-13.1 133.2-57.3zM638.9 722.5l128.1-70.4 5.2 10.7zM772.2 662.8l-5.2-10.7 133.3-53.3zM772.2 662.8l128.1-64 5.1 8.9zM905.4 607.7l-5.1-8.9 133.2-50.3zM905.4 607.7l128.1-59.2 5.1 7.3zM1038.6 555.8l-5.1-7.3 133.2-48zM1038.6 555.8l128.1-55.3 5.2 6.1zM1171.9 506.6l-5.2-6.1 133.3-46.1zM1171.9 506.6l128.1-52.2 5.1 5.1zM500.6 772.4l-5.1-16.3 133.2-59.9zM500.6 772.4l128.1-76.2 5.1 13.2zM633.8 709.4l-5.1-13.2 133.2-54.9zM633.8 709.4l128.1-68.1 5.1 10.8zM767 652.1l-5.1-10.8 133.3-51.4zM767 652.1l128.2-62.2 5.1 8.9zM900.3 598.8l-5.1-8.9 133.2-48.8zM900.3 598.8l128.1-57.7 5.1 7.4zM1033.5 548.5l-5.1-7.4 133.2-46.7zM1033.5 548.5l128.1-54.1 5.1 6.1zM1166.7 500.5l-5.1-6.1 133.3-45.1zM1166.7 500.5l128.2-51.2 5.1 5.1zM495.5 756.1l-5.1-16.6 133.2-56.8zM495.5 756.1l128.1-73.4 5.1 13.5zM628.7 696.2l-5.1-13.5 133.2-52.5zM628.7 696.2l128.1-66 5.1 11.1zM761.9 641.3l-5.1-11.1 133.3-49.5zM761.9 641.3l128.2-60.6 5.1 9.2zM895.2 589.9l-5.1-9.2 133.2-47.2zM895.2 589.9l128.1-56.4 5.1 7.6zM1028.4 541.1l-5.1-7.6 133.2-45.4zM1028.4 541.1l128.1-53 5.1 6.3zM1161.6 494.4l-5.1-6.3 133.3-43.9zM1161.6 494.4l128.2-50.2 5.1 5.1zM490.4 739.5l-5.2-16.9 133.3-53.6zM490.4 739.5l128.1-70.5 5.1 13.7zM623.6 682.7l-5.1-13.7 133.2-50zM623.6 682.7l128.1-63.7 5.1 11.2zM756.8 630.2l-5.1-11.2 133.3-47.5zM756.8 630.2l128.2-58.7 5.1 9.2zM890.1 580.7l-5.1-9.2 133.2-45.6zM890.1 580.7l128.1-54.8 5.1 7.6zM1023.3 533.5l-5.1-7.6 133.2-44.1zM1023.3 533.5l128.1-51.7 5.1 6.3zM1156.5 488.1l-5.1-6.3 133.2-42.8zM1156.5 488.1l128.1-49.1 5.2 5.2zM485.2 722.6l-5.1-17.1 133.3-50.4zM485.2 722.6l128.2-67.5 5.1 13.9zM618.5 669l-5.1-13.9 133.2-47.5zM618.5 669l128.1-61.4 5.1 11.4zM751.7 619l-5.1-11.4 133.2-45.4zM751.7 619l128.1-56.8 5.2 9.3zM885 571.5l-5.2-9.3 133.3-44zM885 571.5l128.1-53.3 5.1 7.7zM1018.2 525.9l-5.1-7.7 133.2-42.7zM1018.2 525.9l128.1-50.4 5.1 6.3zM1151.4 481.8l-5.1-6.3 133.2-41.8zM1151.4 481.8l128.1-48.1 5.1 5.3zM480.1 705.5l-5.1-17.2 133.3-47.1zM480.1 705.5l128.2-64.3 5.1 13.9zM613.4 655.1l-5.1-13.9 133.2-45zM613.4 655.1l128.1-58.9 5.1 11.4zM746.6 607.6l-5.1-11.4 133.2-43.4zM746.6 607.6l128.1-54.8 5.1 9.4zM879.8 562.2l-5.1-9.4 133.3-42.3zM879.8 562.2l128.2-51.7 5.1 7.7zM1013.1 518.2l-5.1-7.7 133.2-41.4zM1013.1 518.2l128.1-49.1 5.1 6.4zM1146.3 475.5l-5.1-6.4 133.2-40.6zM1146.3 475.5l128.1-47 5.1 5.2zM475 688.3l-5.1-17.4 133.3-43.8zM475 688.3l128.2-61.2 5.1 14.1zM608.3 641.2l-5.1-14.1 133.2-42.4zM608.3 641.2l128.1-56.5 5.1 11.5zM741.5 596.2l-5.1-11.5 133.2-41.4zM741.5 596.2l128.1-52.9 5.1 9.5zM874.7 552.8l-5.1-9.5 133.3-40.6zM874.7 552.8l128.2-50.1 5.1 7.8zM1008 510.5l-5.1-7.8 133.2-40zM1008 510.5l128.1-47.8 5.1 6.4zM1141.2 469.1l-5.1-6.4 133.2-39.5zM1141.2 469.1l128.1-45.9 5.1 5.3zM469.9 670.9l-5.1-17.4 133.2-40.6zM469.9 670.9l128.1-58 5.2 14.2zM603.2 627.1l-5.2-14.2 133.3-39.8zM603.2 627.1l128.1-54 5.1 11.6zM736.4 584.7l-5.1-11.6 133.2-39.3zM736.4 584.7l128.1-50.9 5.1 9.5zM869.6 543.3l-5.1-9.5 133.2-38.9zM869.6 543.3l128.1-48.4 5.2 7.8zM1002.9 502.7l-5.2-7.8 133.3-38.7zM1002.9 502.7l128.1-46.5 5.1 6.5zM1136.1 462.7l-5.1-6.5 133.2-38.4zM1136.1 462.7l128.1-44.9 5.1 5.4zM464.8 653.5l-5.1-17.5 133.2-37.2zM464.8 653.5l128.1-54.7 5.1 14.1zM598 612.9l-5.1-14.1 133.3-37.3zM598 612.9l128.2-51.4 5.1 11.6zM731.3 573.1l-5.1-11.6 133.2-37.2zM731.3 573.1l128.1-48.8 5.1 9.5zM864.5 533.8l-5.1-9.5 133.2-37.3zM864.5 533.8l128.1-46.8 5.1 7.9zM997.7 494.9l-5.1-7.9 133.3-37.2zM997.7 494.9l128.2-45.1 5.1 6.4zM1131 456.2l-5.1-6.4 133.2-37.3zM1131 456.2l128.1-43.7 5.1 5.3zM459.7 636l-5.1-17.5 133.2-33.9zM459.7 636l128.1-51.4 5.1 14.2zM592.9 598.8l-5.1-14.2 133.3-34.7zM592.9 598.8l128.2-48.9 5.1 11.6zM726.2 561.5l-5.1-11.6 133.2-35.1zM726.2 561.5l128.1-46.7 5.1 9.5zM859.4 524.3l-5.1-9.5 133.2-35.6zM859.4 524.3l128.1-45.1 5.1 7.8zM992.6 487l-5.1-7.8 133.3-35.9zM992.6 487l128.2-43.7 5.1 6.5zM1125.9 449.8l-5.1-6.5 133.2-36.1zM1125.9 449.8l128.1-42.6 5.1 5.3zM454.6 618.5l-5.1-17.4 133.2-30.6zM454.6 618.5l128.1-48 5.1 14.1zM587.8 584.6l-5.1-14.1 133.2-32.1zM587.8 584.6l128.1-46.2 5.2 11.5zM721.1 549.9l-5.2-11.5 133.3-33.2zM721.1 549.9l128.1-44.7 5.1 9.6zM854.3 514.8l-5.1-9.6 133.2-33.8zM854.3 514.8l128.1-43.4 5.1 7.8zM987.5 479.2l-5.1-7.8 133.2-34.5zM987.5 479.2l128.1-42.3 5.2 6.4zM1120.8 443.3l-5.2-6.4 133.3-35zM1120.8 443.3l128.1-41.4 5.1 5.3zM449.5 601.1l-5.1-17.4 133.2-27.3zM449.5 601.1l128.1-44.7 5.1 14.1zM582.7 570.5l-5.1-14.1 133.2-29.5zM582.7 570.5l128.1-43.6 5.1 11.5zM715.9 538.4l-5.1-11.5 133.3-31.1zM715.9 538.4l128.2-42.6 5.1 9.4zM849.2 505.2l-5.1-9.4 133.2-32.2zM849.2 505.2l128.1-41.6 5.1 7.8zM982.4 471.4l-5.1-7.8 133.2-33.1zM982.4 471.4l128.1-40.9 5.1 6.4zM1115.6 436.9l-5.1-6.4 133.3-33.9zM1115.6 436.9l128.2-40.3 5.1 5.3zM444.4 583.7l-5.1-17.2 133.2-24.1zM444.4 583.7l128.1-41.3 5.1 14zM577.6 556.4l-5.1-14 133.2-27zM577.6 556.4l128.1-41 5.1 11.5zM710.8 526.9l-5.1-11.5 133.3-29zM710.8 526.9l128.2-40.5 5.1 9.4zM844.1 495.8l-5.1-9.4 133.2-30.6zM844.1 495.8l128.1-40 5.1 7.8zM977.3 463.6l-5.1-7.8 133.2-31.7zM977.3 463.6l128.1-39.5 5.1 6.4zM1110.5 430.5l-5.1-6.4 133.3-32.8zM1110.5 430.5l128.2-39.2 5.1 5.3zM439.3 566.5l-5.1-17.1 133.2-20.8zM439.3 566.5l128.1-37.9 5.1 13.8zM572.5 542.4l-5.1-13.8 133.2-24.5zM572.5 542.4l128.1-38.3 5.1 11.3zM705.7 515.4l-5.1-11.3 133.2-27.1zM705.7 515.4l128.1-38.4 5.2 9.4zM839 486.4l-5.2-9.4 133.3-28.9zM839 486.4l128.1-38.3 5.1 7.7zM972.2 455.8l-5.1-7.7 133.2-30.4zM972.2 455.8l128.1-38.1 5.1 6.4zM1105.4 424.1l-5.1-6.4 133.3-31.6zM1105.4 424.1l128.2-38 5.1 5.2zM434.2 549.4l-5.2-16.8 133.3-17.7zM434.2 549.4l128.1-34.5 5.1 13.7zM567.4 528.6l-5.1-13.7 133.2-22zM567.4 528.6l128.1-35.7 5.1 11.2zM700.6 504.1l-5.1-11.2 133.2-25.1zM700.6 504.1l128.1-36.3 5.1 9.2zM833.8 477l-5.1-9.2 133.3-27.3zM833.8 477l128.2-36.5 5.1 7.6zM967.1 448.1l-5.1-7.6 133.2-29.1zM967.1 448.1l128.1-36.7 5.1 6.3zM1100.3 417.7l-5.1-6.3 133.2-30.5zM1100.3 417.7l128.1-36.8 5.2 5.2zM429 532.6l-5.1-16.7 133.3-14.5zM429 532.6l128.2-31.2 5.1 13.5zM562.3 514.9l-5.1-13.5 133.2-19.6zM562.3 514.9l128.1-33.1 5.1 11.1zM695.5 492.9l-5.1-11.1 133.2-23.1zM695.5 492.9l128.1-34.2 5.1 9.1zM828.7 467.8l-5.1-9.1 133.3-25.7zM828.7 467.8l128.2-34.8 5.1 7.5zM962 440.5l-5.1-7.5 133.2-27.8zM962 440.5l128.1-35.3 5.1 6.2zM1095.2 411.4l-5.1-6.2 133.2-29.5zM1095.2 411.4l128.1-35.7 5.1 5.2zM423.9 515.9l-5.1-16.3 133.3-11.5zM423.9 515.9l128.2-27.8 5.1 13.3zM557.2 501.4l-5.1-13.3 133.2-17.2zM557.2 501.4l128.1-30.5 5.1 10.9zM690.4 481.8l-5.1-10.9 133.2-21.2zM690.4 481.8l128.1-32.1 5.1 9zM823.6 458.7l-5.1-9 133.3-24.1zM823.6 458.7l128.2-33.1 5.1 7.4zM956.9 433l-5.1-7.4 133.2-26.6zM956.9 433l128.1-34 5.1 6.2zM1090.1 405.2l-5.1-6.2 133.2-28.4zM1090.1 405.2l128.1-34.6 5.1 5.1zM418.8 499.6l-5.1-16 133.2-8.5zM418.8 499.6l128.1-24.5 5.2 13zM552.1 488.1l-5.2-13 133.3-14.9zM552.1 488.1l128.1-27.9 5.1 10.7zM685.3 470.9l-5.1-10.7 133.2-19.3zM685.3 470.9l128.1-30 5.1 8.8zM818.5 449.7l-5.1-8.8 133.2-22.7zM818.5 449.7l128.1-31.5 5.2 7.4zM951.8 425.6l-5.2-7.4 133.3-25.2zM951.8 425.6l128.1-32.6 5.1 6zM1085 399l-5.1-6 133.2-27.4zM1085 399l128.1-33.4 5.1 5zM413.7 483.6l-5.1-15.7 133.2-5.6zM413.7 483.6l128.1-21.3 5.1 12.8zM546.9 475.1l-5.1-12.8 133.3-12.6zM546.9 475.1l128.2-25.4 5.1 10.5zM680.2 460.2l-5.1-10.5 133.2-17.5zM680.2 460.2l128.1-28 5.1 8.7zM813.4 440.9l-5.1-8.7 133.2-21.1zM813.4 440.9l128.1-29.8 5.1 7.1zM946.6 418.2l-5.1-7.1 133.3-24.1zM946.6 418.2l128.2-31.2 5.1 6zM1079.9 393l-5.1-6 133.2-26.4zM1079.9 393l128.1-32.4 5.1 5zM408.6 467.9l-5.1-15.2 133.2-2.8zM408.6 467.9l128.1-18 5.1 12.4zM541.8 462.3l-5.1-12.4 133.3-10.4zM541.8 462.3l128.2-22.8 5.1 10.2zM675.1 449.7l-5.1-10.2 133.2-15.8zM675.1 449.7l128.1-26 5.1 8.5zM808.3 432.2l-5.1-8.5 133.2-19.7zM808.3 432.2l128.1-28.2 5.1 7.1zM941.5 411.1l-5.1-7.1 133.3-22.8zM941.5 411.1l128.2-29.9 5.1 5.8zM1074.8 387l-5.1-5.8 133.2-25.5zM1074.8 387l128.1-31.3 5.1 4.9zM403.5 452.7l-5.1-14.9 133.2 0zM403.5 452.7l128.1-14.9 5.1 12.1zM536.7 449.9l-5.1-12.1 133.2-8.3zM536.7 449.9l128.1-20.4 5.2 10zM670 439.5l-5.2-10 133.3-14zM670 439.5l128.1-24 5.1 8.2zM803.2 423.7l-5.1-8.2 133.2-18.4zM803.2 423.7l128.1-26.6 5.1 6.9zM936.4 404l-5.1-6.9 133.2-21.7zM936.4 404l128.1-28.6 5.2 5.8zM1069.7 381.2l-5.2-5.8 133.3-24.5zM1069.7 381.2l128.1-30.3 5.1 4.8zM398.4 437.8l-5.1-14.4 133.2 2.6zM398.4 437.8l128.1-11.8 5.1 11.8zM531.6 437.8l-5.1-11.8 133.2-6.2zM531.6 437.8l128.1-18 5.1 9.7zM664.8 429.5l-5.1-9.7 133.3-12.4zM664.8 429.5l128.2-22.1 5.1 8.1zM798.1 415.5l-5.1-8.1 133.2-17zM798.1 415.5l128.1-25.1 5.1 6.7zM931.3 397.1l-5.1-6.7 133.2-20.6zM931.3 397.1l128.1-27.3 5.1 5.6zM1064.5 375.4l-5.1-5.6 133.3-23.6zM1064.5 375.4l128.2-29.2 5.1 4.7zM393.3 423.4l-5.1-13.8 133.2 5.1zM393.3 423.4l128.1-8.7 5.1 11.3zM526.5 426l-5.1-11.3 133.2-4.3zM526.5 426l128.1-15.6 5.1 9.4zM659.7 419.8l-5.1-9.4 133.3-10.8zM659.7 419.8l128.2-20.2 5.1 7.8zM793 407.4l-5.1-7.8 133.2-15.7zM793 407.4l128.1-23.5 5.1 6.5zM926.2 390.4l-5.1-6.5 133.2-19.6zM926.2 390.4l128.1-26.1 5.1 5.5zM1059.4 369.8l-5.1-5.5 133.3-22.8zM1059.4 369.8l128.2-28.3 5.1 4.7zM388.2 409.6l-5.1-13.4 133.2 7.5zM388.2 409.6l128.1-5.9 5.1 11zM521.4 414.7l-5.1-11 133.2-2.4zM521.4 414.7l128.1-13.4 5.1 9.1zM654.6 410.4l-5.1-9.1 133.3-9.3zM654.6 410.4l128.2-18.4 5.1 7.6zM787.9 399.6l-5.1-7.6 133.2-14.5zM787.9 399.6l128.1-22.1 5.1 6.4zM921.1 383.9l-5.1-6.4 133.2-18.6zM921.1 383.9l128.1-25 5.1 5.4zM1054.3 364.3l-5.1-5.4 133.2-21.9zM1054.3 364.3l128.1-27.3 5.2 4.5zM383.1 396.2l-5.2-12.8 133.3 9.8zM383.1 396.2l128.1-3 5.1 10.5zM516.3 403.7l-5.1-10.5 133.2-.6zM516.3 403.7l128.1-11.1 5.1 8.7zM649.5 401.3l-5.1-8.7 133.2-7.9zM649.5 401.3l128.1-16.6 5.2 7.3zM782.8 392l-5.2-7.3 133.3-13.3zM782.8 392l128.1-20.6 5.1 6.1zM916 377.5l-5.1-6.1 133.2-17.7zM916 377.5l128.1-23.8 5.1 5.2zM1049.2 358.9l-5.1-5.2 133.2-21.1zM1049.2 358.9l128.1-26.3 5.1 4.4zM377.9 383.4l-5.1-12.2 133.3 12zM377.9 383.4l128.2-.2 5.1 10zM511.2 393.2l-5.1-10 133.2 1zM511.2 393.2l128.1-9 5.1 8.4zM644.4 392.6l-5.1-8.4 133.2-6.5zM644.4 392.6l128.1-14.9 5.1 7zM777.6 384.7l-5.1-7 133.3-12.3zM777.6 384.7l128.2-19.3 5.1 6zM910.9 371.4l-5.1-6 133.2-16.7zM910.9 371.4l128.1-22.7 5.1 5zM1044.1 353.7l-5.1-5 133.2-20.4zM1044.1 353.7l128.1-25.4 5.1 4.3zM372.8 371.2l-5.1-11.6 133.3 14zM372.8 371.2l128.2 2.4 5.1 9.6zM506.1 383.2l-5.1-9.6 133.2 2.6zM506.1 383.2l128.1-7 5.1 8zM639.3 384.2l-5.1-8 133.2-5.3zM639.3 384.2l128.1-13.3 5.1 6.8zM772.5 377.7l-5.1-6.8 133.3-11.2zM772.5 377.7l128.2-18 5.1 5.7zM905.8 365.4l-5.1-5.7 133.2-15.9zM905.8 365.4l128.1-21.6 5.1 4.9zM1039 348.7l-5.1-4.9 133.2-19.7zM1039 348.7l128.1-24.6 5.1 4.2zM367.7 359.6l-5.1-10.9 133.2 15.8zM367.7 359.6l128.1 4.9 5.2 9.1zM501 373.6l-5.2-9.1 133.3 4.1zM501 373.6l128.1-5 5.1 7.6zM634.2 376.2l-5.1-7.6 133.2-4.1zM634.2 376.2l128.1-11.7 5.1 6.4zM767.4 370.9l-5.1-6.4 133.2-10.3zM767.4 370.9l128.1-16.7 5.2 5.5zM900.7 359.7l-5.2-5.5 133.3-15.1zM900.7 359.7l128.1-20.6 5.1 4.7zM1033.9 343.8l-5.1-4.7 133.2-19.1zM1033.9 343.8l128.1-23.8 5.1 4.1zM362.6 348.7l-5.1-10.3 133.2 17.6zM362.6 348.7l128.1 7.3 5.1 8.5zM495.8 364.5l-5.1-8.5 133.3 5.4zM495.8 364.5l128.2-3.1 5.1 7.2zM629.1 368.6l-5.1-7.2 133.2-3.1zM629.1 368.6l128.1-10.3 5.1 6.2zM762.3 364.5l-5.1-6.2 133.2-9.4zM762.3 364.5l128.1-15.6 5.1 5.3zM895.5 354.2l-5.1-5.3 133.3-14.3zM895.5 354.2l128.2-19.6 5.1 4.5zM1028.8 339.1l-5.1-4.5 133.2-18.5zM1028.8 339.1l128.1-23 5.1 3.9zM357.5 338.4l-5.1-9.7 133.2 19.2zM357.5 338.4l128.1 9.5 5.1 8.1zM490.7 356l-5.1-8.1 133.3 6.7zM490.7 356l128.2-1.4 5.1 6.8zM624 361.4l-5.1-6.8 133.2-2.1zM624 361.4l128.1-8.9 5.1 5.8zM757.2 358.3l-5.1-5.8 133.2-8.6zM757.2 358.3l128.1-14.4 5.1 5zM890.4 348.9l-5.1-5 133.3-13.7zM890.4 348.9l128.2-18.7 5.1 4.4zM1023.7 334.6l-5.1-4.4 133.2-17.9zM1023.7 334.6l128.1-22.3 5.1 3.8zM352.4 328.7l-5.1-8.9 133.2 20.6zM352.4 328.7l128.1 11.7 5.1 7.5zM485.6 347.9l-5.1-7.5 133.2 7.8zM485.6 347.9l128.1 .3 5.2 6.4zM618.9 354.6l-5.2-6.4 133.3-1.2zM618.9 354.6l128.1-7.6 5.1 5.5zM752.1 352.5l-5.1-5.5 133.2-7.8zM752.1 352.5l128.1-13.3 5.1 4.7zM885.3 343.9l-5.1-4.7 133.2-13.1zM885.3 343.9l128.1-17.8 5.2 4.1zM1018.6 330.2l-5.2-4.1 133.3-17.5zM1018.6 330.2l128.1-21.6 5.1 3.7zM347.3 319.8l-5.1-8.1 133.2 21.8zM347.3 319.8l128.1 13.7 5.1 6.9zM480.5 340.4l-5.1-6.9 133.2 8.8zM480.5 340.4l128.1 1.9 5.1 5.9zM613.7 348.2l-5.1-5.9 133.3-.4zM613.7 348.2l128.2-6.3 5.1 5.1zM747 347l-5.1-5.1 133.2-7.2zM747 347l128.1-12.3 5.1 4.5zM880.2 339.2l-5.1-4.5 133.2-12.6zM880.2 339.2l128.1-17.1 5.1 4zM1013.4 326.1l-5.1-4 133.3-17zM1013.4 326.1l128.2-21 5.1 3.5zM342.2 311.7l-5.1-7.5 133.2 23zM342.2 311.7l128.1 15.5 5.1 6.3zM475.4 333.5l-5.1-6.3 133.2 9.6zM475.4 333.5l128.1 3.3 5.1 5.5zM608.6 342.3l-5.1-5.5 133.3 .3zM608.6 342.3l128.2-5.2 5.1 4.8zM741.9 341.9l-5.1-4.8 133.2-6.7zM741.9 341.9l128.1-11.5 5.1 4.3zM875.1 334.7l-5.1-4.3 133.2-12.1zM875.1 334.7l128.1-16.4 5.1 3.8zM1008.3 322.1l-5.1-3.8 133.3-16.6zM1008.3 322.1l128.2-20.4 5.1 3.4zM337.1 304.2l-5.2-6.7 133.3 23.9zM337.1 304.2l128.1 17.2 5.1 5.8zM470.3 327.2l-5.1-5.8 133.2 10.4zM470.3 327.2l128.1 4.6 5.1 5zM603.5 336.8l-5.1-5 133.2 .9zM603.5 336.8l128.1-4.1 5.2 4.4zM736.8 337.1l-5.2-4.4 133.3-6.2zM736.8 337.1l128.1-10.6 5.1 3.9zM870 330.4l-5.1-3.9 133.2-11.7zM870 330.4l128.1-15.6 5.1 3.5zM1003.2 318.3l-5.1-3.5 133.3-16.4zM1003.2 318.3l128.2-19.9 5.1 3.3zM331.9 297.5l-5.1-5.9 133.3 24.6zM331.9 297.5l128.2 18.7 5.1 5.2zM465.2 321.4l-5.1-5.2 133.2 11zM465.2 321.4l128.1 5.8 5.1 4.6zM598.4 331.8l-5.1-4.6 133.2 1.4zM598.4 331.8l128.1-3.2 5.1 4.1zM731.6 332.7l-5.1-4.1 133.3-5.8zM731.6 332.7l128.2-9.9 5.1 3.7zM864.9 326.5l-5.1-3.7 133.2-11.4zM864.9 326.5l128.1-15.1 5.1 3.4zM998.1 314.8l-5.1-3.4 133.2-16.1zM998.1 314.8l128.1-19.5 5.2 3.1zM326.8 291.6l-5.1-5.2 133.3 25.3zM326.8 291.6l128.2 20.1 5.1 4.5zM460.1 316.2l-5.1-4.5 133.2 11.4zM460.1 316.2l128.1 6.9 5.1 4.1zM593.3 327.2l-5.1-4.1 133.2 1.8zM593.3 327.2l128.1-2.3 5.1 3.7zM726.5 328.6l-5.1-3.7 133.3-5.5zM726.5 328.6l128.2-9.2 5.1 3.4zM859.8 322.8l-5.1-3.4 133.2-11.2zM859.8 322.8l128.1-14.6 5.1 3.2zM993 311.4l-5.1-3.2 133.2-15.8zM993 311.4l128.1-19 5.1 2.9zM321.7 286.4l-5.1-4.4 133.3 25.7zM321.7 286.4l128.2 21.3 5.1 4zM455 311.7l-5.1-4 133.2 11.8zM455 311.7l128.1 7.8 5.1 3.6zM588.2 323.1l-5.1-3.6 133.2 2zM588.2 323.1l128.1-1.6 5.1 3.4zM721.4 324.9l-5.1-3.4 133.3-5.2zM721.4 324.9l128.2-8.6 5.1 3.1zM854.7 319.4l-5.1-3.1 133.2-11zM854.7 319.4l128.1-14.1 5.1 2.9zM987.9 308.2l-5.1-2.9 133.2-15.7zM987.9 308.2l128.1-18.6 5.1 2.8zM316.6 282l-5.1-3.6 133.2 26zM316.6 282l128.1 22.4 5.2 3.3zM449.9 307.7l-5.2-3.3 133.3 11.9zM449.9 307.7l128.1 8.6 5.1 3.2zM583.1 319.5l-5.1-3.2 133.2 2.2zM583.1 319.5l128.1-1 5.1 3zM716.3 321.5l-5.1-3 133.2-5.1zM716.3 321.5l128.1-8.1 5.2 2.9zM849.6 316.3l-5.2-2.9 133.3-10.9zM849.6 316.3l128.1-13.8 5.1 2.8zM982.8 305.3l-5.1-2.8 133.2-15.6zM982.8 305.3l128.1-18.4 5.1 2.7zM311.5 278.4l-5.1-2.8 133.2 26zM311.5 278.4l128.1 23.2 5.1 2.8zM444.7 304.4l-5.1-2.8 133.3 12.1zM444.7 304.4l128.2 9.3 5.1 2.6zM578 316.3l-5.1-2.6 133.2 2.2zM578 316.3l128.1-.4 5.1 2.6zM711.2 318.5l-5.1-2.6 133.2-5.1zM711.2 318.5l128.1-7.7 5.1 2.6zM844.4 313.4l-5.1-2.6 133.3-10.8zM844.4 313.4l128.2-13.4 5.1 2.5zM977.7 302.5l-5.1-2.5 133.2-15.6zM977.7 302.5l128.1-18.1 5.1 2.5z" fill="#fff" stroke="#fff" stroke-width="1" stroke-linejoin="round"/>
<g fill="none" stroke-width="2.7" stroke-linecap="butt" stroke-linejoin="round" shape-rendering="crispEdges">
<path stroke="url(#i30)" d="M613 996.5l-5.1-2.8-5.1-3.6-5.9-5.2-6-6.2-5.9-7.3-6.8-9.6-6.8-10.8-7.7-13.8-7.6-15.3-8.5-18.7-9.3-22.5-10.2-26.8-11.1-31.2-12.7-38.6-15.3-49.1-22.1-74.3-31.4-106.8-16.1-52.6-13.6-41.9-11.1-31.9-10.2-27.5-9.3-23.2-8.5-19.4-8.5-17.7-7.6-14.2-6.8-11.4-6.8-10-6-7.7-5.9-6.7-6-5.6-5.1-4-5.1-3.2-2.5-1.3"/>
<path stroke="url(#i31)" d="M639.6 974.9l-5-2.7-5.1-3.6-6-5-5.9-6.1-6-7.1-6.8-9.2-6.8-10.5-7.6-13.2-7.7-14.8-8.4-18-9.4-21.6-10.2-25.7-11-30-12.8-37-15.3-47-22-71.2-31.5-102.3-16.1-50.4-13.6-40.1-11.9-32.9-10.2-26.2-9.3-22.2-8.5-18.5-8.5-16.8-7.6-13.5-6.8-10.8-6.8-9.6-6-7.3-5.9-6.4-6-5.3-5.1-3.8-5.1-3-1.7-.9"/>
<path stroke="url(#i32)" d="M666.3 954.2l-5.1-2.8-5.9-4.1-6-5.1-5.9-6.1-6.8-8-6.8-9.3-7.7-11.8-7.6-13.2-8.5-16.4-9.3-19.8-9.4-21.6-11-27.7-11.9-32-13.6-38.9-17.8-53.9-44.2-137.8-16.1-48.3-13.6-38.5-11.9-31.6-10.2-25.1-9.4-21.3-8.5-17.8-8.4-16.2-7.7-13.1-7.6-11.6-6.8-9.1-6.8-7.9-6-5.9-5.9-5-6-4-4.2-2.2"/>
<path stroke="url(#i33)" d="M692.9 934.1l-5.9-3.3-6-4.2-5.9-5.1-5.9-6-6.8-7.9-6.8-9.1-7.7-11.6-7.6-12.9-8.5-15.9-9.4-19.3-10.1-22.9-11.1-26.9-11.9-31-14.4-40.1-18.7-54.5-40.8-122-16.1-46.4-13.6-36.9-11.9-30.3-10.2-24.2-9.3-20.5-8.5-17.1-8.5-15.6-7.6-12.6-7.7-11.3-6.8-8.8-6.8-7.7-5.9-5.7-6-4.9-5.9-3.9-4.3-2.3"/>
<path stroke="url(#i34)" d="M711.1 909.8l-6-4.6-6-5.3-6.8-7.3-6.8-8.3-7.7-10.6-7.6-12-8.5-14.8-9.4-18-9.4-19.6-10.2-23.2-11.9-29.1-13.6-35.5-17.1-46.9-49.4-141.5-16.1-44.5-13.7-35.3-11.9-29-10.2-23-9.4-19.5-8.5-16.3-8.5-14.8-7.7-11.9-7.6-10.7-6.9-8.3-6.8-7.2-5.9-5.4-6-4.5-6-3.7-2.5-1.3"/>
<path stroke="url(#i35)" d="M725 880.6l-6.7-7.1-6.8-8.2-7.7-10.4-7.6-11.6-8.5-14.4-9.4-17.4-10.2-20.7-11-24.5-11.9-28.2-13.6-34.4-17.8-47.5-45.9-126.2-16.1-42.6-13.6-34-11.9-27.9-10.2-22.2-9.4-18.8-9.3-17.3-8.5-14.2-7.6-11.5-7.7-10.3-6.8-8-6.8-7-5.9-5.3-6-4.4-5.9-3.6-2.6-1.3"/>
<path stroke="url(#i36)" d="M738.9 848.7l-7.7-10-7.6-11.1-8.5-13.7-9.4-16.7-10.1-19.8-11.1-23.4-11.9-27-13.6-32.9-16.9-43.3-47.6-125.6-16.1-41-13.6-32.6-11.9-26.8-11-23-9.4-18-9.3-16.5-8.5-13.6-7.7-11-7.6-9.8-6.8-7.7-6.8-6.7-6.8-5.6-5.9-4.2-6-3.3-.8-.4"/>
<path stroke="url(#i37)" d="M752.8 814.8l-8.5-12.8-9.4-15.7-9.3-17.1-11-21.9-11.9-25.5-13.6-31.1-16.1-39.2-53.5-135.4-16.2-39.1-13.6-31.1-11.9-25.5-11-22-9.3-17.1-9.4-15.6-8.5-12.8-7.6-10.4-7.7-9.3-6.7-7.2-6.8-6.3-6.8-5.3-6-3.9-5.1-2.6"/>
<path stroke="url(#i38)" d="M767.1 780.2l-9.4-15.7-10.2-18.7-11.1-21.9-12.7-27.1-14.5-32.7-18.7-44.5-42.5-103.8-17-39.8-13.6-30.1-11.9-24.7-11.1-21.3-10.2-18.1-9.3-15.1-8.6-12.5-7.6-10.1-7.7-9-7.6-7.8-6.8-6.1-6.8-5.1-6.8-4.1-3.4-1.8"/>
<path stroke="url(#i39)" d="M781.3 744.7l-11-20-11.9-23.3-13.6-28.5-16.1-35.8-23.8-55.3-30.5-71.6-17-38.2-13.6-28.9-11.9-23.7-11-20.5-10.2-17.4-9.3-14.5-8.5-12-8.5-10.8-7.6-8.6-7.7-7.5-6.8-5.8-6.7-4.9-6.8-4-2.6-1.2"/>
<path stroke="url(#i40)" d="M796.1 709.8l-11.9-22.6-13.5-27.5-16.2-34.5-25.4-57.1-28.9-64.9-17-36.6-13.6-27.7-11.8-22.8-11.1-19.6-10.2-16.7-9.3-13.9-8.5-11.5-8.5-10.3-7.6-8.3-7.7-7.2-6.8-5.5-6.7-4.7-6.8-3.9-1.7-.8"/>
<path stroke="url(#i41)" d="M811.1 675.5l-13.6-26.5-17-35.1-26.3-56.8-28-60.6-17-35.2-13.6-26.6-11.9-21.8-11.1-18.8-10.2-16-9.3-13.4-8.5-11.1-8.5-9.9-7.7-7.9-7.6-7-7.7-5.9-6.8-4.5-6.8-3.6"/>
<path stroke="url(#i42)" d="M827 643.3l-16.1-31.7-23-47.3-34.1-70.9-17-34-14.5-27.3-11.9-21.1-11-18.2-10.3-15.5-9.3-13-9.4-11.7-8.5-9.6-7.7-7.6-7.6-6.7-7.7-5.7-6.8-4.3-5.9-3.1"/>
<path stroke="url(#i43)" d="M843.7 613.5l-19.5-38-43.3-86.7-17.8-34.2-14.4-26.2-12.7-21.6-11.1-17.3-10.2-14.8-9.3-12.4-9.3-11.2-8.5-9.1-8.5-8.1-7.6-6.3-7.7-5.4-7.6-4.5-3.4-1.7"/>
<path stroke="url(#i44)" d="M862 587.8l-25.4-48.7-30.6-58.8-17-31.3-14.4-25.1-12.8-20.8-11-16.6-10.2-14.2-9.3-12-9.4-10.7-8.5-8.8-8.5-7.8-7.6-6-7.7-5.3-7.6-4.3-2.5-1.3"/>
<path stroke="url(#i45)" d="M883.6 569l-51-94.2-17.8-31.5-14.4-24.2-12.8-19.9-11-16-10.2-13.6-10.2-12.4-9.3-10.3-8.5-8.3-8.5-7.4-7.7-5.8-7.6-4.9-7.7-4.2-.8-.4"/>
<path stroke="url(#i46)" d="M912.5 563.9l-54.2-96.4-17.9-30.3-14.4-23.1-12.7-19-11-15.4-11-14.1-10.2-11.8-9.3-9.7-8.5-7.9-8.5-7-8.5-6.1-7.6-4.6-6-3.1"/>
<path stroke="url(#i47)" d="M950.2 572.9l-20.3-34-43.3-74.1-17.8-29.3-14.4-22.4-12.7-18.6-11.9-16.1-11-13.7-10.2-11.5-9.3-9.6-9.4-8.5-8.5-6.9-8.4-5.9-8.5-5.1-5.1-2.5"/>
<path stroke="url(#i48)" d="M988.1 580.4l-17-26.4-24.6-40.2-34-55.9-17.8-28.2-14.4-21.5-12.8-17.9-11.8-15.5-11.1-13.2-10.2-11.1-9.3-9.2-9.3-8.3-8.5-6.6-8.5-5.7-8.5-4.9-4.3-2.2"/>
<path stroke="url(#i49)" d="M1026.3 586.5l-15.3-22-18.7-28.4-54.5-86.1-17.9-27.1-14.4-20.7-12.8-17.1-11.9-14.9-11.1-12.6-10.2-10.7-10.2-9.6-9.4-7.8-9.3-6.8-8.6-5.4-8.5-4.5-.8-.4"/>
<path stroke="url(#i50)" d="M1065.1 591.4l-13.6-17.7-15.2-21.3-19.6-28.7-51.7-78.8-18.7-27.2-15.3-21-13.6-17.4-11.9-14.1-11-12.1-10.2-10.1-10.2-9.1-9.3-7.5-9.3-6.5-8.5-5.1-7.7-4"/>
<path stroke="url(#i51)" d="M1104.6 595.1l-12.7-14.9-13.6-17-16.1-21.7-19.6-27.7-50.9-74.6-18.7-26.2-15.3-20.3-13.6-16.8-11.9-13.7-11-11.7-11.1-10.6-10.1-8.8-9.4-7.2-9.3-6.4-9.4-5.4-5.9-3"/>
<path stroke="url(#i52)" d="M1145.2 597.7l-11.9-12.1-12.8-14.2-13.6-16.3-15.3-19.6-19.5-26.6-54.5-76.6-18.7-25.2-15.3-19.5-13.6-16.2-12.7-14.1-11.9-12-11.1-10.1-10.2-8.4-10.2-7.4-9.4-5.9-9.3-5.1-2.6-1.3"/>
<path stroke="url(#i53)" d="M1187.2 599.3l-11.1-9.6-11.9-11.4-12.7-13.3-13.7-15.4-15.3-18.6-18.7-24.1-28.9-39-31.5-42.6-18.7-24.3-15.3-18.7-13.6-15.6-12.7-13.6-11.9-11.5-11.1-9.8-10.2-8.1-10.2-7.2-9.4-5.7-9.3-5-1.7-.8"/>
<path stroke="url(#i54)" d="M1231.1 599.8l-10.2-7.2-11.1-8.7-11-9.6-11.9-11.4-12.8-13.3-14.5-16.2-16.2-19.3-20.4-25.8-52.8-68.8-19.6-24.4-16.1-19.1-13.7-14.9-12.7-13-11.9-11.1-11.1-9.3-11.1-8.4-10.2-6.9-10.2-5.9-7.7-3.9"/>
<path stroke="url(#i55)" d="M1278.1 599l-10.2-5.3-10.2-6.2-11.1-7.7-11.1-8.5-11.9-10.2-12.7-12.1-13.6-13.9-15.4-16.9-17.8-20.9-23.9-29.4-42.5-53.4-19.6-23.6-16.2-18.4-14.4-15.4-12.8-12.5-11.9-10.8-11.9-9.8-11.1-8.1-10.2-6.6-10.2-5.9-6.8-3.4"/>
<path stroke="url(#i56)" d="M1305.8 587.4l-10.2-5.2-11-6.6-11.1-7.4-11.9-9-11.8-10-12.8-11.7-14.4-14.3-15.3-16.4-18.7-21.2-26.3-31.4-38.2-46.2-20.4-23.6-16.2-17.6-14.4-14.7-13.6-12.9-12.7-11-11.9-9.2-11.1-7.8-11-6.8-10.2-5.5-3.4-1.7"/>
<path stroke="url(#i57)" d="M1332.5 575.4l-11.1-5.6-11-6.6-11.1-7.3-11.9-8.9-12.7-10.5-13.6-12.2-14.4-14.1-16.2-16.9-19.5-21.6-63.7-73.7-19.5-21.6-16.2-16.8-14.4-14.1-13.6-12.3-12.7-10.5-11.9-8.8-11.1-7.4-11-6.5-11-5.7"/>
<path stroke="url(#i58)" d="M1359.1 563.7l-11-5.7-11.1-6.4-11.9-7.9-12.7-9.3-12.7-10.4-13.6-12-15.3-14.5-17-17.3-21.2-22.9-57.8-64.4-20.4-21.8-17-17.1-15.3-14.3-13.5-11.7-12.8-10.1-11.9-8.5-11.9-7.7-11-6.2-8.5-4.3"/>
<path stroke="url(#i59)" d="M1385.8 552.1l-11.9-6.1-11.9-7-11.9-7.8-12.8-9.3-13.5-10.8-14.5-12.6-16.1-15.1-18.7-18.7-24.6-25.9-47.6-51.2-21.2-21.8-17-16.5-15.3-13.9-14.4-12.1-12.8-9.7-12.7-8.9-11.9-7.4-11.9-6.5-5.9-2.9"/>
<path stroke="url(#i60)" d="M1412.4 540.6l-11.9-6-12.7-7.4-12.8-8.3-13.6-9.8-14.4-11.5-15.3-13.1-17-15.7-20.4-20-30.5-31.4-36.5-37.7-21.3-21-17-15.8-15.3-13.4-14.4-11.6-13.6-10-12.7-8.4-12.8-7.6-11.9-6.2-2.5-1.3"/>
<path transform="translate(306.4)" stroke="url(#a0)" stroke-width="2.5" d="M0 275.6l26.6 6.6 26.7 5.9 26.6 5.1 26.7 4.5 26.6 3.9 26.7 3.4 26.6 2.9 26.7 2.3 26.6 2 40 2.1 40 1.3 39.9 .5 40-.2 40-.8 39.9-1.5 40-2 40-2.5 40-3 53.2-4.8 53.3-5.5 53.3-6.2 40-5.2"/>
<path transform="translate(308.1)" stroke="url(#a1)" stroke-width="2.5" d="M0 276.4l26.6 6.7 26.7 5.8 26.6 5.2 26.7 4.5 26.6 3.9 26.7 3.3 26.6 2.9 26.7 2.4 26.6 1.9 40 2.1 40 1.3 39.9 .5 40-.2 40-.8 39.9-1.4 40-2 40-2.6 40-3 53.2-4.8 53.3-5.5 53.3-6.2 40-5.2"/>
<path transform="translate(309.8)" stroke="url(#a2)" stroke-width="2.5" d="M0 277.4l26.7 6.6 26.6 5.8 26.6 5.2 26.7 4.5 26.6 3.9 26.7 3.4 26.6 2.8 26.7 2.4 26.6 1.9 40 2.1 40 1.3 39.9 .5 40-.2 40-.8 39.9-1.5 40-2 40-2.5 40-3.1 53.3-4.7 53.2-5.5 53.3-6.3 40-5.1"/>
<path transform="translate(311.5)" stroke="url(#a3)" stroke-width="2.5" d="M0 278.4l26.7 6.6 26.6 5.9 26.6 5.1 26.7 4.5 26.6 3.9 26.7 3.3 26.6 2.9 26.7 2.3 26.6 1.9 40 2.2 40 1.2 39.9 .5 40-.2 40-.8 39.9-1.5 40-2 40-2.5 40-3.1 53.3-4.7 53.2-5.6 53.3-6.2 40-5.2"/>
<path transform="translate(313.2)" stroke="url(#a4)" stroke-width="2.5" d="M0 279.5l26.7 6.6 26.6 5.8 26.7 5.2 26.6 4.4 26.6 3.9 26.7 3.4 26.6 2.8 26.7 2.3 26.6 1.9 40 2.1 40 1.3 39.9 .5 40-.2 40-.9 40-1.5 39.9-2 40-2.5 40-3.1 53.3-4.8 53.3-5.5 53.2-6.3 40-5.1"/>
<path transform="translate(314.9)" stroke="url(#a5)" stroke-width="2.5" d="M0 280.7l26.7 6.6 26.6 5.8 26.7 5.1 26.6 4.5 26.6 3.8 26.7 3.4 26.6 2.8 26.7 2.3 26.6 1.9 40 2.1 40 1.2 39.9 .5 40-.2 40-.9 40-1.5 39.9-2 40-2.6 40-3 53.3-4.8 53.3-5.6 53.2-6.3 40-5.1"/>
<path transform="translate(316.6)" stroke="url(#a6)" stroke-width="2.5" d="M0 282l26.7 6.6 26.6 5.7 26.7 5.1 26.6 4.5 26.7 3.8 26.6 3.3 26.6 2.8 26.7 2.3 26.6 1.9 40 2.1 40 1.2 39.9 .5 40-.3 40-.9 40-1.5 39.9-2 40-2.6 40-3.1 53.3-4.8 53.3-5.6 53.2-6.3 40-5.1"/>
<path transform="translate(318.3)" stroke="url(#a7)" stroke-width="2.5" d="M0 283.4l26.7 6.5 26.6 5.8 26.7 5 26.6 4.4 26.7 3.9 26.6 3.3 26.7 2.7 26.6 2.3 26.6 1.9 40 2 40 1.2 40 .4 39.9-.2 40-.9 40-1.6 39.9-2 40-2.6 40-3.1 53.3-4.8 53.3-5.6 53.3-6.3 39.9-5.2"/>
<path transform="translate(320)" stroke="url(#a8)" stroke-width="2.5" d="M0 284.8l26.7 6.5 26.6 5.8 26.7 5 26.6 4.4 26.7 3.8 26.6 3.2 26.7 2.8 26.6 2.3 26.6 1.8 40 2 40 1.2 40 .4 39.9-.3 40-.9 40-1.6 39.9-2.1 40-2.6 40-3.1 53.3-4.8 53.3-5.7 53.3-6.3 39.9-5.2"/>
<path transform="translate(321.7)" stroke="url(#a9)" stroke-width="2.5" d="M0 286.4l26.7 6.4 26.6 5.7 26.7 5 26.6 4.4 26.7 3.8 26.6 3.2 26.7 2.7 26.6 2.3 26.6 1.8 40 2 40 1.1 40 .4 39.9-.3 40-1 40-1.6 39.9-2.1 40-2.6 40-3.2 53.3-4.8 53.3-5.7 53.3-6.3 39.9-5.2"/>
<path transform="translate(323.4)" stroke="url(#a10)" stroke-width="2.5" d="M0 288l26.7 6.4 26.6 5.7 26.7 5 26.6 4.3 26.7 3.7 26.6 3.2 26.7 2.7 26.6 2.2 26.7 1.8 39.9 2 40 1.1 40 .3 39.9-.3 40-1 40-1.6 39.9-2.2 40-2.6 40-3.2 53.3-4.9 53.3-5.7 53.3-6.3 39.9-5.3"/>
<path transform="translate(325.1)" stroke="url(#a11)" stroke-width="2.5" d="M0 289.7l26.7 6.4 26.6 5.6 26.7 5 26.6 4.3 26.7 3.7 26.6 3.1 26.7 2.7 26.6 2.2 26.7 1.7 39.9 1.9 40 1.1 40 .3 39.9-.4 40-1 40-1.7 39.9-2.1 40-2.7 40-3.2 53.3-4.9 53.3-5.7 53.3-6.4 39.9-5.3"/>
<path transform="translate(326.8)" stroke="url(#a12)" stroke-width="2.5" d="M0 291.6l26.7 6.3 26.6 5.6 26.7 4.8 26.6 4.3 26.7 3.6 26.6 3.2 26.7 2.6 26.6 2.2 26.7 1.7 39.9 1.8 40 1 40 .3 39.9-.4 40-1.1 40-1.6 40-2.3 39.9-2.7 40-3.2 53.3-4.9 53.3-5.8 53.3-6.4 39.9-5.3"/>
<path transform="translate(328.5)" stroke="url(#a13)" stroke-width="2.5" d="M0 293.4l26.7 6.3 26.6 5.5 26.7 4.9 26.6 4.2 26.7 3.6 26.6 3.1 26.7 2.6 26.6 2.1 26.7 1.7 39.9 1.8 40 .9 40 .3 39.9-.5 40-1.1 40-1.7 40-2.2 39.9-2.8 40-3.2 53.3-5 53.3-5.8 53.3-6.5 39.9-5.2"/>
<path transform="translate(330.2)" stroke="url(#a14)" stroke-width="2.5" d="M0 295.4l26.7 6.2 26.6 5.5 26.7 4.8 26.6 4.2 26.7 3.5 26.6 3.1 26.7 2.5 26.6 2.1 26.7 1.6 39.9 1.8 40 .9 40 .2 39.9-.5 40-1.2 40-1.7 40-2.3 39.9-2.8 40-3.3 53.3-5 53.3-5.8 53.3-6.5 39.9-5.3"/>
<path transform="translate(331.9)" stroke="url(#a15)" stroke-width="2.5" d="M0 297.5l26.7 6.2 26.6 5.4 26.7 4.7 26.6 4.1 26.7 3.5 26.6 3 26.7 2.5 26.6 2 26.7 1.7 39.9 1.6 40 .9 40 .1 39.9-.5 40-1.2 40-1.8 40-2.3 39.9-2.9 40-3.3 53.3-5.1 53.3-5.8 53.3-6.5 39.9-5.4"/>
<path transform="translate(333.7)" stroke="url(#a16)" stroke-width="2.5" d="M0 299.6l26.6 6.1 26.6 5.4 26.7 4.7 26.6 4 26.7 3.5 26.6 2.9 26.7 2.5 26.6 2 26.7 1.5 39.9 1.6 40 .8 40 .1 40-.6 39.9-1.2 40-1.9 40-2.3 39.9-2.9 40-3.3 53.3-5.2 53.3-5.9 53.3-6.5 40-5.4"/>
<path transform="translate(335.4)" stroke="url(#a17)" stroke-width="2.5" d="M0 301.9l26.6 6 26.7 5.3 26.6 4.6 26.6 4 26.7 3.4 26.6 2.9 26.7 2.4 26.6 1.9 26.7 1.5 39.9 1.6 40 .7 40 0 40-.6 39.9-1.3 40-1.9 40-2.4 39.9-2.9 40-3.4 53.3-5.2 53.3-5.9 53.3-6.6 40-5.4"/>
<path transform="translate(337.1)" stroke="url(#a18)" stroke-width="2.5" d="M0 304.2l26.6 5.9 26.7 5.3 26.6 4.5 26.6 3.9 26.7 3.4 26.6 2.8 26.7 2.3 26.6 1.9 26.7 1.5 39.9 1.5 40 .7 40-.1 40-.7 39.9-1.3 40-2 40-2.4 39.9-3 53.3-4.6 53.3-5.5 53.3-6.1 53.3-6.9 26.7-3.6"/>
<path transform="translate(338.8)" stroke="url(#a19)" stroke-width="2.5" d="M0 306.6l26.6 5.9 26.7 5.1 26.6 4.5 26.6 3.8 26.7 3.3 26.6 2.8 26.7 2.3 26.6 1.8 40 2 40 1.1 39.9 .4 40-.3 40-1 40-1.6 39.9-2.2 40-2.7 40-3.1 53.3-5 53.3-5.6 53.2-6.4 53.3-7 13.4-1.9"/>
<path transform="translate(340.5)" stroke="url(#a20)" stroke-width="2.5" d="M0 309.1l26.6 5.8 26.7 5 26.6 4.4 26.7 3.8 26.6 3.2 26.6 2.7 26.7 2.3 26.6 1.8 40 1.9 40 1 39.9 .3 40-.4 40-1.1 40-1.6 39.9-2.2 40-2.8 40-3.2 53.3-5 53.3-5.7 53.3-6.4 53.2-7.1 13.4-1.9"/>
<path transform="translate(342.2)" stroke="url(#a21)" stroke-width="2.5" d="M0 311.7l26.6 5.7 26.7 4.9 26.6 4.3 26.7 3.8 26.6 3.1 26.6 2.7 26.7 2.1 26.6 1.7 40 1.9 40 .9 40 .3 39.9-.5 40-1.2 40-1.7 39.9-2.2 40-2.8 40-3.3 53.3-5 53.3-5.8 53.3-6.5 53.2-7.1 13.4-1.9"/>
<path transform="translate(343.9)" stroke="url(#a22)" stroke-width="2.5" d="M0 314.3l26.6 5.6 26.7 4.9 26.6 4.2 26.7 3.7 26.6 3.1 26.7 2.5 26.6 2.1 26.6 1.7 40 1.7 40 .9 40 .2 39.9-.6 40-1.2 40-1.8 39.9-2.3 40-2.8 40-3.4 53.3-5.1 53.3-5.8 53.3-6.6 53.2-7.2 13.4-1.9"/>
<path transform="translate(345.6)" stroke="url(#a23)" stroke-width="2.5" d="M0 317l26.6 5.5 26.7 4.8 26.6 4.2 26.7 3.6 26.6 3 26.7 2.5 26.6 2 26.6 1.6 40 1.6 40 .8 40 .1 39.9-.6 40-1.3 40-1.9 39.9-2.4 40-2.9 40-3.3 53.3-5.2 53.3-5.9 53.3-6.6 53.3-7.3 13.3-1.9"/>
<path transform="translate(347.3)" stroke="url(#a24)" stroke-width="2.6" d="M0 319.8l26.6 5.5 26.7 4.7 26.6 4 26.7 3.5 26.6 2.9 26.7 2.5 26.6 1.9 26.7 1.5 39.9 1.6 40 .7 40 0 39.9-.7 40-1.4 40-1.9 39.9-2.5 40-2.9 53.3-4.7 53.3-5.4 53.3-6.2 53.3-6.8 53.3-7.5"/>
<path transform="translate(349)" stroke="url(#a25)" stroke-width="2.6" d="M0 322.7l26.6 5.3 26.7 4.7 26.6 3.9 26.7 3.4 26.6 2.9 26.7 2.3 26.6 1.9 26.7 1.5 39.9 1.4 40 .6 40-.1 39.9-.8 40-1.4 40-2 39.9-2.5 40-3.1 53.3-4.7 53.3-5.5 53.3-6.3 53.3-6.9 53.3-7.5"/>
<path transform="translate(350.7)" stroke="url(#a26)" stroke-width="2.6" d="M0 325.7l26.6 5.2 26.7 4.5 26.6 3.9 26.7 3.3 26.6 2.8 26.7 2.2 26.6 1.8 26.7 1.4 39.9 1.4 40 .5 40-.2 39.9-.9 40-1.5 40-2.1 39.9-2.6 40-3.1 53.3-4.8 53.3-5.6 53.3-6.3 53.3-7 53.3-7.6"/>
<path transform="translate(352.4)" stroke="url(#a27)" stroke-width="2.6" d="M0 328.7l26.6 5.1 26.7 4.5 26.6 3.7 26.7 3.2 26.6 2.7 26.7 2.2 26.6 1.7 26.7 1.3 39.9 1.3 40 .4 40-.3 39.9-1 40-1.6 40-2.1 40-2.7 39.9-3.2 53.3-4.9 53.3-5.7 53.3-6.3 53.3-7.1 53.3-7.6"/>
<path transform="translate(354.1)" stroke="url(#a28)" stroke-width="2.6" d="M0 331.9l26.6 5 26.7 4.3 26.6 3.6 26.7 3.2 26.6 2.5 26.7 2.1 26.6 1.7 40 1.7 40 .8 39.9 .1 40-.7 40-1.2 39.9-1.9 40-2.4 40-2.9 39.9-3.4 53.3-5.2 53.3-6 53.3-6.6 53.3-7.2 40-5.9"/>
<path transform="translate(355.8)" stroke="url(#a29)" stroke-width="2.6" d="M0 335.1l26.6 4.8 26.7 4.2 26.6 3.6 26.7 3 26.6 2.5 26.7 2 26.6 1.6 40 1.5 40 .8 39.9-.1 40-.7 40-1.4 39.9-1.9 40-2.5 40-3 53.3-4.7 53.3-5.5 53.3-6.2 53.3-6.9 53.3-7.4 26.6-4"/>
<path transform="translate(357.5)" stroke="url(#a30)" stroke-width="2.6" d="M0 338.4l26.6 4.7 26.7 4.1 26.6 3.5 26.7 2.9 26.6 2.4 26.7 1.9 26.6 1.4 40 1.5 40 .6 39.9-.2 40-.8 40-1.5 39.9-2 40-2.6 40-3 53.3-4.9 53.3-5.5 53.3-6.3 53.3-7 53.3-7.5 26.6-4"/>
<path transform="translate(359.2)" stroke="url(#a31)" stroke-width="2.6" d="M0 341.7l26.6 4.6 26.7 4 26.6 3.4 26.7 2.8 26.6 2.2 26.7 1.9 26.6 1.3 40 1.4 40 .4 39.9-.2 40-1 40-1.5 40-2.1 39.9-2.7 40-3.2 53.3-4.9 53.3-5.7 53.3-6.3 53.3-7.1 53.3-7.6 26.6-4"/>
<path transform="translate(360.9)" stroke="url(#a32)" stroke-width="2.6" d="M0 345.1l26.7 4.5 26.6 3.9 26.6 3.2 26.7 2.7 26.6 2.2 26.7 1.7 26.6 1.3 40 1.2 40 .3 39.9-.3 40-1.1 40-1.6 40-2.3 39.9-2.7 40-3.3 53.3-5 53.3-5.8 53.3-6.4 53.3-7.1 53.3-7.7 26.6-4.1"/>
<path transform="translate(362.6)" stroke="url(#a33)" stroke-width="2.6" d="M0 348.7l26.7 4.3 26.6 3.7 26.6 3.2 26.7 2.5 26.6 2.1 26.7 1.6 26.6 1.2 40 1.1 40 .2 39.9-.5 40-1.2 40-1.7 40-2.4 39.9-2.8 40-3.3 53.3-5.2 53.3-5.8 53.3-6.6 53.3-7.2 53.3-7.8 26.6-4.1"/>
<path transform="translate(364.3)" stroke="url(#a34)" stroke-width="2.6" d="M0 352.2l26.7 4.3 26.6 3.6 26.7 3 26.6 2.4 26.6 2 26.7 1.5 26.6 1.1 40 .9 40 .1 39.9-.6 40-1.3 40-1.9 40-2.4 39.9-2.9 40-3.5 53.3-5.2 53.3-6 53.3-6.6 53.3-7.3 53.3-7.9 26.6-4.1"/>
<path transform="translate(366)" stroke="url(#a35)" stroke-width="2.6" d="M0 355.9l26.7 4.1 26.6 3.4 26.7 2.9 26.6 2.4 26.6 1.8 26.7 1.4 40 1.3 39.9 .5 40-.2 40-1 39.9-1.6 40-2.2 40-2.7 40-3.2 53.2-5 53.3-5.7 53.3-6.4 53.3-7.1 53.3-7.6 53.3-8.3"/>
<path transform="translate(367.7)" stroke="url(#a36)" stroke-width="2.6" d="M0 359.6l26.7 4 26.6 3.3 26.7 2.7 26.6 2.3 26.7 1.7 26.6 1.3 40 1.2 39.9 .3 40-.4 40-1.1 40-1.7 39.9-2.3 40-2.8 40-3.3 53.3-5.1 53.2-5.9 53.3-6.5 53.3-7.1 53.3-7.8 53.3-8.3"/>
<path transform="translate(369.4)" stroke="url(#a37)" stroke-width="2.6" d="M0 363.4l26.7 3.8 26.6 3.2 26.7 2.6 26.6 2.1 26.7 1.6 26.6 1.2 40 1 39.9 .2 40-.5 40-1.2 40-1.9 39.9-2.4 40-2.9 40-3.4 53.3-5.2 53.2-6 53.3-6.6 53.3-7.3 53.3-7.8 53.3-8.4"/>
<path transform="translate(371.1)" stroke="url(#a38)" stroke-width="2.6" d="M0 367.3l26.7 3.6 26.6 3.1 26.7 2.4 26.6 2 26.7 1.5 26.6 1.1 40 .8 39.9 .1 40-.7 40-1.4 40-1.9 39.9-2.5 40-3.1 40-3.5 53.3-5.3 53.3-6.1 53.2-6.7 53.3-7.4 53.3-7.9 53.3-8.5"/>
<path transform="translate(372.8)" stroke="url(#a39)" stroke-width="2.6" d="M0 371.2l26.7 3.5 26.6 2.9 26.7 2.3 26.6 1.9 26.7 1.4 26.6 .9 40 .7 40-.1 39.9-.8 40-1.5 40-2.1 39.9-2.6 40-3.2 53.3-4.9 53.3-5.7 53.3-6.3 53.3-7.1 53.3-7.6 53.3-8.1 39.9-6.5"/>
<path transform="translate(374.5)" stroke="url(#a40)" stroke-width="2.6" d="M0 375.2l26.7 3.3 26.6 2.8 26.7 2.2 26.6 1.7 26.7 1.3 26.6 .8 40 .5 40-.2 39.9-1 40-1.7 40-2.2 39.9-2.7 40-3.3 53.3-5 53.3-5.9 53.3-6.4 53.3-7.2 53.3-7.7 66.6-10.4 26.6-4.4"/>
<path transform="translate(376.2)" stroke="url(#a41)" stroke-width="2.7" d="M0 379.3l26.7 3.2 26.6 2.6 26.7 2 26.6 1.6 26.7 1.1 39.9 .9 40 .1 40-.7 40-1.3 39.9-2 40-2.5 40-3.1 39.9-3.5 53.3-5.4 53.3-6.1 53.3-6.8 53.3-7.4 53.3-7.9 66.6-10.7 13.3-2.3"/>
<path transform="translate(377.9)" stroke="url(#a42)" stroke-width="2.7" d="M0 383.4l26.7 3 26.6 2.5 26.7 1.9 26.6 1.4 26.7 1 39.9 .8 40-.1 40-.9 40-1.5 39.9-2.1 40-2.6 40-3.2 53.3-5 53.3-5.7 53.2-6.4 53.3-7.1 53.3-7.6 66.6-10.4 53.3-8.8"/>
<path transform="translate(379.6)" stroke="url(#a43)" stroke-width="2.7" d="M0 387.6l26.7 2.9 26.6 2.3 26.7 1.7 26.6 1.3 26.7 .9 39.9 .5 40-.2 40-1 40-1.7 39.9-2.3 40-2.8 40-3.3 53.3-5.1 53.3-5.8 53.2-6.6 53.3-7.2 53.3-7.7 66.7-10.5 53.2-9"/>
<path transform="translate(381.3)" stroke="url(#a44)" stroke-width="2.7" d="M0 391.9l26.7 2.7 26.6 2.1 26.7 1.6 26.6 1.2 26.7 .7 39.9 .3 40-.4 40-1.2 40-1.8 39.9-2.4 40-2.9 40-3.5 53.3-5.2 53.3-6.1 53.3-6.6 53.2-7.4 53.3-7.8 66.7-10.6 53.2-9.1"/>
<path transform="translate(383.1)" stroke="url(#a45)" stroke-width="2.7" d="M0 396.2l26.6 2.5 26.6 2 26.7 1.4 26.6 1.1 26.7 .5 40 .2 39.9-.6 40-1.4 40-1.9 39.9-2.6 40-3.1 40-3.5 53.3-5.5 53.3-6.1 53.3-6.9 53.2-7.4 53.3-8 66.7-10.8 53.3-9.1"/>
<path transform="translate(384.8)" stroke="url(#a46)" stroke-width="2.7" d="M0 400.6l26.6 2.3 26.6 1.8 26.7 1.3 26.6 .9 40 .5 40-.3 39.9-1.1 40-1.7 40-2.3 40-2.9 39.9-3.4 53.3-5.2 53.3-6 53.3-6.6 53.3-7.3 53.3-7.8 66.6-10.6 66.6-11.3 13.4-2.4"/>
<path transform="translate(386.5)" stroke="url(#a47)" stroke-width="2.7" d="M0 405l26.6 2.2 26.7 1.6 26.6 1.2 26.6 .7 40 .3 40-.5 40-1.3 39.9-1.9 40-2.4 40-3.1 39.9-3.5 53.3-5.4 53.3-6.1 53.3-6.8 53.3-7.5 53.3-7.9 66.6-10.7 66.6-11.5 13.4-2.4"/>
<path transform="translate(388.2)" stroke="url(#a48)" stroke-width="2.7" d="M0 409.6l26.6 1.9 26.7 1.5 26.6 1 26.6 .5 40 .1 40-.7 40-1.4 39.9-2.1 40-2.6 40-3.2 39.9-3.7 53.3-5.6 53.3-6.3 53.3-6.9 53.3-7.6 66.6-10.2 66.6-11 66.7-11.8"/>
<path transform="translate(389.9)" stroke="url(#a49)" stroke-width="2.7" d="M0 414.1l26.6 1.8 26.7 1.3 26.6 .8 26.7 .4 39.9-.1 40-.9 40-1.6 39.9-2.3 40-2.8 40-3.4 53.3-5.1 53.3-6 53.3-6.6 53.2-7.3 53.3-7.8 66.7-10.6 66.6-11.3 53.3-9.5"/>
<path transform="translate(391.6)" stroke="url(#a50)" stroke-width="2.7" d="M0 418.8l26.6 1.6 26.7 1.1 26.6 .6 40 .2 39.9-.6 40-1.4 40-2 40-2.6 39.9-3.2 40-3.6 53.3-5.6 53.3-6.3 53.3-7 53.3-7.5 66.6-10.3 66.6-11 66.6-11.7 26.7-4.9"/>
<path transform="translate(393.3)" stroke="url(#a51)" stroke-width="2.7" d="M0 423.4l26.6 1.5 26.7 .9 26.6 .5 40-.1 39.9-.8 40-1.6 40-2.2 40-2.8 39.9-3.3 40-3.8 53.3-5.8 53.3-6.5 53.3-7.1 53.3-7.7 66.6-10.4 66.6-11.2 66.6-11.9 26.7-4.9"/>
<path transform="translate(395)" stroke="url(#a52)" stroke-width="2.7" d="M0 428.2l26.6 1.2 26.7 .7 26.6 .4 40-.3 40-1.1 39.9-1.8 40-2.4 40-2.9 39.9-3.6 53.3-5.4 53.3-6.1 53.3-6.8 53.3-7.5 66.6-10.1 66.6-10.9 66.7-11.6 66.6-12.3"/>
<path transform="translate(396.7)" stroke="url(#a53)" stroke-width="2.7" d="M0 433l26.6 1 26.7 .6 26.6 .1 40-.5 40-1.3 39.9-2 40-2.6 40-3.2 39.9-3.7 53.3-5.6 53.3-6.3 53.3-7 53.3-7.6 66.6-10.3 66.6-11.1 66.7-11.8 66.6-12.4"/>
<path transform="translate(398.4)" stroke="url(#a54)" stroke-width="2.8" d="M0 437.8l26.6 .8 26.7 .4 39.9-.2 40-1 40-1.8 40-2.4 39.9-3 40-3.5 53.3-5.4 53.3-6.2 53.3-6.9 53.3-7.5 66.6-10.2 66.6-10.9 66.6-11.7 66.6-12.3 26.7-5.1"/>
<path transform="translate(400.1)" stroke="url(#a55)" stroke-width="2.8" d="M0 442.7l26.6 .6 26.7 .2 39.9-.4 40-1.3 40-2 40-2.6 39.9-3.2 40-3.7 53.3-5.7 53.3-6.4 53.3-7.1 53.3-7.7 66.6-10.3 66.6-11.1 66.6-11.9 66.6-12.5 26.7-5.1"/>
<path transform="translate(401.8)" stroke="url(#a56)" stroke-width="2.8" d="M0 447.7l26.6 .4 26.7 0 39.9-.8 40-1.5 40-2.2 40-2.8 39.9-3.4 40-3.9 53.3-5.9 53.3-6.6 53.3-7.3 53.3-7.9 66.6-10.5 66.6-11.4 66.6-12 66.6-12.6 26.7-5.2"/>
<path transform="translate(403.5)" stroke="url(#a57)" stroke-width="2.8" d="M0 452.7l26.6 .2 40-.5 40-1.2 39.9-2.1 40-2.6 40-3.3 40-3.7 53.3-5.8 53.2-6.5 53.3-7.1 53.3-7.8 66.6-10.4 66.7-11.3 66.6-11.9 66.6-12.5 53.3-10.5"/>
<path transform="translate(405.2)" stroke="url(#a58)" stroke-width="2.8" d="M0 457.7l26.6 0 40-.7 40-1.6 40-2.2 39.9-2.9 40-3.5 40-3.9 53.3-6 53.2-6.8 53.3-7.3 53.3-8 66.6-10.7 66.7-11.4 66.6-12.1 66.6-12.7 53.3-10.6"/>
<path transform="translate(406.9)" stroke="url(#a59)" stroke-width="2.8" d="M0 462.8l26.6-.2 40-1 40-1.9 40-2.5 39.9-3.1 40-3.7 40-4.1 53.3-6.3 53.3-6.9 53.2-7.6 66.7-10.3 66.6-11 66.6-11.8 66.6-12.4 80-15.6 26.6-5.4"/>
<path transform="translate(408.6)" stroke="url(#a60)" stroke-width="2.8" d="M0 467.9l40-.7 39.9-1.6 40-2.3 40-3 40-3.6 39.9-4 53.3-6.1 53.3-6.9 53.3-7.5 53.3-8.1 66.6-10.8 66.6-11.6 66.6-12.2 66.7-12.8 79.9-16.1"/>
<path transform="translate(410.3)" stroke="url(#a61)" stroke-width="2.8" d="M0 473.1l40-1.1 39.9-1.9 40-2.5 40-3.3 40-3.7 39.9-4.3 53.3-6.4 53.3-7.1 53.3-7.7 66.6-10.5 66.6-11.2 66.7-11.9 66.6-12.5 79.9-15.8 53.3-11"/>
<path transform="translate(412)" stroke="url(#a62)" stroke-width="2.8" d="M0 478.3l40-1.4 39.9-2.1 40-2.9 40-3.5 40-4 53.3-6.1 53.2-6.8 53.3-7.5 53.3-8.1 66.6-10.9 66.7-11.5 66.6-12.3 79.9-15.5 80-16.2 26.6-5.6"/>
<path transform="translate(413.7)" stroke="url(#a63)" stroke-width="2.8" d="M0 483.6l40-1.7 39.9-2.5 40-3.1 40-3.8 40-4.2 53.3-6.4 53.2-7.1 53.3-7.7 66.7-10.5 66.6-11.3 66.6-11.9 66.6-12.6 79.9-15.8 80-16.6 13.3-2.8"/>
<path transform="translate(415.4)" stroke="url(#a64)" stroke-width="2.8" d="M0 488.9l40-2.1 40-2.7 39.9-3.4 40-4 40-4.5 53.3-6.7 53.2-7.3 53.3-8 66.7-10.8 66.6-11.5 66.6-12.2 66.6-12.8 80-16 79.9-16.8 13.3-2.9"/>
<path transform="translate(417.1)" stroke="url(#a65)" stroke-width="2.9" d="M0 494.2l40-2.3 40-3.1 39.9-3.7 40-4.2 53.3-6.4 53.3-7.2 53.3-7.8 53.3-8.4 66.6-11.2 66.6-11.9 66.6-12.5 80-15.8 79.9-16.5 66.6-14.3"/>
<path transform="translate(418.8)" stroke="url(#a66)" stroke-width="2.9" d="M0 499.6l40-2.7 40-3.4 39.9-3.9 40-4.5 53.3-6.8 53.3-7.4 53.3-8.1 66.6-10.8 66.6-11.6 66.6-12.3 80-15.5 79.9-16.3 79.9-17 40-8.7"/>
<path transform="translate(420.5)" stroke="url(#a67)" stroke-width="2.9" d="M0 505l40-3 40-3.7 39.9-4.3 40-4.7 53.3-7.1 53.3-7.7 53.3-8.3 66.6-11.2 66.6-11.9 66.6-12.5 80-15.8 79.9-16.5 80-17.2 39.9-8.8"/>
<path transform="translate(422.2)" stroke="url(#a68)" stroke-width="2.9" d="M0 510.5l40-3.4 40-4 39.9-4.5 53.3-6.8 53.3-7.6 53.3-8.2 66.6-11 66.6-11.7 66.7-12.4 79.9-15.7 79.9-16.4 80-17.1 79.9-17.7"/>
<path transform="translate(423.9)" stroke="url(#a69)" stroke-width="2.9" d="M0 515.9l40-3.7 40-4.3 39.9-4.8 53.3-7.1 53.3-7.9 53.3-8.5 66.6-11.3 66.7-12.1 66.6-12.7 79.9-15.9 80-16.7 93.2-20.2 66.6-15"/>
<path transform="translate(425.6)" stroke="url(#a70)" stroke-width="2.9" d="M0 521.5l40-4.1 40-4.6 39.9-5.1 53.3-7.5 53.3-8.2 53.3-8.8 66.6-11.6 66.7-12.4 79.9-15.6 79.9-16.4 80-17 93.2-20.7 53.3-12.1"/>
<path transform="translate(427.3)" stroke="url(#a71)" stroke-width="2.9" d="M0 527l40-4.4 40-4.9 53.3-7.3 53.3-8.1 53.3-8.6 66.6-11.6 66.6-12.2 66.6-12.9 79.9-16.2 80-16.9 93.2-20.5 93.3-21.2 13.3-3.1"/>
<path transform="translate(429)" stroke="url(#a72)" stroke-width="2.9" d="M0 532.6l40-4.8 40-5.2 53.3-7.7 53.3-8.4 66.6-11.3 66.6-12 66.6-12.8 80-16 79.9-16.7 93.3-20.3 93.2-21.1 66.6-15.4"/>
<path transform="translate(430.7)" stroke="url(#a73)" stroke-width="2.9" d="M0 538.2l40-5.1 53.3-7.5 53.3-8.3 53.3-8.9 66.6-11.8 66.6-12.6 80-15.8 79.9-16.6 93.3-20.2 93.2-20.9 106.6-24.8 13.3-3.1"/>
<path transform="translate(432.4)" stroke="url(#a74)" stroke-width="2.9" d="M0 543.8l40-5.4 53.3-8 53.3-8.6 66.6-11.6 66.6-12.4 66.7-13 79.9-16.4 79.9-17 93.3-20.6 93.3-21.3 106.5-25.2"/>
<path transform="translate(434.2)" stroke="url(#a75)" stroke-width="3" d="M0 549.4l53.2-7.8 53.3-8.5 53.3-9.2 66.6-12.2 66.7-12.8 79.9-16.3 79.9-16.9 93.3-20.6 93.3-21.2 106.6-25 53.2-12.8"/>
<path transform="translate(435.9)" stroke="url(#a76)" stroke-width="3" d="M0 555.1l53.2-8.3 53.3-8.9 66.7-12 66.6-12.8 66.6-13.3 79.9-16.8 93.3-20.3 93.3-21.1 106.5-24.9 106.6-25.6 13.4-3.3"/>
<path transform="translate(437.6)" stroke="url(#a77)" stroke-width="3" d="M0 560.8l53.2-8.7 53.3-9.4 66.7-12.5 66.6-13.1 79.9-16.6 80-17.2 93.2-20.9 106.6-24.7 106.6-25.4 93.3-22.7"/>
<path transform="translate(439.3)" stroke="url(#a78)" stroke-width="3" d="M0 566.5l53.3-9.2 66.6-12.3 66.6-13.1 79.9-16.5 80-17.2 93.2-20.8 106.6-24.7 106.6-25.4 119.9-29.4 26.7-6.6"/>
<path transform="translate(441)" stroke="url(#a79)" stroke-width="3" d="M0 572.2l53.3-9.6 66.6-12.9 66.6-13.5 79.9-17 93.3-20.6 93.3-21.4 106.5-25.2 120-29.1 119.9-29.8"/>
<path transform="translate(442.7)" stroke="url(#a80)" stroke-width="3" d="M0 578l66.6-12.8 66.6-13.5 79.9-17 80-17.6 93.2-21.4 106.6-25.1 119.9-29.1 133.3-33.2 53.3-13.5"/>
<path transform="translate(444.4)" stroke="url(#a81)" stroke-width="3" d="M0 583.7l66.6-13.3 66.6-14 79.9-17.5 93.3-21.2 106.6-25.1 119.9-29 133.2-33.1 133.3-33.9"/>
<path transform="translate(446.1)" stroke="url(#a82)" stroke-width="3" d="M0 589.5l66.6-13.9 79.9-17.5 93.3-21.2 106.6-25.1 119.9-29.1 133.2-33.2 146.6-37.4 53.3-13.7"/>
<path transform="translate(447.8)" stroke="url(#a83)" stroke-width="3" d="M0 595.3l79.9-17.5 80-18.2 93.2-21.9 106.6-25.8 119.9-29.7 146.6-37.2 159.9-41.4 13.3-3.5"/>
<path transform="translate(449.5)" stroke="url(#a84)" stroke-width="3.1" d="M0 601.1l79.9-18.2 93.3-21.9 106.6-25.9 119.9-29.9 146.5-37.3 159.9-41.5 93.3-24.5"/>
<path transform="translate(451.2)" stroke="url(#a85)" stroke-width="3.1" d="M0 606.9l93.2-22.1 106.6-26 119.9-30 146.6-37.5 173.2-45.3 159.9-42.3"/>
<path transform="translate(452.9)" stroke="url(#a86)" stroke-width="3.1" d="M0 612.7l106.6-26.2 119.9-30.2 146.5-37.8 173.2-45.4 199.9-53.3 53.3-14.4"/>
<path transform="translate(454.6)" stroke="url(#a87)" stroke-width="3.1" d="M0 618.5l119.9-30.5 146.6-38.1 186.5-49.3 226.5-60.9 119.9-32.5"/>
<path transform="translate(456.3)" stroke="url(#a88)" stroke-width="3.1" d="M0 624.4l159.9-42.1 199.8-53.6 253.2-68.7 186.5-51"/>
<path transform="translate(458)" stroke="url(#a89)" stroke-width="3.1" d="M0 630.2l239.8-65.2 333.1-91.6 226.5-62.6"/>
<path transform="translate(459.7)" stroke="url(#a90)" stroke-width="3.1" d="M0 636l799.4-223.5"/>
<path transform="translate(461.4)" stroke="url(#a91)" stroke-width="3.1" d="M0 641.9l239.8-68.9 333.1-94.7 226.5-64"/>
<path transform="translate(463.1)" stroke="url(#a92)" stroke-width="3.1" d="M0 647.7l159.9-47.3 199.8-58.2 253.2-72.9 186.5-53.2"/>
<path transform="translate(464.8)" stroke="url(#a93)" stroke-width="3.1" d="M0 653.5l119.9-36.5 146.6-43.9 186.5-54.9 226.5-65.8 119.9-34.6"/>
<path transform="translate(466.5)" stroke="url(#a94)" stroke-width="3.2" d="M0 659.3l106.6-33.4 119.9-36.8 146.6-44.2 173.2-51.4 199.8-58.4 53.3-15.5"/>
<path transform="translate(468.2)" stroke="url(#a95)" stroke-width="3.2" d="M0 665.1l93.3-30 106.6-33.6 119.9-37 146.5-44.5 173.2-51.6 159.9-47"/>
<path transform="translate(469.9)" stroke="url(#a96)" stroke-width="3.2" d="M0 670.9l80-26.5 93.2-30.2 106.6-33.7 119.9-37.2 146.6-44.6 159.9-47.9 93.2-27.6"/>
<path transform="translate(471.6)" stroke="url(#a97)" stroke-width="3.2" d="M0 676.7l80-27.2 93.2-30.8 106.6-34.4 119.9-37.8 133.3-41.2 146.5-44.5 119.9-35.9"/>
<path transform="translate(473.3)" stroke="url(#a98)" stroke-width="3.2" d="M0 682.5l66.6-23.3 80-27.2 93.2-30.9 106.6-34.5 119.9-38 133.3-41.3 146.5-44.6 53.3-16"/>
<path transform="translate(475)" stroke="url(#a99)" stroke-width="3.2" d="M0 688.3l66.6-23.9 80-27.8 79.9-27.1 93.3-30.8 106.6-34.5 119.9-37.9 133.2-41.3 119.9-36.5"/>
<path transform="translate(476.7)" stroke="url(#a100)" stroke-width="3.2" d="M0 694.1l66.7-24.5 66.6-23.8 79.9-27.7 93.3-31.5 93.2-30.7 106.6-34.3 119.9-37.9 133.3-41.3 39.9-12.2"/>
<path transform="translate(478.4)" stroke="url(#a101)" stroke-width="3.2" d="M0 699.8l53.3-20.1 66.6-24.4 66.7-23.7 79.9-27.8 93.3-31.5 93.2-30.8 106.6-34.4 119.9-37.9 119.9-37.2"/>
<path transform="translate(480.1)" stroke="url(#a102)" stroke-width="3.2" d="M0 705.5l53.3-20.6 66.6-24.9 66.7-24.2 79.9-28.2 79.9-27.4 93.3-31.4 106.6-34.9 106.6-34.2 119.9-37.7 26.6-8.3"/>
<path transform="translate(481.8)" stroke="url(#a103)" stroke-width="3.3" d="M0 711.3l53.3-21.1 53.3-20.4 66.6-24.8 66.7-24.1 79.9-28.2 93.3-31.9 93.2-31.2 106.6-34.9 106.6-34.1 79.9-25.1"/>
<path transform="translate(483.5)" stroke="url(#a104)" stroke-width="3.3" d="M0 716.9l52.1-21 52-20.4 65.1-24.6 65-24 78.1-28 78-27.2 13-4.5M414.2 563.4l93-31.4 93-30.8 106.3-34.4 92.9-29.6"/>
<path transform="translate(485.2)" stroke="url(#a105)" stroke-width="3.3" d="M.1 722.6l51.9-21.4 52-20.8 64.9-25.1 64.9-24.3 78-28.4 77.9-27.6M423.7 563.2l90.7-31 90.7-30.3 103.7-33.9 90.6-29"/>
<path transform="translate(487)" stroke="url(#a106)" stroke-width="3.3" d="M0 728.3l52.6-22.2 52.6-21.4 52.6-20.8 65.8-25.2 65.8-24.4 78.9-28.6 13.2-4.7M428.2 564.6l92.8-32.1 92.8-31.2 106-34.9 79.6-25.7"/>
<path transform="translate(488.7)" stroke="url(#a107)" stroke-width="3.3" d="M0 733.9l51.6-22.2 51.7-21.5 51.7-20.8 64.6-25.2 64.6-24.4 77.6-28.5 12.9-4.7M432.3 566.1l78.6-27.5 91.8-31.3 91.8-30.6 104.9-34.2"/>
<path transform="translate(490.4)" stroke="url(#a108)" stroke-width="3.3" d="M0 739.5l39.4-17.4 52.6-22.4 52.7-21.7 52.6-21 65.8-25.5 65.7-24.8 39.5-14.6M436.4 567.5l77.8-27.4 90.7-31.3 90.8-30.5 103.7-34.1"/>
<path transform="translate(492.1)" stroke="url(#a109)" stroke-width="3.3" d="M0 745.1l38.8-17.5 51.8-22.5 51.7-21.7 51.8-21 64.7-25.6 64.7-24.7 38.8-14.5M440.5 568.9l79.8-28.4 93-32.3 93-31.5 93.1-30.8"/>
<path transform="translate(493.8)" stroke="url(#a110)" stroke-width="3.3" d="M0 750.6l39.7-18.2 39.7-17.6 52.9-22.7 52.9-22 52.9-21.4 66.2-25.8 52.9-20.2M444.6 570.3l78.9-28.4 78.8-27.7 92-31.5 91.9-30.7 13.2-4.4"/>
<path transform="translate(495.5)" stroke="url(#a111)" stroke-width="3.3" d="M0 756.1l39.1-18.2 39-17.7 52.1-22.8 52.2-22 52.1-21.3 65.1-25.9 52.1-20.2M448.8 571.6l77.9-28.3 77.9-27.6 90.9-31.4 90.9-30.6 13-4.4"/>
<path transform="translate(497.2)" stroke="url(#a112)" stroke-width="3.3" d="M0 761.6l38.5-18.3 38.5-17.7 51.4-22.9 51.3-22 51.4-21.4 64.1-25.9 51.4-20.2M452.8 572.9l77.1-28.2 77-27.5 89.8-31.3 89.8-30.6 12.9-4.3"/>
<path transform="translate(498.9)" stroke="url(#a113)" stroke-width="3.3" d="M0 767l39.4-19 39.5-18.5 39.4-17.9 52.6-23 52.7-22.4 52.6-21.6 65.7-26.3M456.9 574.1l79.1-29.2 79-28.4 79-27.7 92.2-31.6 13.2-4.5"/>
<path transform="translate(500.6)" stroke="url(#a114)" stroke-width="3.3" d="M0 772.4l38.9-19.1 38.9-18.5 38.9-17.9 51.9-23.1 51.9-22.4 51.9-21.7 64.8-26.3M461 575.3l78.1-29.1 78.1-28.3 78.1-27.6 91.1-31.4 13-4.5"/>
<path transform="translate(502.3)" stroke="url(#a115)" stroke-width="3.3" d="M0 777.8l39.9-19.9 39.9-19.3 39.9-18.6 39.9-18.1 53.2-23.4 53.2-22.6 53.3-22 13.3-5.4M465.1 576.5l77.1-29 77.2-28.2 77.1-27.5 90-31.3 12.9-4.4"/>
<path transform="translate(504)" stroke="url(#a116)" stroke-width="3.3" d="M0 783.2l39.3-20 39.4-19.3 39.3-18.7 39.4-18.1 52.4-23.4 52.5-22.6 52.5-22 13.1-5.4M469.1 577.6l66.1-25.1 79.2-29.3 79.3-28.5 79.3-27.8 26.4-9.1"/>
<path transform="translate(505.7)" stroke="url(#a117)" stroke-width="3.3" d="M0 788.5l38.8-20.1 38.9-19.3 38.8-18.7 38.8-18.2 51.8-23.4 51.8-22.7 51.8-22 12.9-5.4M473.1 578.7l65.3-25 78.3-29.1 78.3-28.4 78.3-27.6 26.1-9.1"/>
<path transform="translate(507.4)" stroke="url(#a118)" stroke-width="3.3" d="M0 793.7l39.9-20.9 39.9-20.2 40-19.4 39.9-18.9 39.9-18.3 53.2-23.7 53.3-22.9 13.3-5.7M477.1 579.8l64.5-24.9 77.3-29 77.4-28.2 77.3-27.5 25.8-9.1"/>
<path transform="translate(509.1)" stroke="url(#a119)" stroke-width="3.3" d="M0 799l39.3-21 39.4-20.2 39.3-19.4 39.3-18.9 39.4-18.3 52.4-23.7 52.5-22.9 13.1-5.6M481.1 580.8l66.3-25.8 66.3-25 79.6-29.3 79.6-28.6 26.5-9.3"/>
<path transform="translate(510.8)" stroke="url(#a120)" stroke-width="3.3" d="M0 804.1l38.9-21 38.8-20.2 38.9-19.5 38.8-18.9 38.9-18.4 51.8-23.7 51.8-22.9 13-5.6M485.1 581.8l65.5-25.6 65.5-25 78.5-29.1 78.6-28.4 26.2-9.2"/>
<path transform="translate(512.5)" stroke="url(#a121)" stroke-width="3.3" d="M0 809.3l38.3-21.1 38.4-20.2 38.3-19.5 38.3-18.9 38.3-18.4 51.1-23.7 51.1-22.9 12.8-5.6M489.1 582.7l64.6-25.5 64.7-24.8 77.6-28.9 77.5-28.2 25.9-9.2"/>
<path transform="translate(514.2)" stroke="url(#a122)" stroke-width="3.3" d="M0 814.4l39.4-22 39.5-21 39.4-20.3 39.5-19.7 39.4-19 39.4-18.5 52.6-24 13.1-5.8M493 583.6l66.6-26.4 66.6-25.7 66.6-25 80-29.2 26.6-9.6"/>
<path transform="translate(515.9)" stroke="url(#a123)" stroke-width="3.3" d="M0 819.4l38.9-21.9 38.9-21.1 38.9-20.3 38.8-19.6 38.9-19 38.9-18.5 51.8-23.9 13-5.9M496.9 584.5l65.8-26.2 65.7-25.6 65.8-24.8 78.9-29.1 26.3-9.5"/>
<path transform="translate(517.6)" stroke="url(#a124)" stroke-width="3.3" d="M0 824.4l38.4-21.9 38.4-21.1 38.4-20.3 38.3-19.7 38.4-19 38.4-18.5 51.2-23.9 12.8-5.8M500.8 585.4l64.9-26.1 64.9-25.4 64.9-24.7 77.9-28.8 26-9.4"/>
<path transform="translate(519.3)" stroke="url(#a125)" stroke-width="3.3" d="M0 829.3l39.6-22.8 39.5-22 39.6-21.1 39.5-20.4 39.5-19.8 39.6-19.1 52.7-24.8M504.7 586.2l64-25.9 64.1-25.2 64.1-24.5 76.9-28.7 25.6-9.3"/>
<path transform="translate(521)" stroke="url(#a126)" stroke-width="3.3" d="M0 834.2l39-22.8 39.1-22 39-21.1 39-20.4 39-19.7 39.1-19.2 52-24.7M508.5 587l66.1-26.9 66.1-26.1 66.2-25.4 66.1-24.7 26.4-9.7"/>
<path transform="translate(522.7)" stroke="url(#a127)" stroke-width="3.3" d="M0 839.1l38.5-22.9 38.5-21.9 38.5-21.1 38.5-20.4 38.5-19.7 38.5-19.1 51.4-24.7M512.3 587.7l65.3-26.7 65.2-25.9 65.3-25.2 65.2-24.5 26.1-9.7"/>
<path transform="translate(524.4)" stroke="url(#a128)" stroke-width="3.3" d="M0 843.9l26.5-16 39.7-23.2 39.8-22.3 39.7-21.4 39.7-20.7 39.7-20 39.8-19.5 13.2-6.3M516.1 588.4l64.4-26.4 64.4-25.7 64.4-25 64.4-24.4 25.7-9.6"/>
<path transform="translate(526.1)" stroke="url(#a129)" stroke-width="3.3" d="M0 848.6l26.1-16 39.2-23.1 39.2-22.2 39.2-21.4 39.2-20.7 39.1-20 39.2-19.4 13.1-6.3M519.9 589.1l66.5-27.5 66.6-26.6 66.6-25.9 66.5-25.3 13.3-4.9"/>
<path transform="translate(527.8)" stroke="url(#a130)" stroke-width="3.3" d="M0 853.3l25.8-16 38.6-23 38.6-22.2 38.7-21.3 38.6-20.7 38.6-19.9 38.7-19.4 12.8-6.3M523.6 589.8l65.7-27.3 65.6-26.4 65.7-25.7 65.7-25 13.1-5"/>
<path transform="translate(529.5)" stroke="url(#a131)" stroke-width="3.3" d="M0 857.9l25.4-15.9 38.1-23 38.1-22.1 38.1-21.3 38.1-20.6 38-19.9 38.1-19.3 12.7-6.3M527.3 590.4l64.8-27 64.8-26.2 64.8-25.5 64.8-24.8 12.9-4.9"/>
<path transform="translate(531.2)" stroke="url(#a132)" stroke-width="3.3" d="M0 862.5l26.3-16.7 26.3-16.1 39.4-23.3 39.4-22.5 39.4-21.6 39.4-20.9 39.4-20.3 13.2-6.6M531 591l63.9-26.8 63.9-26 63.9-25.3 64-24.5 12.7-4.9"/>
<path transform="translate(532.9)" stroke="url(#a133)" stroke-width="3.3" d="M0 867l25.9-16.6 25.9-16.1 38.9-23.2 38.8-22.4 38.8-21.6 38.9-20.8 38.8-20.2 12.9-6.6M534.6 591.6l53-22.3 66.2-27.2 66.2-26.4 66.2-25.6 13.2-5.1"/>
<path transform="translate(534.6)" stroke="url(#a134)" stroke-width="3.3" d="M0 871.5l25.6-16.6 38.2-23.8 38.3-22.9 38.2-22 38.3-21.2 38.3-20.5 38.2-20M538.2 592.2l65.3-27.6 65.3-26.8 65.3-26 65.3-25.3"/>
<path transform="translate(536.4)" stroke="url(#a135)" stroke-width="3.3" d="M0 875.8l26.4-17.2 26.4-16.8 39.7-24.2 39.7-23.2 39.7-22.4 39.6-21.6 39.7-20.8M541.7 592.7l64.4-27.4 64.4-26.5 64.4-25.7 64.5-25.1"/>
<path transform="translate(538.1)" stroke="url(#a136)" stroke-width="3.3" d="M0 880.2l26-17.2 26-16.7 39.1-24.1 39.1-23.1 39-22.2 39.1-21.5 39.1-20.8M545.3 593.2l63.5-27.1 63.5-26.3 63.5-25.5 63.6-24.8"/>
<path transform="translate(539.8)" stroke="url(#a137)" stroke-width="3.3" d="M0 884.4l25.6-17.1 25.7-16.6 38.6-24 38.5-23 38.5-22.2 38.5-21.4 38.6-20.7M548.8 593.7l52.7-22.6 66-27.6 65.9-26.6 66-25.9"/>
<path transform="translate(541.5)" stroke="url(#a138)" stroke-width="3.3" d="M0 888.6l25.2-17 25.3-16.5 37.9-23.8 38-22.9 37.9-22.1 37.9-21.3 37.9-20.6M552.3 594.2l52-22.5 65-27.2 65-26.4 65.1-25.6"/>
<path transform="translate(543.2)" stroke="url(#a139)" stroke-width="3.3" d="M0 892.8l26.2-17.9 26.3-17.2 26.2-16.7 39.4-24.3 39.4-23.2 39.4-22.5 39.4-21.6M555.7 594.6l51.3-22.2 64.1-27 64.1-26.1 64.2-25.4"/>
<path transform="translate(544.9)" stroke="url(#a140)" stroke-width="3.3" d="M0 896.8l25.8-17.7 25.8-17.1 25.9-16.6 38.7-24.1 38.8-23.1 38.7-22.3 38.8-21.5M559.1 595l63.3-27.4 63.2-26.5 63.2-25.7 50.6-20.1"/>
<path transform="translate(546.6)" stroke="url(#a141)" stroke-width="3.3" d="M0 900.8l25.4-17.5 25.5-17.1 25.4-16.5 38.2-24 38.2-23 38.2-22.1 38.2-21.5M562.5 595.4l52.7-22.9 52.6-22.3 65.8-27.1 65.8-26.3"/>
<path transform="translate(548.3)" stroke="url(#a142)" stroke-width="3.3" d="M0 904.8l26.5-18.5 26.5-17.8 26.5-17.3 26.5-16.8 39.7-24.3 39.8-23.4 39.7-22.6M565.9 595.8l51.9-22.7 64.8-27.5 64.9-26.7 51.9-20.7"/>
<path transform="translate(550)" stroke="url(#a143)" stroke-width="3.3" d="M0 908.6l26-18.2 26.1-17.7 26-17.2 39.1-24.8 39.1-23.8 39.1-23 26-14.8M569.2 596.2l51.2-22.5 63.9-27.2 63.9-26.4 51.2-20.5"/>
<path transform="translate(551.7)" stroke="url(#a144)" stroke-width="3.3" d="M0 912.4l25.6-18.1 25.7-17.6 25.6-17 38.5-24.7 38.5-23.6 38.5-22.8 25.6-14.8M572.5 596.5l50.4-22.2 63-26.9 63.1-26.1 50.4-20.3"/>
<path transform="translate(553.4)" stroke="url(#a145)" stroke-width="3.3" d="M0 916.2l25.2-18 25.2-17.4 25.2-16.9 37.8-24.4 37.8-23.5 37.8-22.6 25.2-14.6M575.8 596.8l52.6-23.2 52.6-22.6 65.8-27.4 52.6-21.3"/>
<path transform="translate(555.1)" stroke="url(#a146)" stroke-width="3.3" d="M0 919.8l26.3-18.9 26.3-18.2 26.3-17.7 26.3-17.2 39.4-24.8 39.5-23.9 26.2-15.4M579 597.1l51.8-22.9 51.9-22.4 64.8-27.1 51.9-21"/>
<path transform="translate(556.8)" stroke="url(#a147)" stroke-width="3.3" d="M0 923.4l25.9-18.7 25.8-18.1 25.9-17.6 25.9-17 38.8-24.6 38.8-23.7 25.8-15.3M582.2 597.4l51.1-22.7 51.1-22.1 63.9-26.7 51.1-20.9"/>
<path transform="translate(558.5)" stroke="url(#a148)" stroke-width="3.3" d="M0 926.9l25.4-18.5 25.4-17.9 25.4-17.3 38.1-25.1 38-24.1 38.1-23.2 12.7-7.5M585.3 597.6l50.4-22.4 63-27.1 62.9-26.3 37.8-15.4"/>
<path transform="translate(560.2)" stroke="url(#a149)" stroke-width="3.3" d="M0 930.3l26.6-19.5 26.7-18.8 26.6-18.3 26.6-17.7 26.6-17.1 40-24.9 26.6-16.1M588.4 597.9l52.8-23.5 52.7-22.9 52.8-22.2 52.7-21.6"/>
<path transform="translate(561.9)" stroke="url(#a150)" stroke-width="3.3" d="M0 933.7l26.1-19.3 26.1-18.6 26.2-18 26.1-17.5 39.1-25.3 39.2-24.3 13.1-7.9M591.5 598.1l52-23.2 52-22.6 51.9-21.9 52-21.4"/>
<path transform="translate(563.6)" stroke="url(#a151)" stroke-width="3.3" d="M0 937l25.7-19.1 25.6-18.4 25.7-17.9 25.7-17.3 38.5-25 38.4-24.1 12.9-7.8M594.6 598.3l51.2-22.9 51.2-22.3 64-27 38.4-15.9"/>
<path transform="translate(565.3)" stroke="url(#a152)" stroke-width="3.3" d="M0 940.2l25.2-18.8 25.1-18.2 25.2-17.6 25.1-17.1 37.7-24.8 37.8-23.8 12.6-7.7M597.6 598.5l50.4-22.6 50.5-22 63.1-26.8 37.8-15.6"/>
<path transform="translate(567)" stroke="url(#a153)" stroke-width="3.3" d="M0 943.3l26.5-19.9 26.4-19.1 26.5-18.6 26.5-18 26.4-17.5 39.7-25.3 13.2-8.2M600.6 598.7l53-23.8 53-23.2 53-22.5 39.8-16.4"/>
<path transform="translate(568.7)" stroke="url(#a154)" stroke-width="3.3" d="M0 946.4l25.9-19.6 25.9-18.9 26-18.3 25.9-17.8 25.9-17.2 38.9-25 12.9-8.1M603.5 598.9l52.2-23.6 52.3-22.8 52.2-22.2 39.2-16.3"/>
<path transform="translate(570.4)" stroke="url(#a155)" stroke-width="3.3" d="M0 949.3l25.4-19.3 25.5-18.7 25.4-18 25.4-17.6 38.2-25.4 38.1-24.3M606.4 599l51.5-23.2 51.4-22.5 51.5-22 38.6-16.1"/>
<path transform="translate(572.1)" stroke="url(#a156)" stroke-width="3.3" d="M0 952.2l24.9-19 24.9-18.4 24.9-17.8 24.8-17.2 37.4-25.1 37.3-24M609.3 599.1l50.7-22.9 50.7-22.2 63.4-27 25.3-10.6"/>
<path transform="translate(573.8)" stroke="url(#a157)" stroke-width="3.3" d="M0 955l26.3-20.1 26.3-19.5 26.2-18.8 26.3-18.2 26.3-17.7 39.4-25.6M612.1 599.3l50-22.6 49.9-22 62.4-26.6 25-10.5"/>
<path transform="translate(575.5)" stroke="url(#a158)" stroke-width="3.3" d="M0 957.8l25.8-19.9 25.7-19.1 25.8-18.6 25.7-18 25.8-17.4 38.6-25.3M614.9 599.4l52.7-23.9 52.7-23.1 52.8-22.6 26.3-11"/>
<path transform="translate(577.2)" stroke="url(#a159)" stroke-width="3.3" d="M0 960.4l25.2-19.5 25.1-18.8 25.2-18.2 25.2-17.7 37.7-25.6 25.2-16.5M617.7 599.4l51.9-23.5 51.9-22.8 52-22.2 25.9-10.9"/>
<path transform="translate(578.9)" stroke="url(#a160)" stroke-width="3.3" d="M0 963l24.7-19.2 24.6-18.5 24.6-18 24.7-17.4 36.9-25.2 24.6-16.2M620.4 599.5l51.2-23.2 51.1-22.5 51.2-21.9 25.5-10.8"/>
<path transform="translate(580.6)" stroke="url(#a161)" stroke-width="3.3" d="M0 965.5l26.1-20.4 26-19.6 26.1-18.9 26-18.4 26.1-17.9 26-17.3M623.1 599.6l50.4-22.9 50.4-22.2 62.9-27 12.6-5.2"/>
<path transform="translate(582.3)" stroke="url(#a162)" stroke-width="3.3" d="M0 967.9l25.5-20 25.5-19.3 25.5-18.6 25.5-18.1 25.4-17.6 25.5-17M625.7 599.7l49.7-22.6 49.6-21.9 62-26.6 12.4-5.2"/>
<path transform="translate(584)" stroke="url(#a163)" stroke-width="3.3" d="M0 970.2l25-19.6 24.9-18.9 24.9-18.4 24.9-17.8 37.4-25.7 12.4-8.3M628.4 599.7l52.6-23.9 52.6-23.2 52.7-22.6 13.1-5.5"/>
<path transform="translate(585.7)" stroke="url(#a164)" stroke-width="3.3" d="M0 972.4l26.5-20.9 26.5-20.1 26.5-19.4 26.5-18.9 26.4-18.2 13.3-9M631 599.7l51.8-23.5 51.8-22.9 51.9-22.3 12.9-5.5"/>
<path transform="translate(587.4)" stroke="url(#a165)" stroke-width="3.3" d="M.1 974.6l25.8-20.5 25.9-19.7 25.8-19.1 25.9-18.5 25.8-18 13-8.8M633.5 599.7l51.1-23.2 51-22.5 51.1-22 12.7-5.4"/>
<path transform="translate(589.2)" stroke="url(#a166)" stroke-width="3.3" d="M0 976.6l25.2-20 25.2-19.3 25.3-18.8 25.2-18.1 25.3-17.7 12.6-8.6M635.9 599.8l50.3-22.9 50.3-22.3 50.3-21.6 12.6-5.3"/>
<path transform="translate(590.9)" stroke="url(#a167)" stroke-width="3.3" d="M0 978.6l24.5-19.5 24.5-18.9 24.6-18.3 24.5-17.8 36.8-25.7M638.4 599.8l49.5-22.6 49.5-21.9 62-26.6"/>
<path transform="translate(592.6)" stroke="url(#a168)" stroke-width="3.3" d="M0 980.5l26.3-21 26.3-20.2 26.3-19.6 26.3-18.9 26.3-18.4M640.8 599.8l52.9-24.1 52.8-23.3 52.9-22.7"/>
<path transform="translate(594.3)" stroke="url(#a169)" stroke-width="3.3" d="M0 982.3l25.5-20.4 25.6-19.7 25.5-19.1 25.6-18.5 25.5-17.9M643.3 599.7l52-23.6 52-23 52.1-22.4"/>
<path transform="translate(596)" stroke="url(#a170)" stroke-width="3.3" d="M0 984l24.8-19.9 24.9-19.3 24.9-18.6 24.8-18.1 24.9-17.5M645.6 599.7l51.3-23.3 51.2-22.7 51.3-22"/>
<path transform="translate(597.7)" stroke="url(#a171)" stroke-width="3.3" d="M0 985.7l24.2-19.5 24.1-18.7 24.2-18.3 24.2-17.6 24.2-17.2M648 599.7l50.4-23 50.5-22.3 50.5-21.7"/>
<path transform="translate(599.4)" stroke="url(#a172)" stroke-width="3.3" d="M0 987.2l26-20.9 26-20.2 26-19.5 26.1-18.9 13-9.2M650.3 599.6l49.7-22.6 49.7-22 49.7-21.4"/>
<path transform="translate(601.1)" stroke="url(#a173)" stroke-width="3.3" d="M0 988.7l25.2-20.4 25.3-19.6 25.3-19 25.2-18.4 12.7-9.1M652.5 599.6l49-22.3 48.9-21.7 49-21"/>
<path transform="translate(602.8)" stroke="url(#a174)" stroke-width="3.3" d="M0 990.1l24.5-19.8 24.5-19.1 24.5-18.5 24.5-18 12.3-8.8M654.8 599.5l52.5-23.9 52.6-23.2 39.5-16.9"/>
<path transform="translate(604.5)" stroke="url(#a175)" stroke-width="3.3" d="M0 991.3l26.6-21.4 26.6-20.7 26.6-20 26.6-19.3M657 599.4l51.7-23.5 51.8-22.8 38.9-16.7"/>
<path transform="translate(606.2)" stroke="url(#a176)" stroke-width="3.3" d="M0 992.5l25.7-20.8 25.8-20 25.8-19.4 25.7-18.9M659.1 599.4l51-23.2 51-22.5 38.3-16.4"/>
<path transform="translate(607.9)" stroke="url(#a177)" stroke-width="3.3" d="M0 993.7l24.9-20.2 24.9-19.4 24.9-18.9 24.9-18.2M661.2 599.3l50.3-22.8 50.2-22.2 37.7-16.2"/>
<path transform="translate(609.6)" stroke="url(#a178)" stroke-width="3.3" d="M0 994.7l24.1-19.5 24-18.8 24.1-18.3 24-17.7M663.3 599.2l49.5-22.5 49.5-21.8 37.1-15.9"/>
<path transform="translate(611.3)" stroke="url(#a179)" stroke-width="3.3" d="M0 995.6l26.4-21.3 26.4-20.6 26.4-19.9 13.2-9.7M665.4 599.1l48.7-22.1 60.9-26.7 24.4-10.5"/>
<path transform="translate(613)" stroke="url(#a180)" stroke-width="3.3" d="M0 996.5l25.4-20.6 25.5-19.9 25.4-19.2 12.7-9.3M667.4 599l52.8-23.9 52.8-23.1 26.4-11.4"/>
<path transform="translate(614.7)" stroke="url(#a179)" stroke-width="3.3" d="M0 997.2l24.5-19.7 24.4-19.2 24.5-18.5 12.2-9.1M669.4 598.8l52-23.4 52-22.8 26-11.2"/>
<path transform="translate(616.4)" stroke="url(#a178)" stroke-width="3.3" d="M0 997.9l23.4-18.9 23.3-18.3 23.4-17.8 11.7-8.7M671.4 598.7l51.2-23.1 51.2-22.4 25.6-11"/>
<path transform="translate(618.1)" stroke="url(#a177)" stroke-width="3.3" d="M0 998.5l26.1-21.1 26.1-20.3 26.2-19.7M673.3 598.6l50.4-22.7 50.5-22.1 25.2-10.8"/>
<path transform="translate(619.8)" stroke="url(#a176)" stroke-width="3.3" d="M0 999l25-20.2 25-19.5 25-18.8M675.2 598.5l49.7-22.4 49.7-21.7 24.8-10.7"/>
<path transform="translate(621.5)" stroke="url(#a175)" stroke-width="3.3" d="M0 999.4l23.7-19.1 23.7-18.6 23.7-17.9M677 598.3l49-22 61.2-26.6 12.2-5.2"/>
<path transform="translate(623.2)" stroke="url(#a174)" stroke-width="3.3" d="M0 999.8l22.6-18.3 22.6-17.6 22.5-17.2M678.9 598.2l48.2-21.6 60.3-26.3 12-5.1"/>
<path transform="translate(624.9)" stroke="url(#a173)" stroke-width="3.3" d="M0 1000l25.7-20.7 25.8-20 12.8-9.7M680.6 598l52.8-23.6 52.8-22.9 13.2-5.6"/>
<path transform="translate(626.6)" stroke="url(#a172)" stroke-width="3.3" d="M0 1000.1l24.2-19.4 24.2-18.8 12.1-9.2M682.4 597.9l52-23.2 52-22.6 13-5.6"/>
<path transform="translate(628.3)" stroke="url(#a171)" stroke-width="3.3" d="M0 1000.2l22.9-18.3 22.8-17.8 11.4-8.7M684.1 597.7l51.3-22.8 51.2-22.2 12.8-5.5"/>
<path transform="translate(630)" stroke="url(#a170)" stroke-width="3.3" d="M0 1000.2l21.5-17.2 32.2-25M685.8 597.6l50.5-22.5 50.5-21.9 12.6-5.3"/>
<path transform="translate(631.7)" stroke="url(#a169)" stroke-width="3.3" d="M0 1000.1l24.9-19.9 25-19.3M687.4 597.4l49.8-22.1 62.2-26.8"/>
<path transform="translate(633.4)" stroke="url(#a168)" stroke-width="3.3" d="M0 999.9l23.2-18.5 23.3-18M689.1 597.2l49-21.7 61.3-26.4"/>
<path transform="translate(635.1)" stroke="url(#a167)" stroke-width="3.3" d="M0 999.6l21.5-17.1 21.6-16.7M690.6 597l60.5-26.6 48.3-20.7"/>
<path transform="translate(636.8)" stroke="url(#a166)" stroke-width="3.3" d="M0 999.2l26.4-20.9 13.2-10.2M692.2 596.9l59.6-26.2 47.6-20.4"/>
<path transform="translate(638.6)" stroke="url(#a165)" stroke-width="3.3" d="M-.1 998.8l23.9-18.9 11.9-9.2M693.6 596.7l52.9-23.3 52.8-22.5"/>
<path transform="translate(640.3)" stroke="url(#a164)" stroke-width="3.3" d="M0 998.3l32.3-25.4M695.1 596.5l52.1-22.9 52.2-22.2"/>
<path transform="translate(642)" stroke="url(#a163)" stroke-width="3.3" d="M0 997.6l28.9-22.7M696.6 596.3l51.4-22.5 51.4-21.9"/>
<path transform="translate(643.7)" stroke="url(#a162)" stroke-width="3.3" d="M0 996.9l25.1-19.6M698 596.1l50.7-22.1 50.7-21.5"/>
<path transform="translate(645.4)" stroke="url(#a161)" stroke-width="3.3" d="M0 996.2l21.7-17M699.4 595.9l50-21.8 50-21.1"/>
<path transform="translate(647.1)" stroke="url(#a160)" stroke-width="3.3" d="M0 995.3l18.3-14.3M700.7 595.7l61.7-26.7 37-15.6"/>
<path transform="translate(648.8)" stroke="url(#a159)" stroke-width="3.3" d="M0 994.3l14.4-11.2M702.1 595.5l60.8-26.2 36.5-15.4"/>
<path transform="translate(650.5)" stroke="url(#a158)" stroke-width="3.3" d="M0 993.3l11-8.6M703.3 595.3l60.1-25.8 36-15.1"/>
<path transform="translate(652.2)" stroke="url(#a157)" stroke-width="3.3" d="M0 992.2l7.6-6M704.6 595.1l59.2-25.4 35.6-14.9"/>
<path transform="translate(653.9)" stroke="url(#a156)" stroke-width="3.3" d="M0 991l4.2-3.3M705.8 594.9l58.5-25 35.1-14.7"/>
<path transform="translate(655.6)" stroke="url(#a155)" stroke-width="3.3" d="M0 989.7l1.3-1M707 594.6l52.8-22.5 39.6-16.5"/>
<path transform="translate(657.3)" stroke="url(#a154)" stroke-width="3.3" d="M0 988.4l25.2-19.1 12.6-9.2M708.2 594.4l52.1-22.1 39.1-16.3"/>
<path transform="translate(659)" stroke="url(#a153)" stroke-width="3.3" d="M0 986.9l23.9-18 24-17.4 23.9-16.9M709.3 594.2l64.4-27.2 25.7-10.6"/>
<path transform="translate(660.7)" stroke="url(#a152)" stroke-width="3.3" d="M0 985.4l25.8-19.2 25.7-18.6 25.8-18 25.7-17.5M710.4 594l63.6-26.8 25.4-10.4"/>
<path transform="translate(662.4)" stroke="url(#a151)" stroke-width="3.3" d="M0 983.8l26.4-19.5 26.4-19 26.4-18.3 26.3-17.7 26.4-17.3M711.5 593.8l62.8-26.4 25.1-10.3"/>
<path transform="translate(664.1)" stroke="url(#a150)" stroke-width="3.3" d="M0 982.2l26.5-19.5 26.4-18.9 26.5-18.3 26.5-17.7 26.4-17.1 26.5-16.8M712.5 593.5l62.1-25.9 24.8-10.2"/>
<path transform="translate(665.8)" stroke="url(#a149)" stroke-width="3.3" d="M0 980.4l26.3-19.2 26.3-18.6 26.2-18.1 26.3-17.4 39.4-25.3 39.4-24.3M713.5 593.3l61.4-25.5 24.5-10"/>
<path transform="translate(667.5)" stroke="url(#a148)" stroke-width="3.3" d="M0 978.6l26-18.9 25.9-18.2 25.9-17.7 26-17.2 38.9-24.9 38.9-23.9 26-15.4M714.5 593.1l60.7-25.2 24.2-9.8"/>
<path transform="translate(669.2)" stroke="url(#a147)" stroke-width="3.3" d="M0 976.7l25.5-18.4 25.6-17.9 25.5-17.3 25.5-16.9 38.3-24.3 38.4-23.5 38.3-22.6 12.7-7.3M715.5 592.8l59.9-24.7 24-9.7"/>
<path transform="translate(670.9)" stroke="url(#a146)" stroke-width="3.3" d="M0 974.8l26.4-19 26.4-18.3 26.4-17.8 26.4-17.2 39.6-24.9 39.6-24 39.6-23.1 26.4-14.9M716.4 592.6l59.3-24.4 23.7-9.6"/>
<path transform="translate(672.6)" stroke="url(#a145)" stroke-width="3.3" d="M0 972.7l25.8-18.4 25.8-17.7 25.8-17.3 38.7-24.9 38.6-24 38.7-23 38.7-22.3 38.7-21.5M717.3 592.4l58.6-24.1 23.5-9.4"/>
<path transform="translate(674.3)" stroke="url(#a144)" stroke-width="3.3" d="M0 970.6l26.4-18.6 26.3-18 26.3-17.5 26.3-16.9 39.5-24.6 39.5-23.5 39.5-22.8 39.5-22 26.4-14.2M718.1 592.1l58.1-23.7 23.2-9.3"/>
<path transform="translate(676)" stroke="url(#a143)" stroke-width="3.3" d="M0 968.4l25.7-18 25.6-17.4 25.6-16.9 38.5-24.4 38.4-23.5 38.5-22.7 38.4-21.8 38.5-21.2 38.4-20.5M718.9 591.9l57.5-23.4 23-9.1"/>
<path transform="translate(677.7)" stroke="url(#a142)" stroke-width="3.3" d="M0 966.2l26-18.1 26-17.5 26-17 38.9-24.6 39-23.6 39-22.7 38.9-21.9 39-21.2 39-20.6 13-6.8M719.7 591.7l66.4-26.8 13.3-5.3"/>
<path transform="translate(679.4)" stroke="url(#a141)" stroke-width="3.3" d="M0 963.9l26.3-18.1 26.2-17.6 26.2-17 39.4-24.6 39.3-23.6 39.4-22.7 39.3-22 39.4-21.2 39.3-20.6 26.3-13.5M720.5 591.4l65.8-26.4 13.1-5.2"/>
<path transform="translate(681.1)" stroke="url(#a140)" stroke-width="3.3" d="M0 961.5l26.4-18.1 26.5-17.5 26.4-17 39.6-24.5 39.6-23.6 39.7-22.7 39.6-21.9 39.6-21.3 39.6-20.5 39.7-20M721.2 591.2l65.2-26.1 13-5.1"/>
<path transform="translate(682.8)" stroke="url(#a139)" stroke-width="3.3" d="M0 959l26.6-18 26.5-17.4 26.5-16.9 39.9-24.5 39.8-23.4 39.8-22.7 39.8-21.8 39.8-21.1 39.8-20.6 39.8-19.9 13.2-6.5M721.9 591l64.6-25.8 12.9-5"/>
<path transform="translate(684.5)" stroke="url(#a138)" stroke-width="3.3" d="M0 956.5l26.6-17.9 26.6-17.3 26.7-16.8 39.9-24.3 39.9-23.3 39.9-22.5 39.9-21.8 39.9-21 39.9-20.4 39.9-19.8 26.6-13M722.6 590.7l64-25.4 12.8-5"/>
<path transform="translate(686.2)" stroke="url(#a137)" stroke-width="3.3" d="M0 953.9l26.7-17.7 26.6-17.2 26.6-16.6 40-24.2 39.9-23.1 39.9-22.4 40-21.5 39.9-20.9 40-20.3 39.9-19.7 39.9-19.2M723.2 590.5l63.5-25.1 12.7-4.9"/>
<path transform="translate(687.9)" stroke="url(#a136)" stroke-width="3.3" d="M0 951.3l26.7-17.6 26.6-17 26.6-16.5 39.9-23.9 39.9-22.9 39.9-22.2 40-21.4 39.9-20.7 39.9-20.1 39.9-19.6 53.2-25.3M723.8 590.2l63-24.7 12.6-4.9"/>
<path transform="translate(689.7)" stroke="url(#a135)" stroke-width="3.3" d="M0 948.6l26.5-17.4 26.6-16.8 26.5-16.3 39.9-23.7 39.8-22.7 39.9-21.9 39.8-21.2 39.9-20.5 39.8-20 39.9-19.3 53.1-25.1 13.3-6.2M724.3 590l62.5-24.4 12.6-4.8"/>
<path transform="translate(691.4)" stroke="url(#a134)" stroke-width="3.3" d="M0 945.8l26.4-17.1 26.5-16.6 39.8-24.1 39.7-23 39.7-22.2 39.8-21.4 39.7-20.8 39.7-20.1 39.8-19.5 52.9-25.3 53-24.5M724.8 589.8l62.1-24.2 12.5-4.7"/>
<path transform="translate(693.1)" stroke="url(#a133)" stroke-width="3.3" d="M0 943l26.3-16.9 26.4-16.4 39.6-23.7 39.6-22.8 39.6-21.9 39.6-21.1 39.6-20.5 39.6-19.9 39.5-19.4 52.8-25 52.8-24.2 13.2-6M725.3 589.5l61.7-23.8 12.4-4.7"/>
<path transform="translate(694.8)" stroke="url(#a132)" stroke-width="3.3" d="M0 940.1l26.2-16.7 26.3-16.1 39.4-23.4 39.4-22.4 39.4-21.6 39.4-20.9 39.4-20.3 39.4-19.7 39.5-19.1 52.5-24.7 52.5-24 26.3-11.7M725.8 589.3l61.3-23.6 12.3-4.6"/>
<path transform="translate(696.5)" stroke="url(#a131)" stroke-width="3.3" d="M0 937.1l26.1-16.4 39.2-23.6 39.2-22.7 39.2-21.9 39.2-21 39.2-20.4 39.2-19.8 39.2-19.3 52.3-24.8 52.3-24.1 52.2-23.3 13.1-5.7M726.3 589l73.1-27.8"/>
<path transform="translate(698.2)" stroke="url(#a130)" stroke-width="3.3" d="M0 934.1l26-16.1 38.9-23.3 39-22.3 39-21.5 39-20.8 38.9-20.1 39-19.5 39-19 52-24.5 51.9-23.8 52-23 26-11.3M726.7 588.8l72.7-27.6"/>
<path transform="translate(699.9)" stroke="url(#a129)" stroke-width="3.3" d="M0 931l26.5-16.2 39.8-23.5 39.7-22.5 39.8-21.7 39.8-20.9 39.8-20.3 39.8-19.6 39.7-19.1 53.1-24.8 53-23.9 53.1-23.2 26.5-11.4M727.1 588.6l72.3-27.3"/>
<path transform="translate(701.6)" stroke="url(#a128)" stroke-width="3.3" d="M0 927.9l26.3-15.9 39.5-23.1 39.5-22.1 39.4-21.3 39.5-20.6 39.5-19.9 39.5-19.4 52.6-24.9 52.7-24.2 52.6-23.4 52.7-22.8 26.3-11.1M727.5 588.3l71.9-26.9"/>
<path transform="translate(703.3)" stroke="url(#a127)" stroke-width="3.3" d="M0 924.7l39.2-23.2 39.1-22.3 39.2-21.4 39.2-20.7 39.2-20.1 39.1-19.4 39.2-18.8 52.2-24.4 52.3-23.7 52.2-22.9 52.3-22.3 26.1-10.9M727.8 588.1l71.6-26.7"/>
<path transform="translate(705)" stroke="url(#a126)" stroke-width="3.3" d="M0 921.5l26.6-15.7 39.8-22.7 39.9-21.8 39.8-21 39.9-20.3 39.8-19.7 39.9-19.1 53.1-24.7 53.2-24 53.1-23.2 53.2-22.5 39.8-16.5M728.1 587.9l71.3-26.5"/>
<path transform="translate(706.7)" stroke="url(#a125)" stroke-width="3.3" d="M0 918.2l39.5-22.8 39.5-22 39.5-21.1 39.5-20.3 39.5-19.8 39.5-19.1 52.6-24.7 52.7-23.9 52.7-23.2 52.6-22.5 65.9-27.3 13.1-5.4M728.4 587.6l71-26.1"/>
<path transform="translate(708.4)" stroke="url(#a124)" stroke-width="3.3" d="M0 914.9l39.1-22.4 39.2-21.4 39.1-20.7 39.1-20 39.2-19.3 39.1-18.8 52.2-24.3 52.2-23.5 52.1-22.8 52.2-22.2 65.2-26.9 26.1-10.5M728.6 587.4l70.8-25.9"/>
<path transform="translate(710.1)" stroke="url(#a123)" stroke-width="3.3" d="M0 911.5l39.7-22.4 39.7-21.4 39.7-20.7 39.7-20 39.8-19.4 39.7-18.9 52.9-24.3 53-23.5 52.9-22.9 53-22.2 66.2-27 26.4-10.5M728.8 587.2l70.6-25.7"/>
<path transform="translate(711.8)" stroke="url(#a122)" stroke-width="3.3" d="M0 908.1l39.3-21.9 39.3-21 39.3-20.2 39.3-19.6 39.3-19 39.4-18.5 52.4-23.8 52.4-23.1 52.4-22.5 65.5-27.2 65.5-26.4 26.2-10.3M729 586.9l70.4-25.4"/>
<path transform="translate(713.5)" stroke="url(#a121)" stroke-width="3.3" d="M0 904.6l39.8-21.8 39.9-21 39.8-20.2 39.8-19.6 39.9-19 53.1-24.5 53.1-23.7 53.1-22.9 53.1-22.3 66.4-27.1 66.4-26.3 13.3-5.1M729.1 586.7l70.3-25.3"/>
<path transform="translate(715.2)" stroke="url(#a120)" stroke-width="3.3" d="M0 901.1l39.4-21.3 39.4-20.5 39.4-19.7 39.4-19.2 39.4-18.6 52.6-24 52.5-23.2 52.5-22.5 52.6-21.9 65.6-26.6 65.7-25.8 26.3-10.1M729.3 586.5l70.1-25.1"/>
<path transform="translate(716.9)" stroke="url(#a119)" stroke-width="3.3" d="M0 897.5l39.9-21.2 39.9-20.4 39.8-19.7 39.9-19.1 39.9-18.6 53.2-23.9 53.1-23.2 53.2-22.5 66.5-27.3 66.4-26.4 66.5-25.7 13.3-5.1M729.3 586.2l70.1-24.8"/>
<path transform="translate(718.6)" stroke="url(#a118)" stroke-width="3.3" d="M0 893.9l39.4-20.6 39.4-20 39.5-19.2 39.4-18.7 52.6-24 52.5-23.2 52.6-22.6 52.5-21.9 65.7-26.5 65.7-25.9 65.7-25.1 13.2-4.9M729.4 586l70-24.7"/>
<path transform="translate(720.3)" stroke="url(#a117)" stroke-width="3.3" d="M0 890.3l39.9-20.6 39.8-19.8 39.9-19.2 39.8-18.6 53.2-23.9 53.1-23.2 53.1-22.5 53.2-21.8 66.4-26.6 66.4-25.8 66.4-25.1 13.3-4.9M729.4 585.8l70-24.5"/>
<path transform="translate(722)" stroke="url(#a116)" stroke-width="3.3" d="M0 886.6l39.4-20 39.4-19.3 39.3-18.7 39.4-18.1 52.5-23.4 52.5-22.7 52.5-22 65.6-26.6 65.7-25.9 65.6-25.1 78.7-29.4M729.4 585.6l70-24.4"/>
<path transform="translate(723.7)" stroke="url(#a115)" stroke-width="3.3" d="M0 882.9l39.8-19.9 39.8-19.2 39.7-18.6 39.8-18 53-23.3 53-22.6 53.1-21.9 66.2-26.5 66.3-25.8 66.3-25.1 79.5-29.4M729.4 585.3l70-24.1"/>
<path transform="translate(725.4)" stroke="url(#a114)" stroke-width="3.3" d="M0 879.1l39.3-19.3 39.3-18.7 39.2-18 52.4-23.4 52.4-22.5 52.3-21.9 65.5-26.5 65.4-25.7 65.5-25 78.5-29.1 52.4-19M729.3 585.1l70.1-24"/>
<path transform="translate(727.1)" stroke="url(#a113)" stroke-width="3.3" d="M0 875.3l39.7-19.1 39.6-18.6 39.6-17.9 52.8-23.2 52.9-22.4 52.8-21.7 66.1-26.4 66-25.6 66.1-24.9 79.2-29.1 52.9-19M729.2 584.9l70.2-23.9"/>
<path transform="translate(728.8)" stroke="url(#a112)" stroke-width="3.3" d="M0 871.5l39.1-18.6 39.2-18 52.1-23.2 52.2-22.3 52.2-21.7 65.2-26.3 65.2-25.4 65.2-24.8 78.2-28.9 78.2-28.1 26.1-9.3M729.1 584.7l70.3-23.8"/>
<path transform="translate(730.5)" stroke="url(#a111)" stroke-width="3.3" d="M0 867.6l39.5-18.4 39.4-17.8 52.6-23 52.6-22.2 52.6-21.5 65.7-26.1 65.8-25.3 65.7-24.7 78.9-28.8 78.9-28 26.3-9.2M729 584.5l70.4-23.7"/>
<path transform="translate(732.2)" stroke="url(#a110)" stroke-width="3.3" d="M0 863.7l39.8-18.2 39.7-17.6 53-22.8 53.1-22 53-21.4 66.2-25.9 66.3-25.2 66.2-24.5 79.5-28.7 79.5-27.9 26.6-9.2M728.8 584.3l70.6-23.5"/>
<path transform="translate(733.9)" stroke="url(#a109)" stroke-width="3.3" d="M0 859.8l39.3-17.6 52.2-22.7 52.3-21.9 52.3-21.3 65.4-25.7 65.4-25 65.3-24.3 78.5-28.4 78.4-27.7 78.4-27.1M728.6 584l70.8-23.4"/>
<path transform="translate(735.6)" stroke="url(#a108)" stroke-width="3.3" d="M0 855.8l39.5-17.4 52.7-22.4 52.7-21.7 52.6-21 65.9-25.6 65.8-24.7 79-29 79-28.1 92.2-32 52.6-17.9M728.3 583.8l71.1-23.3"/>
<path transform="translate(737.3)" stroke="url(#a107)" stroke-width="3.3" d="M0 851.9l39.8-17.2 53-22.2 53.1-21.4 66.2-26 66.3-25.1 66.3-24.5 79.6-28.6 79.5-27.9 92.8-31.7 39.8-13.3M728 583.6l71.4-23.2"/>
<path transform="translate(739)" stroke="url(#a106)" stroke-width="3.3" d="M0 847.9l52.3-22.1 52.3-21.3 52.3-20.6 65.3-25 65.4-24.4 78.4-28.3 78.5-27.7 91.4-31.4 91.5-30.8 13.1-4.3M727.7 583.4l71.7-23.1"/>
<path transform="translate(740.8)" stroke="url(#a105)" stroke-width="3.3" d="M0 843.8l52.6-21.7 52.6-21 65.7-25.4 65.8-24.6 65.7-24 79-28 92-31.8 92.1-31.1 78.9-26.1M727.3 583.2l72.1-23"/>
<path transform="translate(742.5)" stroke="url(#a104)" stroke-width="3.3" d="M0 839.8l52.9-21.4 52.9-20.7 66.1-25.1 66.2-24.3 79.4-28.4 79.3-27.7 92.7-31.5 92.6-30.8 66.1-21.6M726.9 583l72.5-22.9"/>
<path transform="translate(744.2)" stroke="url(#a103)" stroke-width="3.3" d="M0 835.7l53.2-21 53.2-20.4 66.5-24.8 66.5-24 79.9-28.2 93.1-31.9 93.1-31.1 106.4-34.8 40-12.9M726.5 582.8l72.9-22.9"/>
<path transform="translate(745.9)" stroke="url(#a102)" stroke-width="3.2" d="M0 831.6l52.4-20.3 65.5-24.5 65.6-23.8 78.6-27.8 78.7-27.1 91.7-30.8 104.9-34.5 118-37.8M726.1 582.6l73.3-22.8"/>
<path transform="translate(747.6)" stroke="url(#a101)" stroke-width="3.2" d="M0 827.5l65.5-24.7 65.6-23.9 78.7-27.8 78.6-27.1 91.8-30.8 104.9-34.5 118.1-37.8 52.4-16.6M725.6 582.5l73.8-22.8"/>
<path transform="translate(749.3)" stroke="url(#a100)" stroke-width="3.2" d="M0 823.4l65.4-24.1 65.3-23.3 78.5-27.3 91.6-30.9 91.5-30.2 104.6-33.8 117.7-37.2 39.3-12.3M725.1 582.3l74.3-22.8"/>
<path transform="translate(751)" stroke="url(#a99)" stroke-width="3.2" d="M0 819.2l66.5-23.9 79.9-27.8 79.8-27 93.1-30.8 106.5-34.4 119.8-37.9 106.4-33.1M724.6 582.1l74.8-22.7"/>
<path transform="translate(752.7)" stroke="url(#a98)" stroke-width="3.2" d="M0 815.1l66.3-23.3 79.6-27.1 92.9-30.8 106.2-34.4 119.4-37.7 132.7-41.2 53.1-16.2M724 581.9l75.4-22.7"/>
<path transform="translate(754.4)" stroke="url(#a97)" stroke-width="3.2" d="M0 810.9l79.4-27.1 92.6-30.6 105.8-34.2 119.1-37.5 132.3-40.9 119-36.2M723.5 581.7l75.9-22.6"/>
<path transform="translate(756.1)" stroke="url(#a96)" stroke-width="3.2" d="M0 806.7l79.1-26.3 92.3-29.9 105.5-33.4 131.9-40.9 145.1-44.1 92.3-27.7M722.8 581.6l76.6-22.7"/>
<path transform="translate(757.8)" stroke="url(#a95)" stroke-width="3.2" d="M0 802.5l92-29.7 105.2-33.1 131.4-40.6 144.7-43.8 170.9-50.9M722.2 581.4l77.2-22.6"/>
<path transform="translate(759.5)" stroke="url(#a94)" stroke-width="3.2" d="M0 798.3l104.8-32.9 117.9-36.2 144.2-43.4 170.3-50.6 104.8-30.8M721.5 581.2l77.9-22.6"/>
<path transform="translate(761.2)" stroke="url(#a93)" stroke-width="3.1" d="M0 794.1l117.5-35.8 143.7-43 182.8-53.9 195.9-57M720.8 581.1l78.6-22.7"/>
<path transform="translate(762.9)" stroke="url(#a92)" stroke-width="3.1" d="M0 789.9l159.4-47.1 199.3-58.1 252.4-72.6 26.5-7.6M720 580.9l79.4-22.6"/>
<path transform="translate(764.6)" stroke="url(#a91)" stroke-width="3.1" d="M0 785.7l238.2-68.4 330.9-94.1 66.2-18.7M719.3 580.8l80.1-22.7"/>
<path transform="translate(766.3)" stroke="url(#a90)" stroke-width="3.1" d="M0 781.5l632.9-177M718.4 580.6l81-22.6"/>
<path transform="translate(768)" stroke="url(#a89)" stroke-width="3.1" d="M0 777.3l236.4-64.4 328.4-90.2 65.7-18.2"/>
<path transform="translate(769.7)" stroke="url(#a88)" stroke-width="3.1" d="M0 773l157-41.3 196.2-52.6 248.6-67.4 26.2-7.1"/>
<path transform="translate(771.4)" stroke="url(#a87)" stroke-width="3.1" d="M0 768.8l119.8-30.4 146.3-38.1 186.3-49.3 173-46.4"/>
<path transform="translate(773.1)" stroke="url(#a86)" stroke-width="3.1" d="M0 764.6l106-26 119.3-30.1 145.7-37.5 172.3-45.2 79.5-21.1"/>
<path transform="translate(774.8)" stroke="url(#a85)" stroke-width="3.1" d="M0 760.4l92.4-21.8 105.5-25.8 118.7-29.7 145.1-37.1 158.4-41.3"/>
<path transform="translate(776.5)" stroke="url(#a84)" stroke-width="3.1" d="M0 756.2l78.8-17.9 91.9-21.6 105.1-25.5 118.2-29.4 144.5-36.7 78.8-20.4"/>
<path transform="translate(778.2)" stroke="url(#a83)" stroke-width="3" d="M0 752.1l78.5-17.2 91.5-20.8 104.5-24.7 117.7-28.7 130.7-32.6 91.5-23.3"/>
<path transform="translate(779.9)" stroke="url(#a82)" stroke-width="3" d="M0 747.9l66.5-13.9 79.7-17.4 93.1-21.2 106.3-25.1 119.7-29 132.9-33.1 13.3-3.4"/>
<path transform="translate(781.6)" stroke="url(#a81)" stroke-width="3" d="M0 743.7l66.2-13.2 66.1-13.9 79.4-17.4 92.5-21 105.9-24.9 119-28.8 79.4-19.6"/>
<path transform="translate(783.3)" stroke="url(#a80)" stroke-width="3" d="M0 739.6l65.8-12.6 65.8-13.3 79-16.8 92.1-20.4 92.1-21.1 105.3-24.9 105.3-25.5"/>
<path transform="translate(785)" stroke="url(#a79)" stroke-width="3" d="M0 735.5l52.4-9.5 65.5-12.6 65.4-13.3 78.5-16.6 91.7-20.3 91.6-20.9 104.7-24.7 52.4-12.6"/>
<path transform="translate(786.7)" stroke="url(#a78)" stroke-width="3" d="M0 731.3l53.3-9.1 66.5-12.4 66.6-13 79.8-16.5 79.9-17.2 93.1-20.8 106.5-24.6 53.2-12.6"/>
<path transform="translate(788.4)" stroke="url(#a77)" stroke-width="3" d="M0 727.3l53-8.7 52.9-9.3 66.2-12.4 66.2-13.1 79.4-16.4 79.4-17.1 92.6-20.7 105.9-24.5"/>
<path transform="translate(790.1)" stroke="url(#a76)" stroke-width="3" d="M0 723.2l52.7-8.2 52.6-8.8 65.8-11.9 65.8-12.5 79-15.9 78.9-16.6 92.1-20.2 92.1-20.9 13.2-3"/>
<path transform="translate(791.8)" stroke="url(#a75)" stroke-width="3" d="M.1 719.1l52.3-7.6 52.3-8.4 52.3-9 65.4-11.9 65.4-12.6 78.5-15.9 78.5-16.6 91.6-20 52.3-11.8"/>
<path transform="translate(793.6)" stroke="url(#a74)" stroke-width="2.9" d="M0 715.1l39.8-5.4 53.2-8 53.2-8.6 66.5-11.5 66.5-12.4 66.5-13 79.8-16.3 79.7-17 79.8-17.6"/>
<path transform="translate(795.3)" stroke="url(#a73)" stroke-width="2.9" d="M0 711.1l39.6-5.1 52.9-7.4 52.8-8.2 52.9-8.8 66-11.7 66.1-12.4 79.3-15.7 79.3-16.4 92.4-20"/>
<path transform="translate(797)" stroke="url(#a72)" stroke-width="2.9" d="M0 707.1l39.3-4.7 39.4-5.1 52.5-7.6 52.5-8.2 65.7-11.1 65.6-11.8 65.7-12.5 78.7-15.7 78.8-16.5 39.4-8.4"/>
<path transform="translate(798.7)" stroke="url(#a71)" stroke-width="2.9" d="M0 703.2l39.1-4.3 39.1-4.9 52.2-7.1 52.1-7.8 52.2-8.4 65.2-11.2 65.2-12 78.2-15.1 78.3-15.9 52.1-11"/>
<path transform="translate(800.4)" stroke="url(#a70)" stroke-width="2.9" d="M0 699.2l39.7-4 39.8-4.6 39.7-5.1 53-7.4 53-8.1 66.3-11 66.3-11.7 66.2-12.4 79.5-15.7 66.3-13.6"/>
<path transform="translate(802.1)" stroke="url(#a69)" stroke-width="2.9" d="M0 695.3l39.4-3.6 39.5-4.3 39.5-4.7 52.6-7.1 52.6-7.7 52.7-8.3 65.8-11.2 65.7-11.8 65.8-12.5 79-15.7 13.1-2.7"/>
<path transform="translate(803.8)" stroke="url(#a68)" stroke-width="2.9" d="M0 691.5l39.2-3.3 39.1-3.9 39.2-4.5 52.3-6.6 52.2-7.3 52.2-8 65.4-10.7 65.3-11.4 65.3-12.1 78.3-15.3 13.1-2.6"/>
<path transform="translate(805.5)" stroke="url(#a67)" stroke-width="2.9" d="M0 687.6l39.8-3 39.8-3.7 39.8-4.2 39.8-4.7 53.1-7 53.1-7.7 53.1-8.3 66.3-11.1 66.4-11.8 66.3-12.5 39.8-7.7"/>
<path transform="translate(807.2)" stroke="url(#a66)" stroke-width="2.9" d="M0 683.8l39.5-2.6 39.5-3.4 39.5-3.9 39.5-4.4 52.7-6.6 52.6-7.3 52.7-7.9 65.8-10.7 65.9-11.4 65.8-12.1 39.5-7.6"/>
<path transform="translate(808.9)" stroke="url(#a65)" stroke-width="2.9" d="M0 680.1l39.2-2.3 39.1-3 39.2-3.6 39.2-4.1 52.3-6.3 52.2-6.9 52.2-7.6 65.3-10.2 65.4-11.1 65.3-11.7 39.1-7.3"/>
<path transform="translate(810.6)" stroke="url(#a64)" stroke-width="2.8" d="M0 676.4l39.8-2.1 39.8-2.7 39.8-3.4 39.8-4 39.8-4.4 53.1-6.7 53.1-7.3 53-7.9 66.4-10.7 66.3-11.5 53.1-9.6"/>
<path transform="translate(812.3)" stroke="url(#a63)" stroke-width="2.8" d="M0 672.7l39.5-1.7 39.4-2.5 39.5-3 39.4-3.7 39.5-4.1 52.6-6.3 52.6-7 52.7-7.6 65.7-10.2 65.8-11.1 52.6-9.3"/>
<path transform="translate(814)" stroke="url(#a62)" stroke-width="2.8" d="M0 669l39.1-1.3 39.1-2.1 39.1-2.8 39.1-3.4 39.2-3.8 52.1-5.9 52.2-6.6 52.1-7.3 65.2-9.9 65.2-10.6 52.1-9.1"/>
<path transform="translate(815.7)" stroke="url(#a61)" stroke-width="2.8" d="M0 665.4l39.7-1.1 39.7-1.8 39.8-2.6 39.7-3.2 39.7-3.7 39.7-4.2 53-6.4 53-7 52.9-7.6 66.2-10.4 66.2-11.1"/>
<path transform="translate(817.4)" stroke="url(#a60)" stroke-width="2.8" d="M0 661.9l39.3-.8 39.4-1.5 39.3-2.3 39.4-2.9 39.3-3.4 39.4-4 52.4-5.9 52.5-6.7 52.5-7.3 65.5-10 65.6-10.7"/>
<path transform="translate(819.1)" stroke="url(#a59)" stroke-width="2.8" d="M0 658.3l26.6-.2 40-1 40-1.8 39.9-2.5 40-3.1 39.9-3.7 40-4.2 53.3-6.2 53.3-7 53.3-7.5 66.6-10.3 26.6-4.3"/>
<path transform="translate(820.8)" stroke="url(#a58)" stroke-width="2.8" d="M0 654.9l26.4 0 39.5-.7 39.6-1.6 39.5-2.2 39.6-2.8 39.6-3.4 39.5-3.9 52.8-5.9 52.7-6.6 52.7-7.2 52.8-7.8 39.5-6.3"/>
<path transform="translate(822.5)" stroke="url(#a57)" stroke-width="2.8" d="M0 651.4l26.1 .3 39.1-.5 39.2-1.2 39.1-1.9 39.2-2.5 39.1-3.2 39.2-3.6 52.1-5.5 52.2-6.3 52.2-6.9 52.2-7.5 39.2-6"/>
<path transform="translate(824.2)" stroke="url(#a56)" stroke-width="2.8" d="M0 648.1l26.5 .4 26.5 0 39.7-.7 39.8-1.6 39.7-2.1 39.7-2.8 39.8-3.4 39.7-3.9 53-5.8 53-6.5 53-7.2 52.9-7.8"/>
<path transform="translate(825.9)" stroke="url(#a55)" stroke-width="2.8" d="M0 644.7l26.2 .6 26.2 .2 39.3-.4 39.3-1.2 39.3-1.9 39.3-2.6 39.3-3 39.3-3.6 52.3-5.5 52.4-6.2 52.4-6.9 52.4-7.5"/>
<path transform="translate(827.6)" stroke="url(#a54)" stroke-width="2.8" d="M0 641.4l26.6 .9 26.6 .3 39.9-.2 39.9-1 39.9-1.7 39.8-2.4 39.9-3 39.9-3.5 53.2-5.4 53.2-6.2 53.1-6.9 39.9-5.5"/>
<path transform="translate(829.3)" stroke="url(#a53)" stroke-width="2.7" d="M0 638.2l26.3 1 26.3 .6 39.4 .1 39.4-.8 39.4-1.4 39.4-2.2 39.4-2.7 39.4-3.2 39.4-3.8 52.5-5.6 52.6-6.4 52.5-7"/>
<path transform="translate(831)" stroke="url(#a52)" stroke-width="2.7" d="M0 635l26 1.2 25.9 .8 38.9 .3 38.9-.4 38.9-1.3 39-1.8 38.9-2.5 38.9-2.9 38.9-3.5 51.9-5.3 51.9-6 51.9-6.7"/>
<path transform="translate(832.7)" stroke="url(#a51)" stroke-width="2.7" d="M0 631.9l26.3 1.4 26.4 .9 26.3 .5 39.5 0 39.4-.8 39.5-1.5 39.5-2.1 39.5-2.7 39.4-3.3 52.7-5.1 52.6-5.8 52.6-6.5"/>
<path transform="translate(834.4)" stroke="url(#a50)" stroke-width="2.7" d="M0 628.8l26 1.6 26 1.1 25.9 .7 39 .2 38.9-.5 39-1.2 38.9-1.9 39-2.5 38.9-3 51.9-4.7 52-5.5 51.9-6.1"/>
<path transform="translate(836.1)" stroke="url(#a49)" stroke-width="2.7" d="M0 625.8l26.4 1.8 26.3 1.3 26.3 .8 39.5 .5 39.5-.4 39.5-1.1 39.5-1.8 39.5-2.3 39.5-3 39.5-3.4 52.7-5.2 52.7-6"/>
<path transform="translate(837.8)" stroke="url(#a48)" stroke-width="2.7" d="M0 622.9l26 1.9 25.9 1.5 26 .9 38.9 .8 39-.2 38.9-.8 38.9-1.5 38.9-2.1 39-2.7 38.9-3.1 51.9-5 51.9-5.6"/>
<path transform="translate(839.5)" stroke="url(#a47)" stroke-width="2.7" d="M0 620l26.4 2.1 26.3 1.6 26.3 1.2 26.3 .7 39.5 .3 39.4-.4 39.5-1.2 39.5-1.8 39.5-2.4 39.4-3 39.5-3.4 52.6-5.3 13.2-1.4"/>
<path transform="translate(841.2)" stroke="url(#a46)" stroke-width="2.7" d="M0 617.2l25.9 2.2 26 1.8 25.9 1.3 25.9 .9 38.8 .6 38.9-.3 38.8-.9 38.9-1.6 38.8-2.1 38.9-2.7 38.8-3.1 51.8-5 13-1.3"/>
<path transform="translate(843)" stroke="url(#a45)" stroke-width="2.7" d="M0 614.4l26.2 2.5 26.3 1.9 26.2 1.5 26.3 1 39.3 .7 39.4 0 39.4-.8 39.4-1.5 39.4-2.1 39.3-2.6 39.4-3.1 52.5-4.9"/>
<path transform="translate(844.7)" stroke="url(#a44)" stroke-width="2.7" d="M0 611.7l26.6 2.6 26.6 2.2 26.6 1.6 26.6 1.1 26.6 .8 39.9 .3 40-.4 39.9-1.2 39.9-1.8 39.9-2.4 39.9-2.9 40-3.4 13.3-1.3"/>
<path transform="translate(846.4)" stroke="url(#a43)" stroke-width="2.7" d="M0 609l26.1 2.8 26.1 2.3 26.2 1.7 26.1 1.3 26.2 .9 39.2 .6 39.2-.2 39.2-.9 39.2-1.5 39.3-2.2 39.2-2.6 39.2-3.2 13.1-1.1"/>
<path transform="translate(848.1)" stroke="url(#a42)" stroke-width="2.7" d="M0 606.4l26.4 3 26.5 2.5 26.5 1.9 26.5 1.4 26.5 1 39.7 .8 39.8-.1 39.7-.8 39.7-1.5 39.8-2 39.7-2.7 39.7-3.1"/>
<path transform="translate(849.8)" stroke="url(#a41)" stroke-width="2.7" d="M0 603.9l25.9 3.1 26 2.6 26 2 26 1.6 26 1.1 38.9 1 39 .2 39-.6 38.9-1.2 39-1.8 39-2.3 38.9-2.9"/>
<path transform="translate(851.5)" stroke="url(#a40)" stroke-width="2.6" d="M0 601.5l26.3 3.3 26.3 2.7 26.3 2.2 26.3 1.7 26.3 1.3 39.5 1.1 39.4 .3 39.5-.5 39.4-1.1 39.5-1.8 39.5-2.3 26.3-1.8"/>
<path transform="translate(853.2)" stroke="url(#a39)" stroke-width="2.6" d="M0 599.1l26.6 3.5 26.7 2.9 26.6 2.3 26.6 1.9 26.7 1.3 26.6 1 40 .7 39.9-.1 40-.9 40-1.4 39.9-2.1 26.7-1.7"/>
<path transform="translate(854.9)" stroke="url(#a38)" stroke-width="2.6" d="M0 596.8l26 3.5 26.1 3 26 2.5 26.1 2 26 1.5 39.1 1.5 39.1 .6 39.1-.1 39.1-.8 39.1-1.4 39-2 13.1-.8"/>
<path transform="translate(856.6)" stroke="url(#a37)" stroke-width="2.6" d="M0 594.5l26.3 3.8 26.4 3.1 26.4 2.6 26.3 2.1 26.4 1.7 26.4 1.2 39.5 1 39.5 .2 39.6-.5 39.5-1.1 39.6-1.8 13.2-.7"/>
<path transform="translate(858.3)" stroke="url(#a36)" stroke-width="2.6" d="M0 592.3l25.7 3.9 25.7 3.2 25.8 2.7 25.7 2.2 25.7 1.7 25.7 1.4 38.6 1.2 38.6 .5 38.6-.2 38.6-.9 38.6-1.5 12.8-.6"/>
<path transform="translate(860)" stroke="url(#a35)" stroke-width="2.6" d="M0 590.2l26 4 26 3.4 26 2.9 26 2.3 26 1.8 26 1.5 39 1.4 39 .5 39-.1 39-.8 39-1.5"/>
<path transform="translate(861.7)" stroke="url(#a34)" stroke-width="2.6" d="M0 588.2l26.3 4.2 26.2 3.5 26.3 3 26.3 2.4 26.3 2 26.3 1.5 39.4 1.6 39.4 .6 39.4 0 39.4-.8 26.3-.9"/>
<path transform="translate(863.4)" stroke="url(#a33)" stroke-width="2.6" d="M0 586.2l26.6 4.4 26.5 3.7 26.6 3.1 26.5 2.6 26.6 2.1 26.6 1.6 26.5 1.2 39.9 1 39.8 .3 39.8-.5 26.6-.7"/>
<path transform="translate(865.1)" stroke="url(#a32)" stroke-width="2.6" d="M0 584.3l25.8 4.4 25.7 3.7 25.8 3.2 25.8 2.7 25.8 2.2 25.7 1.7 38.7 1.8 38.7 1.1 38.6 .2 38.7-.4 12.9-.3"/>
<path transform="translate(866.8)" stroke="url(#a31)" stroke-width="2.6" d="M0 582.5l26 4.5 26 3.9 26 3.3 26 2.8 26 2.3 26 1.8 26 1.4 39 1.4 39.1 .6 39-.1 13-.2"/>
<path transform="translate(868.5)" stroke="url(#a30)" stroke-width="2.6" d="M0 580.8l26.2 4.7 26.3 4 26.2 3.4 26.2 2.9 26.3 2.4 26.2 1.9 26.3 1.5 39.3 1.5 39.4 .7 39.3-.1"/>
<path transform="translate(870.2)" stroke="url(#a29)" stroke-width="2.6" d="M0 579.1l26.5 4.9 26.4 4.1 26.5 3.6 26.5 3 26.4 2.5 26.5 2 26.5 1.5 39.7 1.6 39.7 .8 26.4 .1"/>
<path transform="translate(871.9)" stroke="url(#a28)" stroke-width="2.6" d="M0 577.5l25.5 4.8 25.5 4.2 25.4 3.5 25.5 3.1 25.5 2.6 25.5 2.1 25.4 1.7 38.3 1.8 38.2 1 25.5 .3"/>
<path transform="translate(873.6)" stroke="url(#a27)" stroke-width="2.6" d="M0 576l25.6 4.9 25.7 4.3 25.6 3.7 25.6 3.2 25.7 2.6 25.6 2.2 25.6 1.8 38.5 1.9 38.4 1.1 12.8 .2"/>
<path transform="translate(875.3)" stroke="url(#a26)" stroke-width="2.6" d="M0 574.6l25.8 5 25.8 4.4 25.7 3.8 25.8 3.3 25.8 2.7 25.7 2.3 25.8 1.8 38.7 2 38.6 1.2"/>
<path transform="translate(877)" stroke="url(#a25)" stroke-width="2.6" d="M0 573.2l25.9 5.2 25.9 4.5 25.9 3.9 25.9 3.4 25.9 2.8 25.9 2.4 25.9 1.9 38.8 2.1 25.9 .9"/>
<path transform="translate(878.7)" stroke="url(#a24)" stroke-width="2.6" d="M0 572l26 5.2 26 4.7 26 4 26 3.4 26 2.9 26.1 2.5 26 1.9 39 2.2 13 .6"/>
<path transform="translate(880.4)" stroke="url(#a23)" stroke-width="2.5" d="M0 570.8l26.1 5.4 26.1 4.7 26.1 4.1 26.1 3.5 26.1 3 26.1 2.5 26.1 2.1 26.1 1.6 13 .7"/>
<path transform="translate(882.1)" stroke="url(#a22)" stroke-width="2.5" d="M0 569.6l26.2 5.6 26.1 4.8 26.2 4.2 26.1 3.6 26.2 3 26.2 2.6 26.1 2.1 26.2 1.7"/>
<path transform="translate(883.8)" stroke="url(#a21)" stroke-width="2.5" d="M0 568.6l26.2 5.6 26.2 4.9 26.2 4.3 26.2 3.7 26.2 3.1 26.1 2.7 26.2 2.2 13.1 .9"/>
<path transform="translate(885.5)" stroke="url(#a20)" stroke-width="2.5" d="M0 567.7l26.2 5.7 26.2 4.9 26.2 4.4 26.1 3.7 26.2 3.3 26.2 2.7 26.2 2.2"/>
<path transform="translate(887.2)" stroke="url(#a19)" stroke-width="2.5" d="M0 566.8l26.2 5.8 26.1 5 26.1 4.4 26.1 3.8 26.2 3.3 26.1 2.8 13 1.2"/>
<path transform="translate(888.9)" stroke="url(#a18)" stroke-width="2.5" d="M0 566l26.1 5.8 26 5.1 26 4.5 26 3.9 26 3.3 26 2.8"/>
<path transform="translate(890.6)" stroke="url(#a17)" stroke-width="2.5" d="M0 565.3l25.9 5.9 25.8 5.1 25.8 4.5 25.8 3.9 25.9 3.4 12.9 1.5"/>
<path transform="translate(892.3)" stroke="url(#a16)" stroke-width="2.5" d="M0 564.7l25.6 5.8 25.5 5.2 25.6 4.5 25.5 4 25.5 3.4"/>
<path transform="translate(894)" stroke="url(#a15)" stroke-width="2.5" d="M.1 564.2l25.1 5.8 25.1 5.1 25.1 4.6 25.1 4 12.6 1.8"/>
<path transform="translate(895.8)" stroke="url(#a14)" stroke-width="2.5" d="M0 563.7l24.5 5.8 24.5 5.1 24.6 4.5 24.5 4"/>
<path transform="translate(897.5)" stroke="url(#a13)" stroke-width="2.5" d="M0 563.3l23.7 5.7 23.6 5 23.7 4.4 11.9 2.1"/>
<path transform="translate(899.2)" stroke="url(#a12)" stroke-width="2.5" d="M0 563.1l22.4 5.4 22.5 4.8 22.5 4.3"/>
<path transform="translate(900.9)" stroke="url(#a11)" stroke-width="2.5" d="M0 562.9l25.8 6.2 25.9 5.5"/>
<path transform="translate(902.6)" stroke="url(#a10)" stroke-width="2.5" d="M0 562.8l23.8 5.7 11.9 2.7"/>
<path transform="translate(904.3)" stroke="url(#a9)" stroke-width="2.5" d="M0 562.7l19.5 4.9"/>
<path transform="translate(906)" stroke="url(#a8)" stroke-width="2.5" d="M0 562.8l12.7 3.2"/>
<path transform="translate(907.7)" stroke="url(#a7)" stroke-width="2.5" d="M0 563l9.7 2.4"/>
<path transform="translate(909.4)" stroke="url(#a6)" stroke-width="2.5" d="M0 563.2l6.4 1.6"/>
<path transform="translate(911.1)" stroke="url(#a5)" stroke-width="2.5" d="M0 563.5l3.4 .9"/>
<path stroke="url(#i30)" d="M912.6 563.9l-5.1-1-5.2-.1-5.1 .6-5.1 1.4-5.1 2.1-5.1 2.9-5.9 4.3-6 5.2-6 6.2-6.8 8.2-6.8 9.2-7.6 11.8-8.5 14.4-9.4 17.6-10.2 20.8-11.9 26.2-14.5 33.9-45.1 110.4-14.5 33.7-11.9 26-10.2 20.7-9.3 17.3-8.6 14.3-7.6 11.6-6.8 9.1-6.8 8-6 6-5.9 5-6 4.1-5.1 2.8-5.1 1.9-5.1 1.3-5.1 .4-5.1-.3-5.1-1.1-5.1-1.9-.9-.4"/>
<path stroke="url(#i31)" d="M930.3 569.2l-5.1 .3-5.1 1-5.1 1.7-5.1 2.4-6 3.8-5.9 4.6-6 5.6-6.8 7.4-6.8 8.4-7.7 10.8-8.5 13.4-9.4 16.2-10.2 19.4-11.9 24.5-14.5 31.7-46.8 107.8-14.5 31.7-11.9 24.4-10.2 19.4-9.4 16.2-8.5 13.3-7.6 10.7-6.9 8.5-6.8 7.3-5.9 5.6-4.3 3.4M669.6 976.4l-5 1.5-5 .8-5 .1-5-.5-5-1.3-5-2.1"/>
<path stroke="url(#i32)" d="M954.1 574.9l-5.1 .5-5.1 1.2-5.1 1.9-5.9 3.1-6 3.9-5.9 4.8-6.8 6.5-6.8 7.6-7.6 9.6-8.5 12.1-9.4 14.8-10.2 17.8-11 20.9-13.6 27.6-18.6 40-30.6 66.5-14.4 29.9-11.9 23.1-10.2 18.4-9.3 15.5-8.5 12.8-7.7 10.3-7.6 9.1-6.8 7-5.9 5.3-4.3 3.2M683.4 958.3l-4.9-.4-4.9-1-4.9-1.6-2.4-1.1"/>
<path stroke="url(#i33)" d="M977.8 579.9l-5.1 .8-5.1 1.4-6 2.5-6 3.3-5.9 4.2-6.8 5.8-6.8 6.7-7.7 8.7-7.7 9.9-8.5 12.2-9.4 14.8-11 19.1-12.8 23.8-16.2 32-38.3 78.4-14.5 28.3-11.9 21.8-10.2 17.3-9.4 14.5-8.5 12-7.7 9.6-7.6 8.5-6.8 6.5-6 4.8-2.5 1.8M697.3 936l-4.4-1.9"/>
<path stroke="url(#i34)" d="M1001.4 584.4l-5.1 1-5.9 1.9-6 2.8-5.9 3.5-6 4.3-6.8 5.9-6.8 6.8-7.7 8.7-8.5 10.8-9.3 13.3-10.2 16-11.9 20.2-14.5 26.2-23 44.1-23.8 45.7-14.5 26.4-11.9 20.3-10.2 16.1-9.3 13.4-8.5 11.1-7.7 8.8-7.7 7.7-6.8 5.9-5.9 4.3"/>
<path stroke="url(#i35)" d="M1025 588.4l-5.9 1.4-6 2.2-5.9 3-5.9 3.7-6.8 5.1-6.8 6-7.7 7.8-8.5 9.8-9.3 12.2-10.2 14.6-11 17.3-13.6 22.8-18.7 33.3-30.6 55.3-14.4 24.9-11.9 19.3-10.2 15.2-9.4 12.8-8.5 10.4-7.6 8.5-7.6 7.3-6.8 5.7-6 4.2"/>
<path stroke="url(#i36)" d="M1048.4 591.9l-6 1.6-5.9 2.4-6 3.1-6.8 4.4-6.8 5.2-7.6 6.9-7.7 7.9-8.5 9.8-9.3 12-10.2 14.3-11.9 18.1-15.3 24.8-42.5 72.1-14.4 23.3-11.9 17.9-10.2 14.2-9.4 11.9-8.5 9.6-7.6 7.8-7.7 6.7-6.8 5.1-3.3 2.2"/>
<path stroke="url(#i37)" d="M1071.8 594.9l-5.9 1.8-6 2.5-6.8 3.7-6.8 4.5-7.6 6-7.7 7-8.5 8.8-9.3 10.9-10.2 13.1-11.9 16.6-14.5 21.7-22.9 36.5-23.8 37.8-14.5 21.8-11.9 16.7-10.2 13.2-9.3 11-8.5 8.9-7.7 7.1-7.6 6.2-6.8 4.6-.9 .5"/>
<path stroke="url(#i38)" d="M1094.8 597.6l-5.9 2-6.9 3-6.8 3.9-7.6 5.3-7.7 6.2-8.5 8-9.4 9.9-10.2 12-11.1 14.2-13.6 18.8-18.7 27.6-30.7 45.8-14.4 20.6-12 15.7-10.2 12.5-9.3 10.4-8.6 8.4-7.6 6.8-7.7 5.8-6.8 4.3"/>
<path stroke="url(#i39)" d="M1117.9 599.8l-6.8 2.4-6.8 3.3-7.6 4.5-7.7 5.5-8.5 7.1-9.3 8.8-10.2 10.9-11 13-12.8 16.2-17 23.1-35.6 49.9-14.5 19.2-11.9 14.7-10.2 11.7-9.3 9.6-8.5 7.9-8.5 6.9-7.6 5.3-4.3 2.5"/>
<path stroke="url(#i40)" d="M1140.5 601.7l-6.8 2.7-7.7 3.8-7.6 4.7-8.6 6.3-8.5 7.2-9.3 8.8-10.3 10.8-11.9 13.6-14.5 17.9-45.9 60-14.5 17.8-11.9 13.6-10.2 10.6-9.4 8.8-8.5 7.1-7.7 5.6-7.6 4.7-.9 .5"/>
<path stroke="url(#i41)" d="M1163.2 603.2l-7.7 3.2-7.6 4-7.7 4.8-8.5 6.2-9.3 7.9-10.2 9.5-11.9 12.4-13.6 15.3-19.5 23.5-29.8 36.3-14.4 16.7-11.9 12.7-11.1 10.8-9.3 8.2-8.5 6.6-8.5 5.7-5.9 3.5"/>
<path stroke="url(#i42)" d="M1185.3 604.5l-7.7 3.3-7.6 4.1-8.5 5.4-9.3 6.9-10.2 8.5-11 10.4-12.7 12.9-17 18.7-37.3 42.4-15.3 16.4-11.9 11.7-11 9.9-9.3 7.5-8.5 6-8.5 5.1-2.5 1.4"/>
<path stroke="url(#i43)" d="M1207.2 605.5l-7.6 3.4-8.5 4.6-9.3 6.1-9.4 6.9-11 9.2-12.7 11.8-15.3 15.3-43.3 45.7-15.3 15.1-11.9 10.9-11 9.1-9.4 6.8-8.4 5.4-7.7 4.2"/>
<path stroke="url(#i44)" d="M1229 606.1l-8.4 4-9.4 5.2-9.3 6.1-10.2 7.6-11.8 9.8-14.5 13-21.2 20.5-27.1 26.6-15.2 14-11.9 10.1-11 8.4-9.4 6.3-9.3 5.5-4.2 2.1"/>
<path stroke="url(#i45)" d="M1250.2 606.6l-8.5 4.1-9.4 5.2-10.2 6.7-11 8.1-13.6 11-17.9 15.7-35.8 32.3-15.3 13.1-12.7 9.9-11.1 7.6-10.2 6.2-8.5 4.4"/>
<path stroke="url(#i46)" d="M1270.9 606.9l-9.3 4.6-10.2 5.8-11.1 7.2-12.7 9.3-16.2 12.8-41.6 34.7-15.4 11.9-12.7 9.1-11.1 6.9-10.2 5.6-4.2 2"/>
<path stroke="url(#i47)" d="M1291.2 607l-10.2 5-11.1 6.3-12.7 8.3-15.3 10.9-46.7 35.7-15.3 10.9-12.8 8.1-11 6.3-9.4 4.5"/>
<path stroke="url(#i48)" d="M1310.9 606.8l-11 5.5-12.7 7.3-14.5 9.2-22.1 15.2-28 19.7-15.3 9.9-12.7 7.4-11 5.7-6 2.7"/>
<path stroke="url(#i49)" d="M1329.6 606.6l-11.9 5.9-14.4 8.1-19.5 12.1-34 21.7-15.3 9.1-12.8 6.8-11 5.1-1.7 .7"/>
<path stroke="url(#i50)" d="M1347.6 606.2l-13.5 6.6-17.8 9.8-40.7 23.4-16 8.6-12.8 5.9-5.9 2.5"/>
<path stroke="url(#i51)" d="M1364.2 605.8l-17 8.1-45.7 23.7-16.1 7.6-11.9 4.9"/>
<path stroke="url(#i52)" d="M1379.3 605.3l-23.8 10.9-27.2 12.6-16.2 6.7-5.1 2"/>
<path stroke="url(#i53)" d="M1392.2 604.7l-37 15.2-13.5 5"/>
<path stroke="url(#i54)" d="M1401.1 604.4l-22.9 8.1"/>
<path stroke="url(#i56)" d="M1330.4 596.8l-10.2-3.4-10.1-4.1-4.3-1.9"/>
<path stroke="url(#i57)" d="M1485.8 580.3l-2.2 .5M1396.7 591.7l-11-.8-11-1.7-11-2.4-11-3.2-10.9-4.1-9.3-4.1"/>
<path stroke="url(#i58)" d="M1512.4 572.9l-28.1 4.7-17.9 2.3-14.5 1.2-13.6 .3-12.8-.4-11.9-1.1-11.1-1.8-11-2.5-11.1-3.3-11.1-4.1-10.2-4.5"/>
<path stroke="url(#i59)" d="M1539.1 565.4l-29 3.6-17.9 1.6-15.3 .6-13.6-.1-12.8-.9-11.9-1.6-12-2.3-11-2.8-11.1-3.6-11.1-4.4-7.6-3.4"/>
<path stroke="url(#i60)" d="M1565.7 558l-29 2.4-18.7 .9-15.3 .1-13.6-.6-12.8-1.3-12.8-2.1-11.9-2.6-11.9-3.4-12-4.2-11.9-5-3.4-1.6"/>
<path transform="translate(768)" stroke="url(#a89)" stroke-width="3.1" d="M717.6 580.5l81.8-22.7"/>
<path transform="translate(769.7)" stroke="url(#a88)" stroke-width="3.1" d="M716.7 580.3l82.7-22.6"/>
<path transform="translate(771.4)" stroke="url(#a87)" stroke-width="3.1" d="M715.8 580.2l83.6-22.7"/>
<path transform="translate(773.1)" stroke="url(#a86)" stroke-width="3.1" d="M714.9 580.1l84.5-22.8"/>
<path transform="translate(774.8)" stroke="url(#a85)" stroke-width="3.1" d="M713.9 579.9l85.5-22.7"/>
<path transform="translate(776.5)" stroke="url(#a84)" stroke-width="3.1" d="M712.9 579.8l86.5-22.8"/>
<path transform="translate(778.2)" stroke="url(#a83)" stroke-width="3" d="M711.8 579.7l87.6-22.8"/>
<path transform="translate(779.9)" stroke="url(#a82)" stroke-width="3" d="M710.8 579.6l88.6-22.9"/>
<path transform="translate(781.6)" stroke="url(#a81)" stroke-width="3" d="M709.6 579.5l89.8-22.9"/>
<path transform="translate(783.3)" stroke="url(#a80)" stroke-width="3" d="M708.5 579.4l90.9-23"/>
<path transform="translate(785)" stroke="url(#a79)" stroke-width="3" d="M707.3 579.3l92.1-23"/>
<path transform="translate(786.7)" stroke="url(#a78)" stroke-width="3" d="M706.1 579.2l93.3-23"/>
<path transform="translate(788.4)" stroke="url(#a77)" stroke-width="3" d="M704.8 579.1l94.6-23.1"/>
<path transform="translate(790.1)" stroke="url(#a76)" stroke-width="3" d="M703.5 579l95.9-23.1"/>
<path transform="translate(791.8)" stroke="url(#a75)" stroke-width="3" d="M702.2 579l97.2-23.2"/>
<path transform="translate(793.6)" stroke="url(#a74)" stroke-width="2.9" d="M700.7 578.9l98.7-23.3"/>
<path transform="translate(795.3)" stroke="url(#a73)" stroke-width="2.9" d="M699.3 578.9l100.1-23.4"/>
<path transform="translate(797)" stroke="url(#a72)" stroke-width="2.9" d="M697.9 578.8l101.5-23.4"/>
<path transform="translate(798.7)" stroke="url(#a71)" stroke-width="2.9" d="M696.3 578.8l90.2-20.5 12.9-3"/>
<path transform="translate(800.4)" stroke="url(#a70)" stroke-width="2.9" d="M694.8 578.7l91.5-20.5 13.1-3"/>
<path transform="translate(802.1)" stroke="url(#a69)" stroke-width="2.9" d="M693.2 578.7l92.9-20.6 13.3-3"/>
<path transform="translate(803.8)" stroke="url(#a68)" stroke-width="2.9" d="M691.6 578.7l83.8-18.3 24-5.4"/>
<path transform="translate(805.5)" stroke="url(#a67)" stroke-width="2.9" d="M690.4 578.6l84.8-18.3 24.2-5.4"/>
<path transform="translate(807.2)" stroke="url(#a66)" stroke-width="2.9" d="M689 578.5l85.8-18.3 24.6-5.4"/>
<path transform="translate(808.9)" stroke="url(#a65)" stroke-width="2.9" d="M687.4 578.5l87.1-18.3 24.9-5.4"/>
<path transform="translate(810.6)" stroke="url(#a64)" stroke-width="2.8" d="M685.8 578.5l75.7-15.7 37.9-8.1"/>
<path transform="translate(812.3)" stroke="url(#a63)" stroke-width="2.8" d="M683.9 578.5l77-15.7 38.5-8.1"/>
<path transform="translate(814)" stroke="url(#a62)" stroke-width="2.8" d="M681.9 578.6l78.3-15.8 39.2-8.2"/>
<path transform="translate(815.7)" stroke="url(#a61)" stroke-width="2.8" d="M679.8 578.7l79.7-15.9 39.9-8.2"/>
<path transform="translate(817.4)" stroke="url(#a60)" stroke-width="2.8" d="M677.5 578.8l73.1-14.3 48.8-10"/>
<path transform="translate(819.1)" stroke="url(#a59)" stroke-width="2.8" d="M675 578.9l74.6-14.4 49.8-10"/>
<path transform="translate(820.8)" stroke="url(#a58)" stroke-width="2.8" d="M672.4 579.1l76.2-14.5 50.8-10.1"/>
<path transform="translate(822.5)" stroke="url(#a57)" stroke-width="2.8" d="M669.6 579.3l64.9-12.1 64.9-12.7"/>
<path transform="translate(824.2)" stroke="url(#a56)" stroke-width="2.8" d="M666.6 579.5l66.4-12.2 66.4-12.8"/>
<path transform="translate(825.9)" stroke="url(#a55)" stroke-width="2.8" d="M663.5 579.8l74.1-13.5 61.8-11.8"/>
<path transform="translate(827.6)" stroke="url(#a54)" stroke-width="2.8" d="M660.2 580.1l63.3-11.3 75.9-14.3"/>
<path transform="translate(829.3)" stroke="url(#a53)" stroke-width="2.7" d="M656.7 580.4l64.9-11.4 64.8-12 13-2.5"/>
<path transform="translate(831)" stroke="url(#a52)" stroke-width="2.7" d="M653 580.7l66.5-11.4 66.6-12.2 13.3-2.5"/>
<path transform="translate(832.7)" stroke="url(#a51)" stroke-width="2.7" d="M649.1 581.1l62.6-10.6 62.7-11.2 25-4.7"/>
<path transform="translate(834.4)" stroke="url(#a50)" stroke-width="2.7" d="M645 581.5l64.3-10.7 64.4-11.4 25.7-4.7"/>
<path transform="translate(836.1)" stroke="url(#a49)" stroke-width="2.7" d="M640.7 581.9l66.1-10.8 66.2-11.5 26.4-4.8"/>
<path transform="translate(837.8)" stroke="url(#a48)" stroke-width="2.7" d="M636.2 582.3l62.8-10 62.8-10.7 37.6-6.7"/>
<path transform="translate(839.5)" stroke="url(#a47)" stroke-width="2.7" d="M631.5 582.8l64.6-10.1 64.6-10.9 38.7-6.8"/>
<path transform="translate(841.2)" stroke="url(#a46)" stroke-width="2.7" d="M626.5 583.3l66.5-10.3 66.5-11 39.9-6.9"/>
<path transform="translate(843)" stroke="url(#a45)" stroke-width="2.7" d="M621.2 583.8l63.6-9.6 63.7-10.3 50.8-8.7"/>
<path transform="translate(844.7)" stroke="url(#a44)" stroke-width="2.7" d="M615.8 584.3l52.4-7.6 65.6-10.3 65.6-11.1"/>
<path transform="translate(846.4)" stroke="url(#a43)" stroke-width="2.7" d="M610.1 584.9l63.1-9.1 63.1-9.8 63.1-10.5"/>
<path transform="translate(848.1)" stroke="url(#a42)" stroke-width="2.7" d="M604.2 585.4l52-7.2 65.1-9.8 65-10.6 13.1-2.2"/>
<path transform="translate(849.8)" stroke="url(#a41)" stroke-width="2.7" d="M598 586l62.9-8.6 62.9-9.4 63-10.1 12.6-2.1"/>
<path transform="translate(851.5)" stroke="url(#a40)" stroke-width="2.6" d="M591.5 586.6l52-6.8 51.9-7.4 65-10.1 39-6.3"/>
<path transform="translate(853.2)" stroke="url(#a39)" stroke-width="2.6" d="M584.7 587.3l50.5-6.5 63.2-8.9 63.1-9.6 37.9-6.1"/>
<path transform="translate(854.9)" stroke="url(#a38)" stroke-width="2.6" d="M577.6 587.9l52.2-6.5 52.2-7.1 52.2-7.6 65.2-10.3"/>
<path transform="translate(856.6)" stroke="url(#a37)" stroke-width="2.6" d="M570.2 588.6l50.9-6.2 51-6.7 63.6-9.2 63.7-9.9"/>
<path transform="translate(858.3)" stroke="url(#a36)" stroke-width="2.6" d="M562.5 589.3l52.6-6.2 52.7-6.8 52.6-7.4 52.7-7.9 26.3-4.2"/>
<path transform="translate(860)" stroke="url(#a35)" stroke-width="2.6" d="M554.4 589.9l51.6-5.8 51.6-6.4 51.5-7 64.5-9.6 25.8-4"/>
<path transform="translate(861.7)" stroke="url(#a34)" stroke-width="2.6" d="M546 590.6l50.7-5.5 50.6-6.1 50.7-6.7 63.4-9.1 38-5.9"/>
<path transform="translate(863.4)" stroke="url(#a33)" stroke-width="2.6" d="M537.2 591.4l52.4-5.5 52.4-6.2 52.5-6.8 52.4-7.4 52.5-7.9"/>
<path transform="translate(865.1)" stroke="url(#a32)" stroke-width="2.6" d="M527.9 592.1l51.8-5.2 51.7-5.8 51.7-6.5 51.7-7.1 51.7-7.6 12.9-2"/>
<path transform="translate(866.8)" stroke="url(#a31)" stroke-width="2.6" d="M518.3 592.8l51.1-4.9 51.1-5.5 51.1-6.2 51.1-6.8 51.1-7.3 25.6-3.9"/>
<path transform="translate(868.5)" stroke="url(#a30)" stroke-width="2.6" d="M508.3 593.5l52.9-4.8 52.9-5.6 53-6.2 52.9-6.9 52.9-7.5 26.5-4"/>
<path transform="translate(870.2)" stroke="url(#a29)" stroke-width="2.6" d="M497.8 594.2l52.4-4.5 52.5-5.3 52.4-5.9 52.5-6.6 52.5-7.3 39.3-5.8"/>
<path transform="translate(871.9)" stroke="url(#a28)" stroke-width="2.6" d="M486.8 594.9l52.1-4.2 52.1-5 52.1-5.7 52.1-6.3 52.1-7 52.1-7.5"/>
<path transform="translate(873.6)" stroke="url(#a27)" stroke-width="2.6" d="M475.3 595.6l38.9-2.9 51.8-4.5 51.9-5.2 51.9-5.9 51.8-6.6 51.9-7.2 25.9-3.8"/>
<path transform="translate(875.3)" stroke="url(#a26)" stroke-width="2.6" d="M463.3 596.3l38.8-2.7 51.7-4.2 51.7-5 51.7-5.6 51.7-6.4 51.7-6.9 38.8-5.6"/>
<path transform="translate(877)" stroke="url(#a25)" stroke-width="2.6" d="M450.7 596.9l38.7-2.4 51.7-3.9 51.7-4.8 51.6-5.4 51.7-6.1 51.7-6.7 51.6-7.3"/>
<path transform="translate(878.7)" stroke="url(#a24)" stroke-width="2.6" d="M437.5 597.5l38.8-2.2 38.8-2.6 51.7-4.3 51.7-5 51.7-5.7 51.7-6.3 51.7-7 25.8-3.7"/>
<path transform="translate(880.4)" stroke="url(#a23)" stroke-width="2.5" d="M423.7 598.1l38.9-2 38.9-2.4 38.8-2.9 51.9-4.6 51.8-5.3 51.8-5.9 51.8-6.6 51.8-7.3"/>
<path transform="translate(882.1)" stroke="url(#a22)" stroke-width="2.5" d="M409.3 598.6l39-1.7 39-2.2 39-2.7 52.1-4.3 52-5.1 52-5.7 52-6.4 52-7.1 13-1.8"/>
<path transform="translate(883.8)" stroke="url(#a21)" stroke-width="2.5" d="M394.2 599l39.2-1.4 39.2-2 39.2-2.4 39.3-3 52.2-4.6 52.3-5.4 52.3-6 52.3-6.7 39.2-5.5"/>
<path transform="translate(885.5)" stroke="url(#a20)" stroke-width="2.5" d="M378.3 599.4l39.5-1.2 39.5-1.7 39.5-2.2 39.4-2.7 52.7-4.4 52.6-5.1 52.7-5.9 52.6-6.5 52.6-7.2"/>
<path transform="translate(887.2)" stroke="url(#a19)" stroke-width="2.5" d="M361.7 599.6l39.8-.8 39.8-1.4 39.8-2 39.8-2.5 39.8-3 53-4.7 53.1-5.5 53.1-6.2 53-6.8 26.5-3.7"/>
<path transform="translate(888.9)" stroke="url(#a18)" stroke-width="2.5" d="M344.3 599.7l39-.4 39-1.1 39-1.6 39-2.2 39.1-2.6 52-4.2 52-5 52-5.8 52-6.3 52-7"/>
<path transform="translate(890.6)" stroke="url(#a17)" stroke-width="2.5" d="M326 599.7l39.5-.1 39.4-.7 39.5-1.4 39.4-1.9 39.5-2.4 39.4-2.9 52.6-4.6 52.6-5.3 52.6-6.1 52.6-6.7 26.3-3.6"/>
<path transform="translate(892.3)" stroke="url(#a16)" stroke-width="2.5" d="M306.9 599.5l39.9 .3 39.9-.4 40-1 39.9-1.7 40-2.2 39.9-2.7 39.9-3.1 53.3-5 53.2-5.7 53.3-6.4 53.2-7.1"/>
<path transform="translate(894)" stroke="url(#a15)" stroke-width="2.5" d="M286.8 599.1l39.4 .7 39.4 0 39.5-.6 39.4-1.3 39.4-1.8 39.5-2.3 39.4-2.8 52.6-4.5 52.6-5.3 52.6-5.9 52.6-6.7 26.2-3.5"/>
<path transform="translate(895.8)" stroke="url(#a14)" stroke-width="2.5" d="M265.6 598.4l39 1.2 39.1 .5 39-.3 39.1-.8 39.1-1.5 39-1.9 39.1-2.5 39-3 52.1-4.6 52.1-5.3 52.1-6.1 52-6.7 13.1-1.7"/>
<path transform="translate(897.5)" stroke="url(#a13)" stroke-width="2.5" d="M243.5 597.5l39.7 1.7 39.7 .9 39.7 .1 39.7-.5 39.7-1.1 39.7-1.7 39.7-2.3 39.7-2.7 39.7-3.3 53-4.9 52.9-5.8 52.9-6.4 39.8-5.3"/>
<path transform="translate(899.2)" stroke="url(#a12)" stroke-width="2.5" d="M220.3 596.2l39.5 2.2 39.5 1.4 39.4 .7 39.5-.1 39.5-.7 39.5-1.3 39.5-1.9 39.4-2.4 39.5-2.9 52.7-4.6 52.6-5.3 52.7-6 52.6-6.7 13.2-1.8"/>
<path transform="translate(900.9)" stroke="url(#a11)" stroke-width="2.5" d="M196 594.4l26.3 2 39.3 2.3 39.4 1.4 39.3 .6 39.4 0 39.3-.7 39.3-1.3 39.4-1.9 39.3-2.3 39.4-2.9 52.5-4.5 52.4-5.3 52.5-5.9 52.4-6.7 13.2-1.7"/>
<path transform="translate(902.6)" stroke="url(#a10)" stroke-width="2.5" d="M170.6 592.2l26.2 2.5 26.2 2 39.3 2.3 39.3 1.4 39.3 .7 39.3-.1 39.3-.6 39.3-1.3 39.3-1.8 39.3-2.4 39.3-2.8 52.4-4.5 52.4-5.2 52.4-6 52.4-6.6 13.1-1.7"/>
<path transform="translate(904.3)" stroke="url(#a9)" stroke-width="2.5" d="M144.1 589.4l26.3 3 26.2 2.5 26.2 2 39.3 2.4 39.3 1.4 39.3 .7 39.3 .1 39.3-.7 39.4-1.2 39.3-1.8 39.3-2.3 39.3-2.8 52.4-4.5 52.4-5.2 52.4-5.9 52.5-6.6 13.1-1.8"/>
<path transform="translate(906)" stroke="url(#a8)" stroke-width="2.5" d="M116.5 586l26.3 3.5 26.2 3 26.3 2.6 26.3 2.1 39.4 2.4 39.4 1.5 39.4 .8 39.4 0 39.3-.6 39.4-1.2 39.4-1.8 39.4-2.3 39.4-2.7 52.6-4.5 52.5-5.2 52.5-5.9 52.5-6.6 13.2-1.7"/>
<path transform="translate(907.7)" stroke="url(#a7)" stroke-width="2.5" d="M87.8 581.7l26.3 4.2 26.4 3.6 26.3 3.1 26.4 2.6 26.4 2.2 26.3 1.7 39.5 1.9 39.6 1.1 39.5 .3 39.5-.3 39.6-1 39.5-1.5 39.5-2.1 39.6-2.6 39.5-3.1 52.7-4.8 52.7-5.5 52.7-6.3 39.6-5.1"/>
<path transform="translate(909.4)" stroke="url(#a6)" stroke-width="2.5" d="M58 576.5l26.5 4.9 26.5 4.4 26.4 3.7 26.5 3.2 26.5 2.7 26.5 2.2 26.5 1.8 39.7 2 39.7 1.2 39.7 .4 39.7-.3 39.7-1 39.7-1.5 39.8-2 39.7-2.6 39.7-3.1 53-4.8 52.9-5.5 53-6.3 39.7-5.1"/>
<path transform="translate(911.1)" stroke="url(#a5)" stroke-width="2.5" d="M27.3 570.3l26.6 5.7 26.6 5.1 26.6 4.5 26.7 3.8 26.6 3.3 26.6 2.8 26.6 2.4 26.7 1.9 39.9 2 39.9 1.3 40 .4 39.9-.2 40-.9 39.9-1.5 39.9-2 40-2.6 39.9-3 53.2-4.8 53.3-5.6 53.2-6.3 40-5.1"/>
<path transform="translate(912.8)" stroke="url(#a4)" stroke-width="2.5" d="M0 563.9l26.6 6.6 26.7 5.9 26.6 5.1 26.7 4.5 26.6 3.9 26.7 3.3 26.6 2.8 26.7 2.4 26.6 1.9 40 2.1 39.9 1.2 40 .5 40-.2 40-.9 39.9-1.4 40-2 40-2.6 39.9-3 53.3-4.8 53.3-5.6 53.3-6.2 40-5.2"/>
<path transform="translate(914.5)" stroke="url(#a3)" stroke-width="2.5" d="M0 564.4l26.6 6.7 26.7 5.8 26.6 5.1 26.7 4.5 26.6 3.9 26.7 3.4 26.6 2.8 26.7 2.4 26.6 1.9 40 2.1 40 1.3 39.9 .5 40-.2 40-.9 39.9-1.4 40-2.1 40-2.5 39.9-3 53.3-4.8 53.3-5.5 53.3-6.3 40-5.1"/>
<path transform="translate(916.2)" stroke="url(#a2)" stroke-width="2.5" d="M0 565l26.6 6.7 26.7 5.8 26.6 5.2 26.7 4.5 26.6 3.9 26.7 3.3 26.6 2.9 26.7 2.3 26.6 2 40 2.1 40 1.3 39.9 .5 40-.2 40-.9 39.9-1.4 40-2 40-2.6 39.9-3 53.3-4.7 53.3-5.6 53.3-6.2 40-5.2"/>
<path transform="translate(917.9)" stroke="url(#a1)" stroke-width="2.5" d="M0 565.7l26.6 6.6 26.7 5.9 26.6 5.2 26.7 4.5 26.6 3.9 26.7 3.3 26.6 2.9 26.7 2.4 26.6 1.9 40 2.1 40 1.3 39.9 .5 40-.2 40-.8 39.9-1.5 40-2 40-2.5 39.9-3 53.3-4.8 53.3-5.5 53.3-6.2 40-5.2"/>
<path transform="translate(919.6)" stroke="url(#a0)" stroke-width="2.5" d="M0 566.5l26.6 6.6 26.7 5.9 26.6 5.1 26.7 4.5 26.6 3.9 26.7 3.4 26.6 2.9 26.7 2.3 26.6 2 40 2.1 40 1.3 39.9 .5 40-.2 40-.8 39.9-1.5 40-2 40-2.5 40-3 53.2-4.8 53.3-5.5 53.3-6.2 40-5.2"/>
<path stroke="url(#i30)" d="M919.6 566.5l-4.7-1.9-2.3-.7"/>
<path stroke="url(#i31)" d="M946.2 573.1l-5-2-3.4-1"/>
<path stroke="url(#i32)" d="M972.9 579l-5-2.1-5-1.3"/>
<path stroke="url(#i33)" d="M999.5 584.1l-5.7-2.3-4.9-1.3-.8-.1"/>
<path stroke="url(#i34)" d="M1026.2 588.6l-5.7-2.3-5.7-1.5-1.6-.2"/>
<path stroke="url(#i35)" d="M1052.8 592.5l-5.7-2.3-5.7-1.5-3.2-.6"/>
<path stroke="url(#i36)" d="M1079.5 595.9l-5.7-2.3-5.8-1.7-4.9-.8"/>
<path stroke="url(#i37)" d="M1106.1 598.8l-5.7-2.4-5.8-1.7-5.7-1-.9 0"/>
<path stroke="url(#i38)" d="M1132.8 601.1l-5.8-2.4-5.9-1.7-5.8-1.1-2.5-.2"/>
<path stroke="url(#i39)" d="M1159.4 603.1l-5.9-2.5-5.9-1.8-5.8-1.1-4.2-.4"/>
<path stroke="url(#i40)" d="M1186.1 604.6l-6.6-2.7-6.6-2-6.6-1.1-4.1-.3"/>
<path stroke="url(#i41)" d="M1212.7 605.7l-6.7-2.8-6.7-2-6.8-1.2-5.9-.4"/>
<path stroke="url(#i42)" d="M1239.4 606.5l-6.7-2.8-6.7-2.1-6.7-1.3-6.7-.6-1.6 0"/>
<path stroke="url(#i43)" d="M1266 606.9l-6.7-2.8-6.6-2.1-6.7-1.4-6.7-.8-4.2-.1"/>
<path stroke="url(#i44)" d="M1292.7 607l-7.6-3.1-6.7-2.1-6.7-1.4-6.7-.8-5.9-.1"/>
<path stroke="url(#i45)" d="M1319.3 606.8l-7.6-3.2-7.6-2.4-7.6-1.5-7.7-.8-5.9 0"/>
<path stroke="url(#i46)" d="M1345.9 606.3l-7.5-3.2-7.6-2.4-7.5-1.7-7.6-.9-7.6-.2-1.6 .1"/>
<path stroke="url(#i47)" d="M1372.6 605.6l-7.6-3.3-7.5-2.5-7.6-1.7-7.6-1.1-7.6-.3-5 .1"/>
<path stroke="url(#i48)" d="M1399.2 604.5l-7.6-3.2-7.6-2.6-7.7-1.9-7.6-1.1-7.6-.5-8.5 .2"/>
<path stroke="url(#i49)" d="M1425.9 603.3l-8.5-3.6-8.4-2.8-8.5-2-8.5-1.2-8.4-.4-8.5 .3"/>
<path stroke="url(#i50)" d="M1452.5 601.7l-8.4-3.6-8.4-2.8-8.4-2.1-8.4-1.3-8.4-.7-8.3 .1-5.1 .4"/>
<path stroke="url(#i51)" d="M1479.2 600l-8.4-3.6-8.5-2.9-8.4-2.2-8.4-1.5-8.5-.8-9.2-.1-9.3 .6"/>
<path stroke="url(#i52)" d="M1505.8 598l-9.3-4-9.3-3.1-9.3-2.4-9.3-1.5-9.3-.8-9.3 0-9.3 .7-1.7 .2"/>
<path stroke="url(#i53)" d="M1532.5 595.9l-9.4-4.1-9.4-3.2-9.3-2.5-9.4-1.7-9.3-.9-9.4-.3-10.2 .5-7.7 .9"/>
<path stroke="url(#i54)" d="M1559.1 593.5l-9.3-4.1-9.3-3.3-9.3-2.5-9.4-1.9-9.3-1.2-10.1-.5-10.2 .3-11 1-5.1 .7"/>
<path stroke="url(#i55)" d="M1585.8 590.9l-10.2-4.4-10.2-3.6-10.2-2.7-10.2-2-10.2-1.2-10.2-.5-11 .3-11.9 1.1-11.1 1.7"/>
<path stroke="url(#i56)" d="M1612.4 588.1l-10.2-4.4-10.2-3.6-10.1-2.9-10.2-2.2-10.2-1.4-11-.7-11.1-.1-11.9 .8-12.7 1.5-14.4 2.6-5.1 1"/>
<path stroke="url(#i57)" d="M1639.1 585.2l-11.1-4.8-10.2-3.7-10.3-2.9-11-2.4-11.1-1.7-11.1-.8-11.9-.2-12.8 .6-13.6 1.5-16.2 2.5-21.3 4.2-12.7 2.8"/>
<path stroke="url(#i58)" d="M1665.7 582.1l-11.1-4.9-11-4-11.1-3.2-11.1-2.5-11.1-1.7-11.9-1.1-12.7-.4-13.7 .4-15.3 1.3-17.9 2.4-26.4 4.5"/>
<path stroke="url(#i59)" d="M1692.4 578.8l-11.1-4.9-11.1-4.1-11.1-3.4-11.9-2.8-11.9-2-11.9-1.3-12.8-.7-14.5 .1-16.2 1-19.6 2-21.2 2.7"/>
<path stroke="url(#i60)" d="M1719 575.3l-11.9-5.2-11.9-4.4-12-3.7-11.9-2.8-12.8-2.3-12.7-1.4-13.7-.9-15.3-.1-17.9 .7-25.5 2.1-7.7 .7"/>
</g>
<g fill="none" stroke="#262626" stroke-width="3.3" stroke-linecap="butt"><path d="M306.4 243.6L306.4 883L919.6 1173.9L1719 950.4" stroke-linejoin="miter"/><path d="M306.4 883L285.6 873.1"/><path d="M306.4 723.2L285.6 713.3"/><path d="M306.4 563.3L285.6 553.4"/><path d="M306.4 403.5L285.6 393.6"/><path d="M306.4 243.6L285.6 233.7"/><path d="M919.6 1173.9L897.4 1180.1"/><path d="M843 1137.5L820.8 1143.7"/><path d="M766.3 1101.2L744.1 1107.4"/><path d="M689.7 1064.8L667.5 1071"/><path d="M613 1028.5L590.8 1034.6"/><path d="M536.4 992.1L514.2 998.3"/><path d="M459.7 955.7L437.5 961.9"/><path d="M383.1 919.4L360.9 925.6"/><path d="M306.4 883L284.2 889.2"/><path d="M919.6 1173.9L940.4 1183.8"/><path d="M1186.1 1099.4L1206.8 1109.3"/><path d="M1452.5 1024.9L1473.3 1034.8"/><path d="M1719 950.4L1739.8 960.3"/></g>
<g font-size="53.33px" text-anchor="end" stroke="#fff" stroke-width="0.3"><text transform="translate(268 889) scale(1 1.04)"><tspan textLength="40" lengthAdjust="spacingAndGlyphs" dy="2.6">−</tspan><tspan dy="-2.6" dx="1.4">0.04</tspan></text><text transform="translate(268 729.2) scale(1 1.04)"><tspan textLength="40" lengthAdjust="spacingAndGlyphs" dy="2.6">−</tspan><tspan dy="-2.6" dx="1.4">0.02</tspan></text><text transform="translate(268 569.3) scale(1 1.04)">0</text><text transform="translate(268 409.5) scale(1 1.04)">0.02</text><text transform="translate(268 249.6) scale(1 1.04)">0.04</text></g>
<g font-size="53.33px" text-anchor="end" letter-spacing="4.9" stroke="#fff" stroke-width="0.5"><text transform="translate(902.1 1194.3) rotate(-64) scale(0.86 1.04)">0</text><text transform="translate(825.4 1157.9) rotate(-64) scale(0.86 1.04)">45</text><text transform="translate(748.8 1121.6) rotate(-64) scale(0.86 1.04)">90</text><text transform="translate(672.1 1085.2) rotate(-64) scale(0.86 1.04)">135</text><text transform="translate(595.5 1048.9) rotate(-64) scale(0.86 1.04)">180</text><text transform="translate(518.8 1012.5) rotate(-64) scale(0.86 1.04)">225</text><text transform="translate(442.2 976.1) rotate(-64) scale(0.86 1.04)">270</text><text transform="translate(365.5 939.8) rotate(-64) scale(0.86 1.04)">315</text><text transform="translate(288.8 903.4) rotate(-64) scale(0.86 1.04)">360</text></g>
<g font-size="53.33px" text-anchor="middle" stroke="#fff" stroke-width="0.3"><text transform="translate(986.1 1249.1) scale(1 1.04)">30</text><text transform="translate(1251.6 1174.6) scale(1 1.04)">40</text><text transform="translate(1519.4 1098.6) scale(1 1.04)">50</text><text transform="translate(1784.9 1023.9) scale(1 1.04)">60</text></g>
<g font-size="58.67px"><text transform="translate(46.4 1295.8) scale(1 1.04)" letter-spacing="0.45">Azimuth Angle / deg</text><text transform="translate(1032.5 1317.8) scale(1 1.04)" letter-spacing="0.55">Incidence Angle / deg</text><text transform="translate(88.8 954) rotate(-90) scale(1 1.04)" letter-spacing="0.45">Radial Velocity Offset / m·s<tspan font-size="46.9px" dy="-27.2" dx="5.5" textLength="32" lengthAdjust="spacingAndGlyphs">−</tspan><tspan font-size="46.9px" dx="4.5" dy="-2.2">1</tspan></text></g>
</svg>
</body></html>
